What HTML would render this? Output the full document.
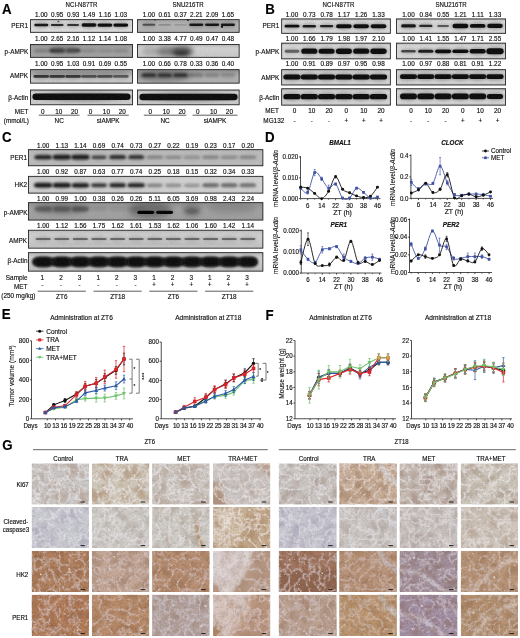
<!DOCTYPE html>
<html><head><meta charset="utf-8"><title>Figure</title>
<style>html,body{margin:0;padding:0;background:#fff;}svg{display:block;}text{font-family:"Liberation Sans",Arial,sans-serif;stroke:#111;stroke-width:0.14px;}</style>
</head><body>
<svg width="520" height="638" viewBox="0 0 520 638" fill="#111">
<defs>
<filter id="b0_5" x="-50%" y="-50%" width="200%" height="200%"><feGaussianBlur stdDeviation="0.5"/></filter>
<filter id="b0_6" x="-50%" y="-50%" width="200%" height="200%"><feGaussianBlur stdDeviation="0.6"/></filter>
<filter id="b0_7" x="-50%" y="-50%" width="200%" height="200%"><feGaussianBlur stdDeviation="0.7"/></filter>
<filter id="b0_8" x="-50%" y="-50%" width="200%" height="200%"><feGaussianBlur stdDeviation="0.8"/></filter>
<filter id="b0_9" x="-50%" y="-50%" width="200%" height="200%"><feGaussianBlur stdDeviation="0.9"/></filter>
<filter id="b1" x="-50%" y="-50%" width="200%" height="200%"><feGaussianBlur stdDeviation="1"/></filter>
<filter id="b1_2" x="-50%" y="-50%" width="200%" height="200%"><feGaussianBlur stdDeviation="1.2"/></filter>
<filter id="b1_3" x="-50%" y="-50%" width="200%" height="200%"><feGaussianBlur stdDeviation="1.3"/></filter>
<filter id="b1_5" x="-50%" y="-50%" width="200%" height="200%"><feGaussianBlur stdDeviation="1.5"/></filter>
<filter id="b1_8" x="-50%" y="-50%" width="200%" height="200%"><feGaussianBlur stdDeviation="1.8"/></filter>
<filter id="b2" x="-50%" y="-50%" width="200%" height="200%"><feGaussianBlur stdDeviation="2"/></filter>
<filter id="b2_5" x="-50%" y="-50%" width="200%" height="200%"><feGaussianBlur stdDeviation="2.5"/></filter>
<filter id="b3" x="-50%" y="-50%" width="200%" height="200%"><feGaussianBlur stdDeviation="3"/></filter>
<filter id="bnoise" x="0" y="0" width="1" height="1" color-interpolation-filters="sRGB"><feTurbulence type="fractalNoise" baseFrequency="0.6 0.9" numOctaves="2" seed="4"/><feColorMatrix type="matrix" values="0 0 0 0 0.5 0 0 0 0 0.5 0 0 0 0 0.5 1.2 0 0 0 -0.45"/></filter>

<clipPath id="c1"><rect x="30" y="19.2" width="103" height="13.6"/></clipPath>
<linearGradient id="gc1" x1="0" y1="0" x2="0" y2="1"><stop offset="0" stop-color="#888" stop-opacity="0.45"/><stop offset="0.25" stop-color="#bbb" stop-opacity="0.0"/><stop offset="0.8" stop-color="#bbb" stop-opacity="0"/><stop offset="1" stop-color="#888" stop-opacity="0.3"/></linearGradient>
<clipPath id="c2"><rect x="30" y="44" width="103" height="13.8"/></clipPath>
<linearGradient id="gc2" x1="0" y1="0" x2="0" y2="1"><stop offset="0" stop-color="#666" stop-opacity="0.45"/><stop offset="0.35" stop-color="#999" stop-opacity="0.1"/><stop offset="1" stop-color="#777" stop-opacity="0.2"/></linearGradient>
<clipPath id="c3"><rect x="30" y="69.2" width="103" height="14.4"/></clipPath>
<linearGradient id="gc3" x1="0" y1="0" x2="0" y2="1"><stop offset="0" stop-color="#666" stop-opacity="0.55"/><stop offset="0.45" stop-color="#888" stop-opacity="0.25"/><stop offset="0.6" stop-color="#bbb" stop-opacity="0.0"/><stop offset="1" stop-color="#999" stop-opacity="0.15"/></linearGradient>
<clipPath id="c4"><rect x="30" y="89.6" width="103" height="15.6"/></clipPath>
<linearGradient id="gc4" x1="0" y1="0" x2="0" y2="1"><stop offset="0" stop-color="#666" stop-opacity="0.35"/><stop offset="0.25" stop-color="#aaa" stop-opacity="0.0"/><stop offset="1" stop-color="#999" stop-opacity="0.25"/></linearGradient>
<clipPath id="c5"><rect x="137" y="19.2" width="102.6" height="13.6"/></clipPath>
<linearGradient id="gc5" x1="0" y1="0" x2="0" y2="1"><stop offset="0" stop-color="#777" stop-opacity="0.45"/><stop offset="0.4" stop-color="#aaa" stop-opacity="0.1"/><stop offset="1" stop-color="#888" stop-opacity="0.25"/></linearGradient>
<clipPath id="c6"><rect x="137" y="44" width="102.6" height="13.8"/></clipPath>
<linearGradient id="gc6" x1="0" y1="0" x2="0" y2="1"><stop offset="0" stop-color="#777" stop-opacity="0.4"/><stop offset="0.3" stop-color="#999" stop-opacity="0.0"/><stop offset="1" stop-color="#888" stop-opacity="0.15"/></linearGradient>
<clipPath id="c7"><rect x="137" y="69.2" width="102.6" height="14.4"/></clipPath>
<linearGradient id="gc7" x1="0" y1="0" x2="0" y2="1"><stop offset="0" stop-color="#444" stop-opacity="0.45"/><stop offset="0.5" stop-color="#888" stop-opacity="0.1"/><stop offset="1" stop-color="#888" stop-opacity="0.2"/></linearGradient>
<clipPath id="c8"><rect x="137" y="89.6" width="102.6" height="15.6"/></clipPath>
<linearGradient id="gc8" x1="0" y1="0" x2="0" y2="1"><stop offset="0" stop-color="#666" stop-opacity="0.35"/><stop offset="0.25" stop-color="#aaa" stop-opacity="0.0"/><stop offset="1" stop-color="#999" stop-opacity="0.25"/></linearGradient>
<clipPath id="c9"><rect x="281.2" y="18.5" width="109.6" height="15.3"/></clipPath>
<linearGradient id="gc9" x1="0" y1="0" x2="0" y2="1"><stop offset="0" stop-color="#666" stop-opacity="0.4"/><stop offset="0.22" stop-color="#aaa" stop-opacity="0.0"/><stop offset="0.8" stop-color="#aaa" stop-opacity="0.0"/><stop offset="1" stop-color="#777" stop-opacity="0.3"/></linearGradient>
<clipPath id="c10"><rect x="281.2" y="42.7" width="109.6" height="16.6"/></clipPath>
<linearGradient id="gc10" x1="0" y1="0" x2="0" y2="1"><stop offset="0" stop-color="#666" stop-opacity="0.4"/><stop offset="0.22" stop-color="#aaa" stop-opacity="0.0"/><stop offset="0.8" stop-color="#aaa" stop-opacity="0.0"/><stop offset="1" stop-color="#777" stop-opacity="0.3"/></linearGradient>
<clipPath id="c11"><rect x="281.2" y="69.2" width="109.6" height="16.2"/></clipPath>
<linearGradient id="gc11" x1="0" y1="0" x2="0" y2="1"><stop offset="0" stop-color="#666" stop-opacity="0.4"/><stop offset="0.22" stop-color="#aaa" stop-opacity="0.0"/><stop offset="0.8" stop-color="#aaa" stop-opacity="0.0"/><stop offset="1" stop-color="#777" stop-opacity="0.3"/></linearGradient>
<clipPath id="c12"><rect x="281.2" y="88.3" width="109.6" height="17.3"/></clipPath>
<linearGradient id="gc12" x1="0" y1="0" x2="0" y2="1"><stop offset="0" stop-color="#666" stop-opacity="0.4"/><stop offset="0.22" stop-color="#aaa" stop-opacity="0.0"/><stop offset="0.8" stop-color="#aaa" stop-opacity="0.0"/><stop offset="1" stop-color="#777" stop-opacity="0.3"/></linearGradient>
<clipPath id="c13"><rect x="396" y="18.5" width="110" height="15.3"/></clipPath>
<linearGradient id="gc13" x1="0" y1="0" x2="0" y2="1"><stop offset="0" stop-color="#666" stop-opacity="0.4"/><stop offset="0.22" stop-color="#aaa" stop-opacity="0.0"/><stop offset="0.8" stop-color="#aaa" stop-opacity="0.0"/><stop offset="1" stop-color="#777" stop-opacity="0.3"/></linearGradient>
<clipPath id="c14"><rect x="396" y="42.7" width="110" height="16.6"/></clipPath>
<linearGradient id="gc14" x1="0" y1="0" x2="0" y2="1"><stop offset="0" stop-color="#666" stop-opacity="0.4"/><stop offset="0.22" stop-color="#aaa" stop-opacity="0.0"/><stop offset="0.8" stop-color="#aaa" stop-opacity="0.0"/><stop offset="1" stop-color="#777" stop-opacity="0.3"/></linearGradient>
<clipPath id="c15"><rect x="396" y="69.2" width="110" height="16.2"/></clipPath>
<linearGradient id="gc15" x1="0" y1="0" x2="0" y2="1"><stop offset="0" stop-color="#666" stop-opacity="0.4"/><stop offset="0.22" stop-color="#aaa" stop-opacity="0.0"/><stop offset="0.8" stop-color="#aaa" stop-opacity="0.0"/><stop offset="1" stop-color="#777" stop-opacity="0.3"/></linearGradient>
<clipPath id="c16"><rect x="396" y="88.3" width="110" height="17.3"/></clipPath>
<linearGradient id="gc16" x1="0" y1="0" x2="0" y2="1"><stop offset="0" stop-color="#666" stop-opacity="0.4"/><stop offset="0.22" stop-color="#aaa" stop-opacity="0.0"/><stop offset="0.8" stop-color="#aaa" stop-opacity="0.0"/><stop offset="1" stop-color="#777" stop-opacity="0.3"/></linearGradient>
<clipPath id="c17"><rect x="28" y="149.2" width="235.3" height="17"/></clipPath>
<linearGradient id="gc17" x1="0" y1="0" x2="0" y2="1"><stop offset="0" stop-color="#888" stop-opacity="0.45"/><stop offset="0.2" stop-color="#bbb" stop-opacity="0.0"/><stop offset="0.8" stop-color="#bbb" stop-opacity="0.0"/><stop offset="1" stop-color="#777" stop-opacity="0.35"/></linearGradient>
<clipPath id="c18"><rect x="28" y="175.9" width="235.3" height="17.7"/></clipPath>
<linearGradient id="gc18" x1="0" y1="0" x2="0" y2="1"><stop offset="0" stop-color="#999" stop-opacity="0.35"/><stop offset="0.2" stop-color="#bbb" stop-opacity="0.0"/><stop offset="0.8" stop-color="#bbb" stop-opacity="0.0"/><stop offset="1" stop-color="#777" stop-opacity="0.35"/></linearGradient>
<clipPath id="c19"><rect x="28" y="202.2" width="235.3" height="18.3"/></clipPath>
<linearGradient id="gc19" x1="0" y1="0" x2="0" y2="1"><stop offset="0" stop-color="#666" stop-opacity="0.35"/><stop offset="0.5" stop-color="#999" stop-opacity="0.1"/><stop offset="1" stop-color="#888" stop-opacity="0.25"/></linearGradient>
<clipPath id="c20"><rect x="28" y="229.8" width="235.3" height="18.8"/></clipPath>
<linearGradient id="gc20" x1="0" y1="0" x2="0" y2="1"><stop offset="0" stop-color="#888" stop-opacity="0.35"/><stop offset="0.3" stop-color="#bbb" stop-opacity="0.0"/><stop offset="1" stop-color="#999" stop-opacity="0.25"/></linearGradient>
<clipPath id="c21"><rect x="28" y="252.2" width="235.3" height="19.4"/></clipPath>
<linearGradient id="gc21" x1="0" y1="0" x2="0" y2="1"><stop offset="0" stop-color="#777" stop-opacity="0.35"/><stop offset="0.3" stop-color="#bbb" stop-opacity="0.0"/><stop offset="1" stop-color="#888" stop-opacity="0.3"/></linearGradient>
<filter id="fp1" x="0" y="0" width="1" height="1" color-interpolation-filters="sRGB"><feTurbulence type="fractalNoise" baseFrequency="0.09" numOctaves="2" seed="10"/><feColorMatrix type="matrix" values="0 0 0 0 0.659 0 0 0 0 0.525 0 0 0 0 0.439 3.00 0 0 0 -1.20"/></filter>
<filter id="fc1" x="0" y="0" width="1" height="1" color-interpolation-filters="sRGB"><feTurbulence type="turbulence" baseFrequency="0.1" numOctaves="3" seed="17"/><feColorMatrix type="matrix" values="0 0 0 0 0.896 0 0 0 0 0.885 0 0 0 0 0.899 0 -4.50 0 0 1.35"/><feGaussianBlur stdDeviation="0.45"/></filter>
<filter id="fl1" x="0" y="0" width="1" height="1" color-interpolation-filters="sRGB"><feTurbulence type="fractalNoise" baseFrequency="0.25" numOctaves="2" seed="19"/><feColorMatrix type="matrix" values="0 0 0 0 0.960 0 0 0 0 0.945 0 0 0 0 0.950 6.00 0 0 0 -4.30"/></filter>
<filter id="fg1" x="0" y="0" width="1" height="1" color-interpolation-filters="sRGB"><feTurbulence type="fractalNoise" baseFrequency="0.45" numOctaves="2" seed="23"/><feColorMatrix type="matrix" values="0 0 0 0 0.576 0 0 0 0 0.565 0 0 0 0 0.559 2.00 0 0 0 -0.95"/></filter>
<clipPath id="ic1"><rect x="31.7" y="463.4" width="57.3" height="41"/></clipPath>
<filter id="fp2" x="0" y="0" width="1" height="1" color-interpolation-filters="sRGB"><feTurbulence type="fractalNoise" baseFrequency="0.09" numOctaves="2" seed="17"/><feColorMatrix type="matrix" values="0 0 0 0 0.635 0 0 0 0 0.478 0 0 0 0 0.353 3.00 0 0 0 -1.20"/></filter>
<filter id="fc2" x="0" y="0" width="1" height="1" color-interpolation-filters="sRGB"><feTurbulence type="turbulence" baseFrequency="0.1" numOctaves="3" seed="24"/><feColorMatrix type="matrix" values="0 0 0 0 0.907 0 0 0 0 0.888 0 0 0 0 0.882 0 -4.50 0 0 1.35"/><feGaussianBlur stdDeviation="0.45"/></filter>
<filter id="fl2" x="0" y="0" width="1" height="1" color-interpolation-filters="sRGB"><feTurbulence type="fractalNoise" baseFrequency="0.25" numOctaves="2" seed="26"/><feColorMatrix type="matrix" values="0 0 0 0 0.960 0 0 0 0 0.945 0 0 0 0 0.950 6.00 0 0 0 -4.30"/></filter>
<filter id="fg2" x="0" y="0" width="1" height="1" color-interpolation-filters="sRGB"><feTurbulence type="fractalNoise" baseFrequency="0.45" numOctaves="2" seed="30"/><feColorMatrix type="matrix" values="0 0 0 0 0.593 0 0 0 0 0.570 0 0 0 0 0.531 2.00 0 0 0 -0.95"/></filter>
<clipPath id="ic2"><rect x="91.9" y="463.4" width="57.3" height="41"/></clipPath>
<filter id="fp3" x="0" y="0" width="1" height="1" color-interpolation-filters="sRGB"><feTurbulence type="fractalNoise" baseFrequency="0.09" numOctaves="2" seed="24"/><feColorMatrix type="matrix" values="0 0 0 0 0.624 0 0 0 0 0.502 0 0 0 0 0.439 3.00 0 0 0 -1.20"/></filter>
<filter id="fc3" x="0" y="0" width="1" height="1" color-interpolation-filters="sRGB"><feTurbulence type="turbulence" baseFrequency="0.1" numOctaves="3" seed="31"/><feColorMatrix type="matrix" values="0 0 0 0 0.900 0 0 0 0 0.885 0 0 0 0 0.892 0 -4.50 0 0 1.35"/><feGaussianBlur stdDeviation="0.45"/></filter>
<filter id="fl3" x="0" y="0" width="1" height="1" color-interpolation-filters="sRGB"><feTurbulence type="fractalNoise" baseFrequency="0.25" numOctaves="2" seed="33"/><feColorMatrix type="matrix" values="0 0 0 0 0.960 0 0 0 0 0.945 0 0 0 0 0.950 6.00 0 0 0 -4.30"/></filter>
<filter id="fg3" x="0" y="0" width="1" height="1" color-interpolation-filters="sRGB"><feTurbulence type="fractalNoise" baseFrequency="0.45" numOctaves="2" seed="37"/><feColorMatrix type="matrix" values="0 0 0 0 0.582 0 0 0 0 0.565 0 0 0 0 0.548 2.00 0 0 0 -0.95"/></filter>
<clipPath id="ic3"><rect x="152.1" y="463.4" width="57.5" height="41"/></clipPath>
<filter id="fp4" x="0" y="0" width="1" height="1" color-interpolation-filters="sRGB"><feTurbulence type="fractalNoise" baseFrequency="0.09" numOctaves="2" seed="31"/><feColorMatrix type="matrix" values="0 0 0 0 0.659 0 0 0 0 0.541 0 0 0 0 0.471 3.00 0 0 0 -1.20"/></filter>
<filter id="fc4" x="0" y="0" width="1" height="1" color-interpolation-filters="sRGB"><feTurbulence type="turbulence" baseFrequency="0.1" numOctaves="3" seed="38"/><feColorMatrix type="matrix" values="0 0 0 0 0.902 0 0 0 0 0.875 0 0 0 0 0.869 0 -4.50 0 0 1.35"/><feGaussianBlur stdDeviation="0.45"/></filter>
<filter id="fl4" x="0" y="0" width="1" height="1" color-interpolation-filters="sRGB"><feTurbulence type="fractalNoise" baseFrequency="0.25" numOctaves="2" seed="40"/><feColorMatrix type="matrix" values="0 0 0 0 0.960 0 0 0 0 0.945 0 0 0 0 0.950 6.00 0 0 0 -4.30"/></filter>
<filter id="fg4" x="0" y="0" width="1" height="1" color-interpolation-filters="sRGB"><feTurbulence type="fractalNoise" baseFrequency="0.45" numOctaves="2" seed="44"/><feColorMatrix type="matrix" values="0 0 0 0 0.584 0 0 0 0 0.548 0 0 0 0 0.511 2.00 0 0 0 -0.95"/></filter>
<clipPath id="ic4"><rect x="213.1" y="463.4" width="57.1" height="41"/></clipPath>
<filter id="fp5" x="0" y="0" width="1" height="1" color-interpolation-filters="sRGB"><feTurbulence type="fractalNoise" baseFrequency="0.09" numOctaves="2" seed="38"/><feColorMatrix type="matrix" values="0 0 0 0 0.604 0 0 0 0 0.502 0 0 0 0 0.471 3.00 0 0 0 -1.20"/></filter>
<filter id="fc5" x="0" y="0" width="1" height="1" color-interpolation-filters="sRGB"><feTurbulence type="turbulence" baseFrequency="0.1" numOctaves="3" seed="45"/><feColorMatrix type="matrix" values="0 0 0 0 0.895 0 0 0 0 0.881 0 0 0 0 0.892 0 -4.50 0 0 1.35"/><feGaussianBlur stdDeviation="0.45"/></filter>
<filter id="fl5" x="0" y="0" width="1" height="1" color-interpolation-filters="sRGB"><feTurbulence type="fractalNoise" baseFrequency="0.25" numOctaves="2" seed="47"/><feColorMatrix type="matrix" values="0 0 0 0 0.960 0 0 0 0 0.945 0 0 0 0 0.950 6.00 0 0 0 -4.30"/></filter>
<filter id="fg5" x="0" y="0" width="1" height="1" color-interpolation-filters="sRGB"><feTurbulence type="fractalNoise" baseFrequency="0.45" numOctaves="2" seed="51"/><feColorMatrix type="matrix" values="0 0 0 0 0.573 0 0 0 0 0.559 0 0 0 0 0.548 2.00 0 0 0 -0.95"/></filter>
<clipPath id="ic5"><rect x="278.8" y="463.4" width="57.9" height="41"/></clipPath>
<filter id="fp6" x="0" y="0" width="1" height="1" color-interpolation-filters="sRGB"><feTurbulence type="fractalNoise" baseFrequency="0.09" numOctaves="2" seed="45"/><feColorMatrix type="matrix" values="0 0 0 0 0.580 0 0 0 0 0.408 0 0 0 0 0.290 3.00 0 0 0 -1.20"/></filter>
<filter id="fc6" x="0" y="0" width="1" height="1" color-interpolation-filters="sRGB"><feTurbulence type="turbulence" baseFrequency="0.1" numOctaves="3" seed="52"/><feColorMatrix type="matrix" values="0 0 0 0 0.895 0 0 0 0 0.847 0 0 0 0 0.827 0 -4.50 0 0 1.35"/><feGaussianBlur stdDeviation="0.45"/></filter>
<filter id="fl6" x="0" y="0" width="1" height="1" color-interpolation-filters="sRGB"><feTurbulence type="fractalNoise" baseFrequency="0.25" numOctaves="2" seed="54"/><feColorMatrix type="matrix" values="0 0 0 0 0.960 0 0 0 0 0.945 0 0 0 0 0.950 6.00 0 0 0 -4.30"/></filter>
<filter id="fg6" x="0" y="0" width="1" height="1" color-interpolation-filters="sRGB"><feTurbulence type="fractalNoise" baseFrequency="0.45" numOctaves="2" seed="58"/><feColorMatrix type="matrix" values="0 0 0 0 0.573 0 0 0 0 0.503 0 0 0 0 0.443 2.00 0 0 0 -0.95"/></filter>
<clipPath id="ic6"><rect x="339.2" y="463.4" width="57.7" height="41"/></clipPath>
<filter id="fp7" x="0" y="0" width="1" height="1" color-interpolation-filters="sRGB"><feTurbulence type="fractalNoise" baseFrequency="0.09" numOctaves="2" seed="52"/><feColorMatrix type="matrix" values="0 0 0 0 0.573 0 0 0 0 0.455 0 0 0 0 0.408 3.00 0 0 0 -1.20"/></filter>
<filter id="fc7" x="0" y="0" width="1" height="1" color-interpolation-filters="sRGB"><feTurbulence type="turbulence" baseFrequency="0.1" numOctaves="3" seed="59"/><feColorMatrix type="matrix" values="0 0 0 0 0.889 0 0 0 0 0.866 0 0 0 0 0.869 0 -4.50 0 0 1.35"/><feGaussianBlur stdDeviation="0.45"/></filter>
<filter id="fl7" x="0" y="0" width="1" height="1" color-interpolation-filters="sRGB"><feTurbulence type="fractalNoise" baseFrequency="0.25" numOctaves="2" seed="61"/><feColorMatrix type="matrix" values="0 0 0 0 0.960 0 0 0 0 0.945 0 0 0 0 0.950 6.00 0 0 0 -4.30"/></filter>
<filter id="fg7" x="0" y="0" width="1" height="1" color-interpolation-filters="sRGB"><feTurbulence type="fractalNoise" baseFrequency="0.45" numOctaves="2" seed="65"/><feColorMatrix type="matrix" values="0 0 0 0 0.565 0 0 0 0 0.534 0 0 0 0 0.511 2.00 0 0 0 -0.95"/></filter>
<clipPath id="ic7"><rect x="399.6" y="463.4" width="57.9" height="41"/></clipPath>
<filter id="fp8" x="0" y="0" width="1" height="1" color-interpolation-filters="sRGB"><feTurbulence type="fractalNoise" baseFrequency="0.09" numOctaves="2" seed="59"/><feColorMatrix type="matrix" values="0 0 0 0 0.604 0 0 0 0 0.502 0 0 0 0 0.439 3.00 0 0 0 -1.20"/></filter>
<filter id="fc8" x="0" y="0" width="1" height="1" color-interpolation-filters="sRGB"><feTurbulence type="turbulence" baseFrequency="0.1" numOctaves="3" seed="66"/><feColorMatrix type="matrix" values="0 0 0 0 0.898 0 0 0 0 0.881 0 0 0 0 0.880 0 -4.50 0 0 1.35"/><feGaussianBlur stdDeviation="0.45"/></filter>
<filter id="fl8" x="0" y="0" width="1" height="1" color-interpolation-filters="sRGB"><feTurbulence type="fractalNoise" baseFrequency="0.25" numOctaves="2" seed="68"/><feColorMatrix type="matrix" values="0 0 0 0 0.960 0 0 0 0 0.945 0 0 0 0 0.950 6.00 0 0 0 -4.30"/></filter>
<filter id="fg8" x="0" y="0" width="1" height="1" color-interpolation-filters="sRGB"><feTurbulence type="fractalNoise" baseFrequency="0.45" numOctaves="2" seed="72"/><feColorMatrix type="matrix" values="0 0 0 0 0.579 0 0 0 0 0.559 0 0 0 0 0.528 2.00 0 0 0 -0.95"/></filter>
<clipPath id="ic8"><rect x="460.8" y="463.4" width="57.2" height="41"/></clipPath>
<filter id="fp9" x="0" y="0" width="1" height="1" color-interpolation-filters="sRGB"><feTurbulence type="fractalNoise" baseFrequency="0.09" numOctaves="2" seed="66"/><feColorMatrix type="matrix" values="0 0 0 0 0.561 0 0 0 0 0.541 0 0 0 0 0.627 3.00 0 0 0 -1.20"/></filter>
<filter id="fc9" x="0" y="0" width="1" height="1" color-interpolation-filters="sRGB"><feTurbulence type="turbulence" baseFrequency="0.1" numOctaves="3" seed="73"/><feColorMatrix type="matrix" values="0 0 0 0 0.895 0 0 0 0 0.890 0 0 0 0 0.921 0 -4.50 0 0 1.35"/><feGaussianBlur stdDeviation="0.45"/></filter>
<filter id="fl9" x="0" y="0" width="1" height="1" color-interpolation-filters="sRGB"><feTurbulence type="fractalNoise" baseFrequency="0.25" numOctaves="2" seed="75"/><feColorMatrix type="matrix" values="0 0 0 0 0.960 0 0 0 0 0.945 0 0 0 0 0.950 6.00 0 0 0 -4.30"/></filter>
<filter id="fg9" x="0" y="0" width="1" height="1" color-interpolation-filters="sRGB"><feTurbulence type="fractalNoise" baseFrequency="0.45" numOctaves="2" seed="79"/><feColorMatrix type="matrix" values="0 0 0 0 0.573 0 0 0 0 0.573 0 0 0 0 0.593 2.00 0 0 0 -0.95"/></filter>
<clipPath id="ic9"><rect x="31.7" y="507" width="57.3" height="41"/></clipPath>
<filter id="fp10" x="0" y="0" width="1" height="1" color-interpolation-filters="sRGB"><feTurbulence type="fractalNoise" baseFrequency="0.09" numOctaves="2" seed="73"/><feColorMatrix type="matrix" values="0 0 0 0 0.604 0 0 0 0 0.541 0 0 0 0 0.502 3.00 0 0 0 -1.20"/></filter>
<filter id="fc10" x="0" y="0" width="1" height="1" color-interpolation-filters="sRGB"><feTurbulence type="turbulence" baseFrequency="0.1" numOctaves="3" seed="80"/><feColorMatrix type="matrix" values="0 0 0 0 0.902 0 0 0 0 0.892 0 0 0 0 0.901 0 -4.50 0 0 1.35"/><feGaussianBlur stdDeviation="0.45"/></filter>
<filter id="fl10" x="0" y="0" width="1" height="1" color-interpolation-filters="sRGB"><feTurbulence type="fractalNoise" baseFrequency="0.25" numOctaves="2" seed="82"/><feColorMatrix type="matrix" values="0 0 0 0 0.960 0 0 0 0 0.945 0 0 0 0 0.950 6.00 0 0 0 -4.30"/></filter>
<filter id="fg10" x="0" y="0" width="1" height="1" color-interpolation-filters="sRGB"><feTurbulence type="fractalNoise" baseFrequency="0.45" numOctaves="2" seed="86"/><feColorMatrix type="matrix" values="0 0 0 0 0.584 0 0 0 0 0.576 0 0 0 0 0.562 2.00 0 0 0 -0.95"/></filter>
<clipPath id="ic10"><rect x="91.9" y="507" width="57.3" height="41"/></clipPath>
<filter id="fp11" x="0" y="0" width="1" height="1" color-interpolation-filters="sRGB"><feTurbulence type="fractalNoise" baseFrequency="0.09" numOctaves="2" seed="80"/><feColorMatrix type="matrix" values="0 0 0 0 0.612 0 0 0 0 0.533 0 0 0 0 0.471 3.00 0 0 0 -1.20"/></filter>
<filter id="fc11" x="0" y="0" width="1" height="1" color-interpolation-filters="sRGB"><feTurbulence type="turbulence" baseFrequency="0.1" numOctaves="3" seed="87"/><feColorMatrix type="matrix" values="0 0 0 0 0.902 0 0 0 0 0.890 0 0 0 0 0.898 0 -4.50 0 0 1.35"/><feGaussianBlur stdDeviation="0.45"/></filter>
<filter id="fl11" x="0" y="0" width="1" height="1" color-interpolation-filters="sRGB"><feTurbulence type="fractalNoise" baseFrequency="0.25" numOctaves="2" seed="89"/><feColorMatrix type="matrix" values="0 0 0 0 0.960 0 0 0 0 0.945 0 0 0 0 0.950 6.00 0 0 0 -4.30"/></filter>
<filter id="fg11" x="0" y="0" width="1" height="1" color-interpolation-filters="sRGB"><feTurbulence type="fractalNoise" baseFrequency="0.45" numOctaves="2" seed="93"/><feColorMatrix type="matrix" values="0 0 0 0 0.584 0 0 0 0 0.573 0 0 0 0 0.556 2.00 0 0 0 -0.95"/></filter>
<clipPath id="ic11"><rect x="152.1" y="507" width="57.5" height="41"/></clipPath>
<filter id="fp12" x="0" y="0" width="1" height="1" color-interpolation-filters="sRGB"><feTurbulence type="fractalNoise" baseFrequency="0.09" numOctaves="2" seed="87"/><feColorMatrix type="matrix" values="0 0 0 0 0.627 0 0 0 0 0.478 0 0 0 0 0.337 3.00 0 0 0 -1.20"/></filter>
<filter id="fc12" x="0" y="0" width="1" height="1" color-interpolation-filters="sRGB"><feTurbulence type="turbulence" baseFrequency="0.1" numOctaves="3" seed="94"/><feColorMatrix type="matrix" values="0 0 0 0 0.910 0 0 0 0 0.871 0 0 0 0 0.848 0 -4.50 0 0 1.35"/><feGaussianBlur stdDeviation="0.45"/></filter>
<filter id="fl12" x="0" y="0" width="1" height="1" color-interpolation-filters="sRGB"><feTurbulence type="fractalNoise" baseFrequency="0.25" numOctaves="2" seed="96"/><feColorMatrix type="matrix" values="0 0 0 0 0.960 0 0 0 0 0.945 0 0 0 0 0.950 6.00 0 0 0 -4.30"/></filter>
<filter id="fg12" x="0" y="0" width="1" height="1" color-interpolation-filters="sRGB"><feTurbulence type="fractalNoise" baseFrequency="0.45" numOctaves="2" seed="100"/><feColorMatrix type="matrix" values="0 0 0 0 0.599 0 0 0 0 0.542 0 0 0 0 0.477 2.00 0 0 0 -0.95"/></filter>
<clipPath id="ic12"><rect x="213.1" y="507" width="57.1" height="41"/></clipPath>
<filter id="fp13" x="0" y="0" width="1" height="1" color-interpolation-filters="sRGB"><feTurbulence type="fractalNoise" baseFrequency="0.09" numOctaves="2" seed="94"/><feColorMatrix type="matrix" values="0 0 0 0 0.541 0 0 0 0 0.518 0 0 0 0 0.627 3.00 0 0 0 -1.20"/></filter>
<filter id="fc13" x="0" y="0" width="1" height="1" color-interpolation-filters="sRGB"><feTurbulence type="turbulence" baseFrequency="0.1" numOctaves="3" seed="101"/><feColorMatrix type="matrix" values="0 0 0 0 0.889 0 0 0 0 0.881 0 0 0 0 0.915 0 -4.50 0 0 1.35"/><feGaussianBlur stdDeviation="0.45"/></filter>
<filter id="fl13" x="0" y="0" width="1" height="1" color-interpolation-filters="sRGB"><feTurbulence type="fractalNoise" baseFrequency="0.25" numOctaves="2" seed="103"/><feColorMatrix type="matrix" values="0 0 0 0 0.960 0 0 0 0 0.945 0 0 0 0 0.950 6.00 0 0 0 -4.30"/></filter>
<filter id="fg13" x="0" y="0" width="1" height="1" color-interpolation-filters="sRGB"><feTurbulence type="fractalNoise" baseFrequency="0.45" numOctaves="2" seed="107"/><feColorMatrix type="matrix" values="0 0 0 0 0.565 0 0 0 0 0.559 0 0 0 0 0.584 2.00 0 0 0 -0.95"/></filter>
<clipPath id="ic13"><rect x="278.8" y="507" width="57.9" height="41"/></clipPath>
<filter id="fp14" x="0" y="0" width="1" height="1" color-interpolation-filters="sRGB"><feTurbulence type="fractalNoise" baseFrequency="0.09" numOctaves="2" seed="101"/><feColorMatrix type="matrix" values="0 0 0 0 0.580 0 0 0 0 0.502 0 0 0 0 0.471 3.00 0 0 0 -1.20"/></filter>
<filter id="fc14" x="0" y="0" width="1" height="1" color-interpolation-filters="sRGB"><feTurbulence type="turbulence" baseFrequency="0.1" numOctaves="3" seed="108"/><feColorMatrix type="matrix" values="0 0 0 0 0.898 0 0 0 0 0.885 0 0 0 0 0.898 0 -4.50 0 0 1.35"/><feGaussianBlur stdDeviation="0.45"/></filter>
<filter id="fl14" x="0" y="0" width="1" height="1" color-interpolation-filters="sRGB"><feTurbulence type="fractalNoise" baseFrequency="0.25" numOctaves="2" seed="110"/><feColorMatrix type="matrix" values="0 0 0 0 0.960 0 0 0 0 0.945 0 0 0 0 0.950 6.00 0 0 0 -4.30"/></filter>
<filter id="fg14" x="0" y="0" width="1" height="1" color-interpolation-filters="sRGB"><feTurbulence type="fractalNoise" baseFrequency="0.45" numOctaves="2" seed="114"/><feColorMatrix type="matrix" values="0 0 0 0 0.579 0 0 0 0 0.565 0 0 0 0 0.556 2.00 0 0 0 -0.95"/></filter>
<clipPath id="ic14"><rect x="339.2" y="507" width="57.7" height="41"/></clipPath>
<filter id="fp15" x="0" y="0" width="1" height="1" color-interpolation-filters="sRGB"><feTurbulence type="fractalNoise" baseFrequency="0.09" numOctaves="2" seed="108"/><feColorMatrix type="matrix" values="0 0 0 0 0.580 0 0 0 0 0.502 0 0 0 0 0.471 3.00 0 0 0 -1.20"/></filter>
<filter id="fc15" x="0" y="0" width="1" height="1" color-interpolation-filters="sRGB"><feTurbulence type="turbulence" baseFrequency="0.1" numOctaves="3" seed="115"/><feColorMatrix type="matrix" values="0 0 0 0 0.895 0 0 0 0 0.878 0 0 0 0 0.891 0 -4.50 0 0 1.35"/><feGaussianBlur stdDeviation="0.45"/></filter>
<filter id="fl15" x="0" y="0" width="1" height="1" color-interpolation-filters="sRGB"><feTurbulence type="fractalNoise" baseFrequency="0.25" numOctaves="2" seed="117"/><feColorMatrix type="matrix" values="0 0 0 0 0.960 0 0 0 0 0.945 0 0 0 0 0.950 6.00 0 0 0 -4.30"/></filter>
<filter id="fg15" x="0" y="0" width="1" height="1" color-interpolation-filters="sRGB"><feTurbulence type="fractalNoise" baseFrequency="0.45" numOctaves="2" seed="121"/><feColorMatrix type="matrix" values="0 0 0 0 0.573 0 0 0 0 0.553 0 0 0 0 0.545 2.00 0 0 0 -0.95"/></filter>
<clipPath id="ic15"><rect x="399.6" y="507" width="57.9" height="41"/></clipPath>
<filter id="fp16" x="0" y="0" width="1" height="1" color-interpolation-filters="sRGB"><feTurbulence type="fractalNoise" baseFrequency="0.09" numOctaves="2" seed="115"/><feColorMatrix type="matrix" values="0 0 0 0 0.604 0 0 0 0 0.486 0 0 0 0 0.400 3.00 0 0 0 -1.20"/></filter>
<filter id="fc16" x="0" y="0" width="1" height="1" color-interpolation-filters="sRGB"><feTurbulence type="turbulence" baseFrequency="0.1" numOctaves="3" seed="122"/><feColorMatrix type="matrix" values="0 0 0 0 0.905 0 0 0 0 0.885 0 0 0 0 0.887 0 -4.50 0 0 1.35"/><feGaussianBlur stdDeviation="0.45"/></filter>
<filter id="fl16" x="0" y="0" width="1" height="1" color-interpolation-filters="sRGB"><feTurbulence type="fractalNoise" baseFrequency="0.25" numOctaves="2" seed="124"/><feColorMatrix type="matrix" values="0 0 0 0 0.960 0 0 0 0 0.945 0 0 0 0 0.950 6.00 0 0 0 -4.30"/></filter>
<filter id="fg16" x="0" y="0" width="1" height="1" color-interpolation-filters="sRGB"><feTurbulence type="fractalNoise" baseFrequency="0.45" numOctaves="2" seed="128"/><feColorMatrix type="matrix" values="0 0 0 0 0.590 0 0 0 0 0.565 0 0 0 0 0.539 2.00 0 0 0 -0.95"/></filter>
<clipPath id="ic16"><rect x="460.8" y="507" width="57.2" height="41"/></clipPath>
<filter id="fp17" x="0" y="0" width="1" height="1" color-interpolation-filters="sRGB"><feTurbulence type="fractalNoise" baseFrequency="0.09" numOctaves="2" seed="122"/><feColorMatrix type="matrix" values="0 0 0 0 0.572 0 0 0 0 0.395 0 0 0 0 0.267 3.00 0 0 0 -1.20"/></filter>
<filter id="fc17" x="0" y="0" width="1" height="1" color-interpolation-filters="sRGB"><feTurbulence type="turbulence" baseFrequency="0.1" numOctaves="3" seed="129"/><feColorMatrix type="matrix" values="0 0 0 0 0.800 0 0 0 0 0.711 0 0 0 0 0.685 0 -4.50 0 0 1.35"/><feGaussianBlur stdDeviation="0.45"/></filter>
<filter id="fl17" x="0" y="0" width="1" height="1" color-interpolation-filters="sRGB"><feTurbulence type="fractalNoise" baseFrequency="0.25" numOctaves="2" seed="131"/><feColorMatrix type="matrix" values="0 0 0 0 0.960 0 0 0 0 0.945 0 0 0 0 0.950 6.00 0 0 0 -4.30"/></filter>
<filter id="fg17" x="0" y="0" width="1" height="1" color-interpolation-filters="sRGB"><feTurbulence type="fractalNoise" baseFrequency="0.45" numOctaves="2" seed="135"/><feColorMatrix type="matrix" values="0 0 0 0 0.500 0 0 0 0 0.364 0 0 0 0 0.268 2.00 0 0 0 -0.95"/></filter>
<clipPath id="ic17"><rect x="31.7" y="550.9" width="57.3" height="41.1"/></clipPath>
<filter id="fp18" x="0" y="0" width="1" height="1" color-interpolation-filters="sRGB"><feTurbulence type="fractalNoise" baseFrequency="0.09" numOctaves="2" seed="129"/><feColorMatrix type="matrix" values="0 0 0 0 0.602 0 0 0 0 0.454 0 0 0 0 0.355 3.00 0 0 0 -1.20"/></filter>
<filter id="fc18" x="0" y="0" width="1" height="1" color-interpolation-filters="sRGB"><feTurbulence type="turbulence" baseFrequency="0.1" numOctaves="3" seed="136"/><feColorMatrix type="matrix" values="0 0 0 0 0.830 0 0 0 0 0.770 0 0 0 0 0.773 0 -4.50 0 0 1.35"/><feGaussianBlur stdDeviation="0.45"/></filter>
<filter id="fl18" x="0" y="0" width="1" height="1" color-interpolation-filters="sRGB"><feTurbulence type="fractalNoise" baseFrequency="0.25" numOctaves="2" seed="138"/><feColorMatrix type="matrix" values="0 0 0 0 0.960 0 0 0 0 0.945 0 0 0 0 0.950 6.00 0 0 0 -4.30"/></filter>
<filter id="fg18" x="0" y="0" width="1" height="1" color-interpolation-filters="sRGB"><feTurbulence type="fractalNoise" baseFrequency="0.45" numOctaves="2" seed="142"/><feColorMatrix type="matrix" values="0 0 0 0 0.553 0 0 0 0 0.472 0 0 0 0 0.426 2.00 0 0 0 -0.95"/></filter>
<clipPath id="ic18"><rect x="91.9" y="550.9" width="57.3" height="41.1"/></clipPath>
<filter id="fp19" x="0" y="0" width="1" height="1" color-interpolation-filters="sRGB"><feTurbulence type="fractalNoise" baseFrequency="0.09" numOctaves="2" seed="136"/><feColorMatrix type="matrix" values="0 0 0 0 0.584 0 0 0 0 0.418 0 0 0 0 0.300 3.00 0 0 0 -1.20"/></filter>
<filter id="fc19" x="0" y="0" width="1" height="1" color-interpolation-filters="sRGB"><feTurbulence type="turbulence" baseFrequency="0.1" numOctaves="3" seed="143"/><feColorMatrix type="matrix" values="0 0 0 0 0.813 0 0 0 0 0.734 0 0 0 0 0.718 0 -4.50 0 0 1.35"/><feGaussianBlur stdDeviation="0.45"/></filter>
<filter id="fl19" x="0" y="0" width="1" height="1" color-interpolation-filters="sRGB"><feTurbulence type="fractalNoise" baseFrequency="0.25" numOctaves="2" seed="145"/><feColorMatrix type="matrix" values="0 0 0 0 0.960 0 0 0 0 0.945 0 0 0 0 0.950 6.00 0 0 0 -4.30"/></filter>
<filter id="fg19" x="0" y="0" width="1" height="1" color-interpolation-filters="sRGB"><feTurbulence type="fractalNoise" baseFrequency="0.45" numOctaves="2" seed="149"/><feColorMatrix type="matrix" values="0 0 0 0 0.522 0 0 0 0 0.407 0 0 0 0 0.328 2.00 0 0 0 -0.95"/></filter>
<clipPath id="ic19"><rect x="152.1" y="550.9" width="57.5" height="41.1"/></clipPath>
<filter id="fp20" x="0" y="0" width="1" height="1" color-interpolation-filters="sRGB"><feTurbulence type="fractalNoise" baseFrequency="0.09" numOctaves="2" seed="143"/><feColorMatrix type="matrix" values="0 0 0 0 0.635 0 0 0 0 0.512 0 0 0 0 0.427 3.00 0 0 0 -1.20"/></filter>
<filter id="fc20" x="0" y="0" width="1" height="1" color-interpolation-filters="sRGB"><feTurbulence type="turbulence" baseFrequency="0.1" numOctaves="3" seed="150"/><feColorMatrix type="matrix" values="0 0 0 0 0.863 0 0 0 0 0.828 0 0 0 0 0.845 0 -4.50 0 0 1.35"/><feGaussianBlur stdDeviation="0.45"/></filter>
<filter id="fl20" x="0" y="0" width="1" height="1" color-interpolation-filters="sRGB"><feTurbulence type="fractalNoise" baseFrequency="0.25" numOctaves="2" seed="152"/><feColorMatrix type="matrix" values="0 0 0 0 0.960 0 0 0 0 0.945 0 0 0 0 0.950 6.00 0 0 0 -4.30"/></filter>
<filter id="fg20" x="0" y="0" width="1" height="1" color-interpolation-filters="sRGB"><feTurbulence type="fractalNoise" baseFrequency="0.45" numOctaves="2" seed="156"/><feColorMatrix type="matrix" values="0 0 0 0 0.613 0 0 0 0 0.576 0 0 0 0 0.556 2.00 0 0 0 -0.95"/></filter>
<clipPath id="ic20"><rect x="213.1" y="550.9" width="57.1" height="41.1"/></clipPath>
<filter id="fp21" x="0" y="0" width="1" height="1" color-interpolation-filters="sRGB"><feTurbulence type="fractalNoise" baseFrequency="0.09" numOctaves="2" seed="150"/><feColorMatrix type="matrix" values="0 0 0 0 0.553 0 0 0 0 0.384 0 0 0 0 0.276 3.00 0 0 0 -1.20"/></filter>
<filter id="fc21" x="0" y="0" width="1" height="1" color-interpolation-filters="sRGB"><feTurbulence type="turbulence" baseFrequency="0.1" numOctaves="3" seed="157"/><feColorMatrix type="matrix" values="0 0 0 0 0.781 0 0 0 0 0.700 0 0 0 0 0.695 0 -4.50 0 0 1.35"/><feGaussianBlur stdDeviation="0.45"/></filter>
<filter id="fl21" x="0" y="0" width="1" height="1" color-interpolation-filters="sRGB"><feTurbulence type="fractalNoise" baseFrequency="0.25" numOctaves="2" seed="159"/><feColorMatrix type="matrix" values="0 0 0 0 0.960 0 0 0 0 0.945 0 0 0 0 0.950 6.00 0 0 0 -4.30"/></filter>
<filter id="fg21" x="0" y="0" width="1" height="1" color-interpolation-filters="sRGB"><feTurbulence type="fractalNoise" baseFrequency="0.45" numOctaves="2" seed="163"/><feColorMatrix type="matrix" values="0 0 0 0 0.466 0 0 0 0 0.344 0 0 0 0 0.285 2.00 0 0 0 -0.95"/></filter>
<clipPath id="ic21"><rect x="278.8" y="550.9" width="57.9" height="41.1"/></clipPath>
<filter id="fp22" x="0" y="0" width="1" height="1" color-interpolation-filters="sRGB"><feTurbulence type="fractalNoise" baseFrequency="0.09" numOctaves="2" seed="157"/><feColorMatrix type="matrix" values="0 0 0 0 0.586 0 0 0 0 0.426 0 0 0 0 0.311 3.00 0 0 0 -1.20"/></filter>
<filter id="fc22" x="0" y="0" width="1" height="1" color-interpolation-filters="sRGB"><feTurbulence type="turbulence" baseFrequency="0.1" numOctaves="3" seed="164"/><feColorMatrix type="matrix" values="0 0 0 0 0.814 0 0 0 0 0.742 0 0 0 0 0.729 0 -4.50 0 0 1.35"/><feGaussianBlur stdDeviation="0.45"/></filter>
<filter id="fl22" x="0" y="0" width="1" height="1" color-interpolation-filters="sRGB"><feTurbulence type="fractalNoise" baseFrequency="0.25" numOctaves="2" seed="166"/><feColorMatrix type="matrix" values="0 0 0 0 0.960 0 0 0 0 0.945 0 0 0 0 0.950 6.00 0 0 0 -4.30"/></filter>
<filter id="fg22" x="0" y="0" width="1" height="1" color-interpolation-filters="sRGB"><feTurbulence type="fractalNoise" baseFrequency="0.45" numOctaves="2" seed="170"/><feColorMatrix type="matrix" values="0 0 0 0 0.525 0 0 0 0 0.421 0 0 0 0 0.347 2.00 0 0 0 -0.95"/></filter>
<clipPath id="ic22"><rect x="339.2" y="550.9" width="57.7" height="41.1"/></clipPath>
<filter id="fp23" x="0" y="0" width="1" height="1" color-interpolation-filters="sRGB"><feTurbulence type="fractalNoise" baseFrequency="0.09" numOctaves="2" seed="164"/><feColorMatrix type="matrix" values="0 0 0 0 0.550 0 0 0 0 0.418 0 0 0 0 0.359 3.00 0 0 0 -1.20"/></filter>
<filter id="fc23" x="0" y="0" width="1" height="1" color-interpolation-filters="sRGB"><feTurbulence type="turbulence" baseFrequency="0.1" numOctaves="3" seed="171"/><feColorMatrix type="matrix" values="0 0 0 0 0.778 0 0 0 0 0.734 0 0 0 0 0.778 0 -4.50 0 0 1.35"/><feGaussianBlur stdDeviation="0.45"/></filter>
<filter id="fl23" x="0" y="0" width="1" height="1" color-interpolation-filters="sRGB"><feTurbulence type="fractalNoise" baseFrequency="0.25" numOctaves="2" seed="173"/><feColorMatrix type="matrix" values="0 0 0 0 0.960 0 0 0 0 0.945 0 0 0 0 0.950 6.00 0 0 0 -4.30"/></filter>
<filter id="fg23" x="0" y="0" width="1" height="1" color-interpolation-filters="sRGB"><feTurbulence type="fractalNoise" baseFrequency="0.45" numOctaves="2" seed="177"/><feColorMatrix type="matrix" values="0 0 0 0 0.460 0 0 0 0 0.407 0 0 0 0 0.435 2.00 0 0 0 -0.95"/></filter>
<clipPath id="ic23"><rect x="399.6" y="550.9" width="57.9" height="41.1"/></clipPath>
<filter id="fp24" x="0" y="0" width="1" height="1" color-interpolation-filters="sRGB"><feTurbulence type="fractalNoise" baseFrequency="0.09" numOctaves="2" seed="171"/><feColorMatrix type="matrix" values="0 0 0 0 0.586 0 0 0 0 0.429 0 0 0 0 0.311 3.00 0 0 0 -1.20"/></filter>
<filter id="fc24" x="0" y="0" width="1" height="1" color-interpolation-filters="sRGB"><feTurbulence type="turbulence" baseFrequency="0.1" numOctaves="3" seed="178"/><feColorMatrix type="matrix" values="0 0 0 0 0.814 0 0 0 0 0.745 0 0 0 0 0.729 0 -4.50 0 0 1.35"/><feGaussianBlur stdDeviation="0.45"/></filter>
<filter id="fl24" x="0" y="0" width="1" height="1" color-interpolation-filters="sRGB"><feTurbulence type="fractalNoise" baseFrequency="0.25" numOctaves="2" seed="180"/><feColorMatrix type="matrix" values="0 0 0 0 0.960 0 0 0 0 0.945 0 0 0 0 0.950 6.00 0 0 0 -4.30"/></filter>
<filter id="fg24" x="0" y="0" width="1" height="1" color-interpolation-filters="sRGB"><feTurbulence type="fractalNoise" baseFrequency="0.45" numOctaves="2" seed="184"/><feColorMatrix type="matrix" values="0 0 0 0 0.525 0 0 0 0 0.426 0 0 0 0 0.347 2.00 0 0 0 -0.95"/></filter>
<clipPath id="ic24"><rect x="460.8" y="550.9" width="57.2" height="41.1"/></clipPath>
<filter id="fp25" x="0" y="0" width="1" height="1" color-interpolation-filters="sRGB"><feTurbulence type="fractalNoise" baseFrequency="0.09" numOctaves="2" seed="178"/><feColorMatrix type="matrix" values="0 0 0 0 0.575 0 0 0 0 0.390 0 0 0 0 0.262 3.00 0 0 0 -1.20"/></filter>
<filter id="fc25" x="0" y="0" width="1" height="1" color-interpolation-filters="sRGB"><feTurbulence type="turbulence" baseFrequency="0.1" numOctaves="3" seed="185"/><feColorMatrix type="matrix" values="0 0 0 0 0.803 0 0 0 0 0.706 0 0 0 0 0.681 0 -4.50 0 0 1.35"/><feGaussianBlur stdDeviation="0.45"/></filter>
<filter id="fl25" x="0" y="0" width="1" height="1" color-interpolation-filters="sRGB"><feTurbulence type="fractalNoise" baseFrequency="0.25" numOctaves="2" seed="187"/><feColorMatrix type="matrix" values="0 0 0 0 0.960 0 0 0 0 0.945 0 0 0 0 0.950 6.00 0 0 0 -4.30"/></filter>
<filter id="fg25" x="0" y="0" width="1" height="1" color-interpolation-filters="sRGB"><feTurbulence type="fractalNoise" baseFrequency="0.45" numOctaves="2" seed="191"/><feColorMatrix type="matrix" values="0 0 0 0 0.505 0 0 0 0 0.356 0 0 0 0 0.260 2.00 0 0 0 -0.95"/></filter>
<clipPath id="ic25"><rect x="31.7" y="594.8" width="57.3" height="41.2"/></clipPath>
<filter id="fp26" x="0" y="0" width="1" height="1" color-interpolation-filters="sRGB"><feTurbulence type="fractalNoise" baseFrequency="0.09" numOctaves="2" seed="185"/><feColorMatrix type="matrix" values="0 0 0 0 0.586 0 0 0 0 0.415 0 0 0 0 0.290 3.00 0 0 0 -1.20"/></filter>
<filter id="fc26" x="0" y="0" width="1" height="1" color-interpolation-filters="sRGB"><feTurbulence type="turbulence" baseFrequency="0.1" numOctaves="3" seed="192"/><feColorMatrix type="matrix" values="0 0 0 0 0.814 0 0 0 0 0.731 0 0 0 0 0.709 0 -4.50 0 0 1.35"/><feGaussianBlur stdDeviation="0.45"/></filter>
<filter id="fl26" x="0" y="0" width="1" height="1" color-interpolation-filters="sRGB"><feTurbulence type="fractalNoise" baseFrequency="0.25" numOctaves="2" seed="194"/><feColorMatrix type="matrix" values="0 0 0 0 0.960 0 0 0 0 0.945 0 0 0 0 0.950 6.00 0 0 0 -4.30"/></filter>
<filter id="fg26" x="0" y="0" width="1" height="1" color-interpolation-filters="sRGB"><feTurbulence type="fractalNoise" baseFrequency="0.45" numOctaves="2" seed="198"/><feColorMatrix type="matrix" values="0 0 0 0 0.525 0 0 0 0 0.401 0 0 0 0 0.311 2.00 0 0 0 -0.95"/></filter>
<clipPath id="ic26"><rect x="91.9" y="594.8" width="57.3" height="41.2"/></clipPath>
<filter id="fp27" x="0" y="0" width="1" height="1" color-interpolation-filters="sRGB"><feTurbulence type="fractalNoise" baseFrequency="0.09" numOctaves="2" seed="192"/><feColorMatrix type="matrix" values="0 0 0 0 0.581 0 0 0 0 0.453 0 0 0 0 0.373 3.00 0 0 0 -1.20"/></filter>
<filter id="fc27" x="0" y="0" width="1" height="1" color-interpolation-filters="sRGB"><feTurbulence type="turbulence" baseFrequency="0.1" numOctaves="3" seed="199"/><feColorMatrix type="matrix" values="0 0 0 0 0.809 0 0 0 0 0.769 0 0 0 0 0.792 0 -4.50 0 0 1.35"/><feGaussianBlur stdDeviation="0.45"/></filter>
<filter id="fl27" x="0" y="0" width="1" height="1" color-interpolation-filters="sRGB"><feTurbulence type="fractalNoise" baseFrequency="0.25" numOctaves="2" seed="201"/><feColorMatrix type="matrix" values="0 0 0 0 0.960 0 0 0 0 0.945 0 0 0 0 0.950 6.00 0 0 0 -4.30"/></filter>
<filter id="fg27" x="0" y="0" width="1" height="1" color-interpolation-filters="sRGB"><feTurbulence type="fractalNoise" baseFrequency="0.45" numOctaves="2" seed="205"/><feColorMatrix type="matrix" values="0 0 0 0 0.517 0 0 0 0 0.469 0 0 0 0 0.460 2.00 0 0 0 -0.95"/></filter>
<clipPath id="ic27"><rect x="152.1" y="594.8" width="57.5" height="41.2"/></clipPath>
<filter id="fp28" x="0" y="0" width="1" height="1" color-interpolation-filters="sRGB"><feTurbulence type="fractalNoise" baseFrequency="0.09" numOctaves="2" seed="199"/><feColorMatrix type="matrix" values="0 0 0 0 0.624 0 0 0 0 0.482 0 0 0 0 0.386 3.00 0 0 0 -1.20"/></filter>
<filter id="fc28" x="0" y="0" width="1" height="1" color-interpolation-filters="sRGB"><feTurbulence type="turbulence" baseFrequency="0.1" numOctaves="3" seed="206"/><feColorMatrix type="matrix" values="0 0 0 0 0.852 0 0 0 0 0.798 0 0 0 0 0.805 0 -4.50 0 0 1.35"/><feGaussianBlur stdDeviation="0.45"/></filter>
<filter id="fl28" x="0" y="0" width="1" height="1" color-interpolation-filters="sRGB"><feTurbulence type="fractalNoise" baseFrequency="0.25" numOctaves="2" seed="208"/><feColorMatrix type="matrix" values="0 0 0 0 0.960 0 0 0 0 0.945 0 0 0 0 0.950 6.00 0 0 0 -4.30"/></filter>
<filter id="fg28" x="0" y="0" width="1" height="1" color-interpolation-filters="sRGB"><feTurbulence type="fractalNoise" baseFrequency="0.45" numOctaves="2" seed="212"/><feColorMatrix type="matrix" values="0 0 0 0 0.593 0 0 0 0 0.522 0 0 0 0 0.483 2.00 0 0 0 -0.95"/></filter>
<clipPath id="ic28"><rect x="213.1" y="594.8" width="57.1" height="41.2"/></clipPath>
<filter id="fp29" x="0" y="0" width="1" height="1" color-interpolation-filters="sRGB"><feTurbulence type="fractalNoise" baseFrequency="0.09" numOctaves="2" seed="206"/><feColorMatrix type="matrix" values="0 0 0 0 0.592 0 0 0 0 0.449 0 0 0 0 0.351 3.00 0 0 0 -1.20"/></filter>
<filter id="fc29" x="0" y="0" width="1" height="1" color-interpolation-filters="sRGB"><feTurbulence type="turbulence" baseFrequency="0.1" numOctaves="3" seed="213"/><feColorMatrix type="matrix" values="0 0 0 0 0.820 0 0 0 0 0.765 0 0 0 0 0.770 0 -4.50 0 0 1.35"/><feGaussianBlur stdDeviation="0.45"/></filter>
<filter id="fl29" x="0" y="0" width="1" height="1" color-interpolation-filters="sRGB"><feTurbulence type="fractalNoise" baseFrequency="0.25" numOctaves="2" seed="215"/><feColorMatrix type="matrix" values="0 0 0 0 0.960 0 0 0 0 0.945 0 0 0 0 0.950 6.00 0 0 0 -4.30"/></filter>
<filter id="fg29" x="0" y="0" width="1" height="1" color-interpolation-filters="sRGB"><feTurbulence type="fractalNoise" baseFrequency="0.45" numOctaves="2" seed="219"/><feColorMatrix type="matrix" values="0 0 0 0 0.536 0 0 0 0 0.463 0 0 0 0 0.421 2.00 0 0 0 -0.95"/></filter>
<clipPath id="ic29"><rect x="278.8" y="594.8" width="57.9" height="41.2"/></clipPath>
<filter id="fp30" x="0" y="0" width="1" height="1" color-interpolation-filters="sRGB"><feTurbulence type="fractalNoise" baseFrequency="0.09" numOctaves="2" seed="213"/><feColorMatrix type="matrix" values="0 0 0 0 0.591 0 0 0 0 0.429 0 0 0 0 0.296 3.00 0 0 0 -1.20"/></filter>
<filter id="fc30" x="0" y="0" width="1" height="1" color-interpolation-filters="sRGB"><feTurbulence type="turbulence" baseFrequency="0.1" numOctaves="3" seed="220"/><feColorMatrix type="matrix" values="0 0 0 0 0.819 0 0 0 0 0.745 0 0 0 0 0.715 0 -4.50 0 0 1.35"/><feGaussianBlur stdDeviation="0.45"/></filter>
<filter id="fl30" x="0" y="0" width="1" height="1" color-interpolation-filters="sRGB"><feTurbulence type="fractalNoise" baseFrequency="0.25" numOctaves="2" seed="222"/><feColorMatrix type="matrix" values="0 0 0 0 0.960 0 0 0 0 0.945 0 0 0 0 0.950 6.00 0 0 0 -4.30"/></filter>
<filter id="fg30" x="0" y="0" width="1" height="1" color-interpolation-filters="sRGB"><feTurbulence type="fractalNoise" baseFrequency="0.45" numOctaves="2" seed="226"/><feColorMatrix type="matrix" values="0 0 0 0 0.534 0 0 0 0 0.426 0 0 0 0 0.322 2.00 0 0 0 -0.95"/></filter>
<clipPath id="ic30"><rect x="339.2" y="594.8" width="57.7" height="41.2"/></clipPath>
<filter id="fp31" x="0" y="0" width="1" height="1" color-interpolation-filters="sRGB"><feTurbulence type="fractalNoise" baseFrequency="0.09" numOctaves="2" seed="220"/><feColorMatrix type="matrix" values="0 0 0 0 0.551 0 0 0 0 0.418 0 0 0 0 0.373 3.00 0 0 0 -1.20"/></filter>
<filter id="fc31" x="0" y="0" width="1" height="1" color-interpolation-filters="sRGB"><feTurbulence type="turbulence" baseFrequency="0.1" numOctaves="3" seed="227"/><feColorMatrix type="matrix" values="0 0 0 0 0.780 0 0 0 0 0.734 0 0 0 0 0.792 0 -4.50 0 0 1.35"/><feGaussianBlur stdDeviation="0.45"/></filter>
<filter id="fl31" x="0" y="0" width="1" height="1" color-interpolation-filters="sRGB"><feTurbulence type="fractalNoise" baseFrequency="0.25" numOctaves="2" seed="229"/><feColorMatrix type="matrix" values="0 0 0 0 0.960 0 0 0 0 0.945 0 0 0 0 0.950 6.00 0 0 0 -4.30"/></filter>
<filter id="fg31" x="0" y="0" width="1" height="1" color-interpolation-filters="sRGB"><feTurbulence type="fractalNoise" baseFrequency="0.45" numOctaves="2" seed="233"/><feColorMatrix type="matrix" values="0 0 0 0 0.463 0 0 0 0 0.407 0 0 0 0 0.460 2.00 0 0 0 -0.95"/></filter>
<clipPath id="ic31"><rect x="399.6" y="594.8" width="57.9" height="41.2"/></clipPath>
<filter id="fp32" x="0" y="0" width="1" height="1" color-interpolation-filters="sRGB"><feTurbulence type="fractalNoise" baseFrequency="0.09" numOctaves="2" seed="227"/><feColorMatrix type="matrix" values="0 0 0 0 0.580 0 0 0 0 0.423 0 0 0 0 0.300 3.00 0 0 0 -1.20"/></filter>
<filter id="fc32" x="0" y="0" width="1" height="1" color-interpolation-filters="sRGB"><feTurbulence type="turbulence" baseFrequency="0.1" numOctaves="3" seed="234"/><feColorMatrix type="matrix" values="0 0 0 0 0.808 0 0 0 0 0.739 0 0 0 0 0.718 0 -4.50 0 0 1.35"/><feGaussianBlur stdDeviation="0.45"/></filter>
<filter id="fl32" x="0" y="0" width="1" height="1" color-interpolation-filters="sRGB"><feTurbulence type="fractalNoise" baseFrequency="0.25" numOctaves="2" seed="236"/><feColorMatrix type="matrix" values="0 0 0 0 0.960 0 0 0 0 0.945 0 0 0 0 0.950 6.00 0 0 0 -4.30"/></filter>
<filter id="fg32" x="0" y="0" width="1" height="1" color-interpolation-filters="sRGB"><feTurbulence type="fractalNoise" baseFrequency="0.45" numOctaves="2" seed="240"/><feColorMatrix type="matrix" values="0 0 0 0 0.514 0 0 0 0 0.415 0 0 0 0 0.328 2.00 0 0 0 -0.95"/></filter>
<clipPath id="ic32"><rect x="460.8" y="594.8" width="57.2" height="41.2"/></clipPath>
</defs>
<rect width="520" height="638" fill="#fff"/>
<text transform="translate(2,13.5) scale(1,1.1)" font-size="13.3" font-weight="bold" fill="#000">A</text>
<text transform="translate(81.5,7.4) scale(1,1.1)" font-size="6.1" text-anchor="middle">NCI-N87TR</text>
<text transform="translate(188,7.4) scale(1,1.1)" font-size="6.1" text-anchor="middle">SNU216TR</text>
<text transform="translate(41.3,16.8) scale(1,1.1)" font-size="6.4" text-anchor="middle">1.00</text>
<text transform="translate(57.2,16.8) scale(1,1.1)" font-size="6.4" text-anchor="middle">0.95</text>
<text transform="translate(73.1,16.8) scale(1,1.1)" font-size="6.4" text-anchor="middle">0.93</text>
<text transform="translate(89,16.8) scale(1,1.1)" font-size="6.4" text-anchor="middle">1.49</text>
<text transform="translate(104.9,16.8) scale(1,1.1)" font-size="6.4" text-anchor="middle">1.16</text>
<text transform="translate(120.8,16.8) scale(1,1.1)" font-size="6.4" text-anchor="middle">1.03</text>
<text transform="translate(148.9,16.8) scale(1,1.1)" font-size="6.4" text-anchor="middle">1.00</text>
<text transform="translate(164.7,16.8) scale(1,1.1)" font-size="6.4" text-anchor="middle">0.61</text>
<text transform="translate(180.5,16.8) scale(1,1.1)" font-size="6.4" text-anchor="middle">0.37</text>
<text transform="translate(196.3,16.8) scale(1,1.1)" font-size="6.4" text-anchor="middle">2.21</text>
<text transform="translate(212.1,16.8) scale(1,1.1)" font-size="6.4" text-anchor="middle">2.09</text>
<text transform="translate(227.9,16.8) scale(1,1.1)" font-size="6.4" text-anchor="middle">1.65</text>
<text transform="translate(41.3,41) scale(1,1.1)" font-size="6.4" text-anchor="middle">1.00</text>
<text transform="translate(57.2,41) scale(1,1.1)" font-size="6.4" text-anchor="middle">2.65</text>
<text transform="translate(73.1,41) scale(1,1.1)" font-size="6.4" text-anchor="middle">2.16</text>
<text transform="translate(89,41) scale(1,1.1)" font-size="6.4" text-anchor="middle">1.12</text>
<text transform="translate(104.9,41) scale(1,1.1)" font-size="6.4" text-anchor="middle">1.14</text>
<text transform="translate(120.8,41) scale(1,1.1)" font-size="6.4" text-anchor="middle">1.08</text>
<text transform="translate(148.9,41) scale(1,1.1)" font-size="6.4" text-anchor="middle">1.00</text>
<text transform="translate(164.7,41) scale(1,1.1)" font-size="6.4" text-anchor="middle">3.38</text>
<text transform="translate(180.5,41) scale(1,1.1)" font-size="6.4" text-anchor="middle">4.77</text>
<text transform="translate(196.3,41) scale(1,1.1)" font-size="6.4" text-anchor="middle">0.49</text>
<text transform="translate(212.1,41) scale(1,1.1)" font-size="6.4" text-anchor="middle">0.47</text>
<text transform="translate(227.9,41) scale(1,1.1)" font-size="6.4" text-anchor="middle">0.48</text>
<text transform="translate(41.3,66) scale(1,1.1)" font-size="6.4" text-anchor="middle">1.00</text>
<text transform="translate(57.2,66) scale(1,1.1)" font-size="6.4" text-anchor="middle">0.95</text>
<text transform="translate(73.1,66) scale(1,1.1)" font-size="6.4" text-anchor="middle">1.03</text>
<text transform="translate(89,66) scale(1,1.1)" font-size="6.4" text-anchor="middle">0.91</text>
<text transform="translate(104.9,66) scale(1,1.1)" font-size="6.4" text-anchor="middle">0.69</text>
<text transform="translate(120.8,66) scale(1,1.1)" font-size="6.4" text-anchor="middle">0.55</text>
<text transform="translate(148.9,66) scale(1,1.1)" font-size="6.4" text-anchor="middle">1.00</text>
<text transform="translate(164.7,66) scale(1,1.1)" font-size="6.4" text-anchor="middle">0.66</text>
<text transform="translate(180.5,66) scale(1,1.1)" font-size="6.4" text-anchor="middle">0.78</text>
<text transform="translate(196.3,66) scale(1,1.1)" font-size="6.4" text-anchor="middle">0.33</text>
<text transform="translate(212.1,66) scale(1,1.1)" font-size="6.4" text-anchor="middle">0.36</text>
<text transform="translate(227.9,66) scale(1,1.1)" font-size="6.4" text-anchor="middle">0.40</text>
<text transform="translate(28,27.6) scale(1,1.1)" font-size="6.4" text-anchor="end">PER1</text>
<text transform="translate(28.3,53.8) scale(1,1.1)" font-size="6.4" text-anchor="end">p-AMPK</text>
<text transform="translate(28,78.2) scale(1,1.1)" font-size="6.4" text-anchor="end">AMPK</text>
<text transform="translate(28.3,99.7) scale(1,1.1)" font-size="6.4" text-anchor="end">β-Actin</text>
<g clip-path="url(#c1)">
<rect x="30" y="19.2" width="103" height="13.6" fill="#dedede"/>
<rect x="30" y="19.2" width="103" height="13.6" fill="url(#gc1)"/>
<ellipse cx="41.3" cy="25" rx="8.5" ry="3.3" fill="#444" fill-opacity="0.33" filter="url(#b1_5)"/>
<rect x="34.3" y="23.7" width="14" height="2.6" rx="1.3" fill="#111" fill-opacity="0.95" filter="url(#b0_6)"/>
<ellipse cx="57.2" cy="25" rx="7.8" ry="2.98" fill="#444" fill-opacity="0.3" filter="url(#b1_5)"/>
<rect x="50.9" y="24.02" width="12.6" height="1.95" rx="0.98" fill="#111" fill-opacity="0.85" filter="url(#b0_6)"/>
<ellipse cx="73.1" cy="25" rx="7.45" ry="2.98" fill="#444" fill-opacity="0.28" filter="url(#b1_5)"/>
<rect x="67.15" y="24.02" width="11.9" height="1.95" rx="0.98" fill="#111" fill-opacity="0.8" filter="url(#b0_6)"/>
<ellipse cx="89" cy="25" rx="8.85" ry="3.75" fill="#444" fill-opacity="0.35" filter="url(#b1_5)"/>
<rect x="81.65" y="23.25" width="14.7" height="3.51" rx="1.76" fill="#111" fill-opacity="1" filter="url(#b0_6)"/>
<ellipse cx="104.9" cy="25" rx="8.85" ry="3.62" fill="#444" fill-opacity="0.35" filter="url(#b1_5)"/>
<rect x="97.55" y="23.38" width="14.7" height="3.25" rx="1.62" fill="#111" fill-opacity="1" filter="url(#b0_6)"/>
<ellipse cx="120.8" cy="25" rx="8.85" ry="3.62" fill="#444" fill-opacity="0.35" filter="url(#b1_5)"/>
<rect x="113.45" y="23.38" width="14.7" height="3.25" rx="1.62" fill="#111" fill-opacity="1" filter="url(#b0_6)"/>
<ellipse cx="58.5" cy="21.5" rx="1" ry="0.75" fill="#222" fill-opacity="0.8" filter="url(#b0_6)"/>
<rect x="30" y="19.2" width="103" height="13.6" filter="url(#bnoise)" opacity="0.18"/>
</g>
<rect x="30.45" y="19.65" width="102.1" height="12.7" fill="none" stroke="#2a2a2a" stroke-width="0.9"/>
<g clip-path="url(#c2)">
<rect x="30" y="44" width="103" height="13.8" fill="#aaaaaa"/>
<rect x="30" y="44" width="103" height="13.8" fill="url(#gc2)"/>
<ellipse cx="41.3" cy="50.6" rx="8.75" ry="3.6" fill="#444" fill-opacity="0.09" filter="url(#b1_5)"/>
<rect x="34.05" y="49" width="14.5" height="3.2" rx="1.6" fill="#222" fill-opacity="0.25" filter="url(#b1)"/>
<ellipse cx="57.2" cy="50.6" rx="9.11" ry="3.92" fill="#444" fill-opacity="0.3" filter="url(#b1_5)"/>
<rect x="49.59" y="48.68" width="15.23" height="3.84" rx="1.92" fill="#222" fill-opacity="0.85" filter="url(#b1)"/>
<ellipse cx="73.1" cy="50.6" rx="8.75" ry="3.76" fill="#444" fill-opacity="0.26" filter="url(#b1_5)"/>
<rect x="65.85" y="48.84" width="14.5" height="3.52" rx="1.76" fill="#222" fill-opacity="0.75" filter="url(#b1)"/>
<ellipse cx="89" cy="50.6" rx="8.75" ry="3.6" fill="#444" fill-opacity="0.07" filter="url(#b1_5)"/>
<rect x="81.75" y="49" width="14.5" height="3.2" rx="1.6" fill="#222" fill-opacity="0.2" filter="url(#b1)"/>
<ellipse cx="104.9" cy="50.6" rx="8.75" ry="3.6" fill="#444" fill-opacity="0.06" filter="url(#b1_5)"/>
<rect x="97.65" y="49" width="14.5" height="3.2" rx="1.6" fill="#222" fill-opacity="0.18" filter="url(#b1)"/>
<ellipse cx="120.8" cy="50.6" rx="8.75" ry="3.6" fill="#444" fill-opacity="0.07" filter="url(#b1_5)"/>
<rect x="113.55" y="49" width="14.5" height="3.2" rx="1.6" fill="#222" fill-opacity="0.2" filter="url(#b1)"/>
<ellipse cx="64" cy="50" rx="13" ry="4" fill="#555" fill-opacity="0.35" filter="url(#b2)"/>
<rect x="30" y="44" width="103" height="13.8" filter="url(#bnoise)" opacity="0.18"/>
</g>
<rect x="30.45" y="44.45" width="102.1" height="12.9" fill="none" stroke="#2a2a2a" stroke-width="0.9"/>
<g clip-path="url(#c3)">
<rect x="30" y="69.2" width="103" height="14.4" fill="#cdcdcd"/>
<rect x="30" y="69.2" width="103" height="14.4" fill="url(#gc3)"/>
<ellipse cx="41.3" cy="76.4" rx="9.25" ry="3.4" fill="#444" fill-opacity="0.3" filter="url(#b1_5)"/>
<rect x="33.55" y="75" width="15.5" height="2.8" rx="1.4" fill="#222" fill-opacity="0.85" filter="url(#b0_7)"/>
<ellipse cx="57.2" cy="76.4" rx="9.25" ry="3.4" fill="#444" fill-opacity="0.3" filter="url(#b1_5)"/>
<rect x="49.45" y="75" width="15.5" height="2.8" rx="1.4" fill="#222" fill-opacity="0.85" filter="url(#b0_7)"/>
<ellipse cx="73.1" cy="76.4" rx="9.25" ry="3.4" fill="#444" fill-opacity="0.3" filter="url(#b1_5)"/>
<rect x="65.35" y="75" width="15.5" height="2.8" rx="1.4" fill="#222" fill-opacity="0.85" filter="url(#b0_7)"/>
<ellipse cx="89" cy="76.4" rx="9.25" ry="3.4" fill="#444" fill-opacity="0.24" filter="url(#b1_5)"/>
<rect x="81.25" y="75" width="15.5" height="2.8" rx="1.4" fill="#222" fill-opacity="0.7" filter="url(#b0_7)"/>
<ellipse cx="104.9" cy="76.4" rx="9.25" ry="3.4" fill="#444" fill-opacity="0.24" filter="url(#b1_5)"/>
<rect x="97.15" y="75" width="15.5" height="2.8" rx="1.4" fill="#222" fill-opacity="0.7" filter="url(#b0_7)"/>
<ellipse cx="120.8" cy="76.4" rx="9.25" ry="3.4" fill="#444" fill-opacity="0.21" filter="url(#b1_5)"/>
<rect x="113.05" y="75" width="15.5" height="2.8" rx="1.4" fill="#222" fill-opacity="0.6" filter="url(#b0_7)"/>
<ellipse cx="81" cy="72.5" rx="50" ry="2" fill="#777" fill-opacity="0.45" filter="url(#b1)"/>
<rect x="30" y="69.2" width="103" height="14.4" filter="url(#bnoise)" opacity="0.18"/>
</g>
<rect x="30.45" y="69.65" width="102.1" height="13.5" fill="none" stroke="#2a2a2a" stroke-width="0.9"/>
<g clip-path="url(#c4)">
<rect x="30" y="89.6" width="103" height="15.6" fill="#d8d8d8"/>
<rect x="30" y="89.6" width="103" height="15.6" fill="url(#gc4)"/>
<ellipse cx="81.5" cy="96.8" rx="51" ry="5" fill="#444" fill-opacity="0.4" filter="url(#b1_5)"/>
<rect x="32.5" y="93.6" width="98" height="6.4" rx="3.2" fill="#080808" fill-opacity="1" filter="url(#b0_7)"/>
<rect x="30" y="89.6" width="103" height="15.6" filter="url(#bnoise)" opacity="0.18"/>
</g>
<rect x="30.45" y="90.05" width="102.1" height="14.7" fill="none" stroke="#2a2a2a" stroke-width="0.9"/>
<g clip-path="url(#c5)">
<rect x="137" y="19.2" width="102.6" height="13.6" fill="#bababa"/>
<rect x="137" y="19.2" width="102.6" height="13.6" fill="url(#gc5)"/>
<ellipse cx="148.9" cy="24.8" rx="7.8" ry="2.96" fill="#444" fill-opacity="0.21" filter="url(#b1_5)"/>
<rect x="142.6" y="23.84" width="12.6" height="1.92" rx="0.96" fill="#111" fill-opacity="0.6" filter="url(#b0_6)"/>
<ellipse cx="164.7" cy="24.8" rx="7.8" ry="2.84" fill="#444" fill-opacity="0.07" filter="url(#b1_5)"/>
<rect x="158.4" y="23.96" width="12.6" height="1.68" rx="0.84" fill="#111" fill-opacity="0.2" filter="url(#b0_6)"/>
<ellipse cx="180.5" cy="24.8" rx="7.8" ry="2.84" fill="#444" fill-opacity="0.05" filter="url(#b1_5)"/>
<rect x="174.2" y="23.96" width="12.6" height="1.68" rx="0.84" fill="#111" fill-opacity="0.15" filter="url(#b0_6)"/>
<ellipse cx="196.3" cy="24.8" rx="8.5" ry="3.32" fill="#444" fill-opacity="0.33" filter="url(#b1_5)"/>
<rect x="189.3" y="23.48" width="14" height="2.64" rx="1.32" fill="#111" fill-opacity="0.95" filter="url(#b0_6)"/>
<ellipse cx="212.1" cy="24.8" rx="8.5" ry="3.26" fill="#444" fill-opacity="0.33" filter="url(#b1_5)"/>
<rect x="205.1" y="23.54" width="14" height="2.52" rx="1.26" fill="#111" fill-opacity="0.95" filter="url(#b0_6)"/>
<ellipse cx="227.9" cy="24.8" rx="8.5" ry="3.26" fill="#444" fill-opacity="0.33" filter="url(#b1_5)"/>
<rect x="220.9" y="23.54" width="14" height="2.52" rx="1.26" fill="#111" fill-opacity="0.95" filter="url(#b0_6)"/>
<ellipse cx="155" cy="19.8" rx="0.8" ry="0.8" fill="#000" fill-opacity="1" filter="url(#b0_5)"/>
<ellipse cx="188" cy="19.8" rx="1.1" ry="1.1" fill="#000" fill-opacity="1" filter="url(#b0_5)"/>
<ellipse cx="222" cy="26.8" rx="1.1" ry="1.1" fill="#000" fill-opacity="1" filter="url(#b0_5)"/>
<rect x="137" y="19.2" width="102.6" height="13.6" filter="url(#bnoise)" opacity="0.18"/>
</g>
<rect x="137.45" y="19.65" width="101.7" height="12.7" fill="none" stroke="#2a2a2a" stroke-width="0.9"/>
<g clip-path="url(#c6)">
<rect x="137" y="44" width="102.6" height="13.8" fill="#d2d2d2"/>
<rect x="137" y="44" width="102.6" height="13.8" fill="url(#gc6)"/>
<ellipse cx="150" cy="51" rx="8" ry="4.5" fill="#777" fill-opacity="0.4" filter="url(#b2)"/>
<ellipse cx="166" cy="51.5" rx="10" ry="5" fill="#444" fill-opacity="0.6" filter="url(#b2_5)"/>
<ellipse cx="182" cy="51.5" rx="11" ry="5.5" fill="#333" fill-opacity="0.8" filter="url(#b2_5)"/>
<ellipse cx="181" cy="53" rx="7" ry="2.5" fill="#222" fill-opacity="0.6" filter="url(#b1_5)"/>
<rect x="137" y="44" width="102.6" height="13.8" filter="url(#bnoise)" opacity="0.18"/>
</g>
<rect x="137.45" y="44.45" width="101.7" height="12.9" fill="none" stroke="#2a2a2a" stroke-width="0.9"/>
<g clip-path="url(#c7)">
<rect x="137" y="69.2" width="102.6" height="14.4" fill="#b8b8b8"/>
<rect x="137" y="69.2" width="102.6" height="14.4" fill="url(#gc7)"/>
<ellipse cx="164" cy="75.5" rx="28" ry="6" fill="#555" fill-opacity="0.55" filter="url(#b2_5)"/>
<ellipse cx="148.9" cy="75.3" rx="8.5" ry="3.5" fill="#444" fill-opacity="0.3" filter="url(#b1_5)"/>
<rect x="141.9" y="73.8" width="14" height="3" rx="1.5" fill="#1a1a1a" fill-opacity="0.85" filter="url(#b0_9)"/>
<ellipse cx="164.7" cy="75.3" rx="8.5" ry="3.5" fill="#444" fill-opacity="0.28" filter="url(#b1_5)"/>
<rect x="157.7" y="73.8" width="14" height="3" rx="1.5" fill="#1a1a1a" fill-opacity="0.8" filter="url(#b0_9)"/>
<ellipse cx="180.5" cy="75.3" rx="8.5" ry="3.5" fill="#444" fill-opacity="0.3" filter="url(#b1_5)"/>
<rect x="173.5" y="73.8" width="14" height="3" rx="1.5" fill="#1a1a1a" fill-opacity="0.85" filter="url(#b0_9)"/>
<ellipse cx="196.3" cy="75.3" rx="8.5" ry="3.5" fill="#444" fill-opacity="0.12" filter="url(#b1_5)"/>
<rect x="189.3" y="73.8" width="14" height="3" rx="1.5" fill="#1a1a1a" fill-opacity="0.35" filter="url(#b0_9)"/>
<ellipse cx="212.1" cy="75.3" rx="8.5" ry="3.5" fill="#444" fill-opacity="0.1" filter="url(#b1_5)"/>
<rect x="205.1" y="73.8" width="14" height="3" rx="1.5" fill="#1a1a1a" fill-opacity="0.3" filter="url(#b0_9)"/>
<ellipse cx="227.9" cy="75.3" rx="8.5" ry="3.5" fill="#444" fill-opacity="0.09" filter="url(#b1_5)"/>
<rect x="220.9" y="73.8" width="14" height="3" rx="1.5" fill="#1a1a1a" fill-opacity="0.25" filter="url(#b0_9)"/>
<rect x="137" y="69.2" width="102.6" height="14.4" filter="url(#bnoise)" opacity="0.18"/>
</g>
<rect x="137.45" y="69.65" width="101.7" height="13.5" fill="none" stroke="#2a2a2a" stroke-width="0.9"/>
<g clip-path="url(#c8)">
<rect x="137" y="89.6" width="102.6" height="15.6" fill="#d6d6d6"/>
<rect x="137" y="89.6" width="102.6" height="15.6" fill="url(#gc8)"/>
<ellipse cx="188.5" cy="97" rx="51" ry="5" fill="#444" fill-opacity="0.4" filter="url(#b1_5)"/>
<rect x="139.5" y="93.8" width="98" height="6.4" rx="3.2" fill="#080808" fill-opacity="1" filter="url(#b0_7)"/>
<rect x="137" y="89.6" width="102.6" height="15.6" filter="url(#bnoise)" opacity="0.18"/>
</g>
<rect x="137.45" y="90.05" width="101.7" height="14.7" fill="none" stroke="#2a2a2a" stroke-width="0.9"/>
<text transform="translate(28.3,113.8) scale(1,1.1)" font-size="6.4" text-anchor="end">MET</text>
<text transform="translate(29,123) scale(1,1.1)" font-size="6.4" text-anchor="end">(mmol/L)</text>
<text transform="translate(42.8,113.8) scale(1,1.1)" font-size="6.4" text-anchor="middle">0</text>
<text transform="translate(58.7,113.8) scale(1,1.1)" font-size="6.4" text-anchor="middle">10</text>
<text transform="translate(74.6,113.8) scale(1,1.1)" font-size="6.4" text-anchor="middle">20</text>
<text transform="translate(90.5,113.8) scale(1,1.1)" font-size="6.4" text-anchor="middle">0</text>
<text transform="translate(106.4,113.8) scale(1,1.1)" font-size="6.4" text-anchor="middle">10</text>
<text transform="translate(122.3,113.8) scale(1,1.1)" font-size="6.4" text-anchor="middle">20</text>
<text transform="translate(150.4,113.8) scale(1,1.1)" font-size="6.4" text-anchor="middle">0</text>
<text transform="translate(166.2,113.8) scale(1,1.1)" font-size="6.4" text-anchor="middle">10</text>
<text transform="translate(182,113.8) scale(1,1.1)" font-size="6.4" text-anchor="middle">20</text>
<text transform="translate(197.8,113.8) scale(1,1.1)" font-size="6.4" text-anchor="middle">0</text>
<text transform="translate(213.6,113.8) scale(1,1.1)" font-size="6.4" text-anchor="middle">10</text>
<text transform="translate(229.4,113.8) scale(1,1.1)" font-size="6.4" text-anchor="middle">20</text>
<line x1="38.8" y1="115.2" x2="79.5" y2="115.2" stroke="#333" stroke-width="0.8"/>
<text transform="translate(59.15,123.3) scale(1,1.1)" font-size="6.4" text-anchor="middle">NC</text>
<line x1="87.5" y1="115.2" x2="128.8" y2="115.2" stroke="#333" stroke-width="0.8"/>
<text transform="translate(108.15,123.3) scale(1,1.1)" font-size="6.4" text-anchor="middle">siAMPK</text>
<line x1="143.8" y1="115.2" x2="186.3" y2="115.2" stroke="#333" stroke-width="0.8"/>
<text transform="translate(165.05,123.3) scale(1,1.1)" font-size="6.4" text-anchor="middle">NC</text>
<line x1="192.5" y1="115.2" x2="237.5" y2="115.2" stroke="#333" stroke-width="0.8"/>
<text transform="translate(215,123.3) scale(1,1.1)" font-size="6.4" text-anchor="middle">siAMPK</text>
<text transform="translate(265.3,13.5) scale(1,1.1)" font-size="13.3" font-weight="bold" fill="#000">B</text>
<text transform="translate(338.5,7.4) scale(1,1.1)" font-size="6.1" text-anchor="middle">NCI-N87TR</text>
<text transform="translate(451,7.4) scale(1,1.1)" font-size="6.1" text-anchor="middle">SNU216TR</text>
<text transform="translate(292,16.8) scale(1,1.1)" font-size="6.4" text-anchor="middle">1.00</text>
<text transform="translate(309.3,16.8) scale(1,1.1)" font-size="6.4" text-anchor="middle">0.73</text>
<text transform="translate(326.6,16.8) scale(1,1.1)" font-size="6.4" text-anchor="middle">0.78</text>
<text transform="translate(343.9,16.8) scale(1,1.1)" font-size="6.4" text-anchor="middle">1.17</text>
<text transform="translate(361.2,16.8) scale(1,1.1)" font-size="6.4" text-anchor="middle">1.26</text>
<text transform="translate(378.5,16.8) scale(1,1.1)" font-size="6.4" text-anchor="middle">1.33</text>
<text transform="translate(408.5,16.8) scale(1,1.1)" font-size="6.4" text-anchor="middle">1.00</text>
<text transform="translate(425.8,16.8) scale(1,1.1)" font-size="6.4" text-anchor="middle">0.84</text>
<text transform="translate(443.1,16.8) scale(1,1.1)" font-size="6.4" text-anchor="middle">0.55</text>
<text transform="translate(460.4,16.8) scale(1,1.1)" font-size="6.4" text-anchor="middle">1.21</text>
<text transform="translate(477.7,16.8) scale(1,1.1)" font-size="6.4" text-anchor="middle">1.11</text>
<text transform="translate(495,16.8) scale(1,1.1)" font-size="6.4" text-anchor="middle">1.33</text>
<text transform="translate(292,41) scale(1,1.1)" font-size="6.4" text-anchor="middle">1.00</text>
<text transform="translate(309.3,41) scale(1,1.1)" font-size="6.4" text-anchor="middle">1.66</text>
<text transform="translate(326.6,41) scale(1,1.1)" font-size="6.4" text-anchor="middle">1.79</text>
<text transform="translate(343.9,41) scale(1,1.1)" font-size="6.4" text-anchor="middle">1.98</text>
<text transform="translate(361.2,41) scale(1,1.1)" font-size="6.4" text-anchor="middle">1.97</text>
<text transform="translate(378.5,41) scale(1,1.1)" font-size="6.4" text-anchor="middle">2.10</text>
<text transform="translate(408.5,41) scale(1,1.1)" font-size="6.4" text-anchor="middle">1.00</text>
<text transform="translate(425.8,41) scale(1,1.1)" font-size="6.4" text-anchor="middle">1.41</text>
<text transform="translate(443.1,41) scale(1,1.1)" font-size="6.4" text-anchor="middle">1.55</text>
<text transform="translate(460.4,41) scale(1,1.1)" font-size="6.4" text-anchor="middle">1.47</text>
<text transform="translate(477.7,41) scale(1,1.1)" font-size="6.4" text-anchor="middle">1.71</text>
<text transform="translate(495,41) scale(1,1.1)" font-size="6.4" text-anchor="middle">2.55</text>
<text transform="translate(292,66) scale(1,1.1)" font-size="6.4" text-anchor="middle">1.00</text>
<text transform="translate(309.3,66) scale(1,1.1)" font-size="6.4" text-anchor="middle">0.91</text>
<text transform="translate(326.6,66) scale(1,1.1)" font-size="6.4" text-anchor="middle">0.89</text>
<text transform="translate(343.9,66) scale(1,1.1)" font-size="6.4" text-anchor="middle">0.97</text>
<text transform="translate(361.2,66) scale(1,1.1)" font-size="6.4" text-anchor="middle">0.95</text>
<text transform="translate(378.5,66) scale(1,1.1)" font-size="6.4" text-anchor="middle">0.98</text>
<text transform="translate(408.5,66) scale(1,1.1)" font-size="6.4" text-anchor="middle">1.00</text>
<text transform="translate(425.8,66) scale(1,1.1)" font-size="6.4" text-anchor="middle">0.97</text>
<text transform="translate(443.1,66) scale(1,1.1)" font-size="6.4" text-anchor="middle">0.88</text>
<text transform="translate(460.4,66) scale(1,1.1)" font-size="6.4" text-anchor="middle">0.81</text>
<text transform="translate(477.7,66) scale(1,1.1)" font-size="6.4" text-anchor="middle">0.91</text>
<text transform="translate(495,66) scale(1,1.1)" font-size="6.4" text-anchor="middle">1.22</text>
<text transform="translate(279.3,28.4) scale(1,1.1)" font-size="6.4" text-anchor="end">PER1</text>
<text transform="translate(279.3,53.6) scale(1,1.1)" font-size="6.4" text-anchor="end">p-AMPK</text>
<text transform="translate(279.3,79.5) scale(1,1.1)" font-size="6.4" text-anchor="end">AMPK</text>
<text transform="translate(279.3,99.7) scale(1,1.1)" font-size="6.4" text-anchor="end">β-Actin</text>
<g clip-path="url(#c9)">
<rect x="281.2" y="18.5" width="109.6" height="15.3" fill="#dcdcdc"/>
<rect x="281.2" y="18.5" width="109.6" height="15.3" fill="url(#gc9)"/>
<ellipse cx="292" cy="26.2" rx="8.86" ry="3.4" fill="#444" fill-opacity="0.35" filter="url(#b1_5)"/>
<rect x="284.64" y="24.8" width="14.72" height="2.8" rx="1.4" fill="#111" fill-opacity="1" filter="url(#b0_6)"/>
<ellipse cx="309.3" cy="26.2" rx="8.09" ry="3.19" fill="#444" fill-opacity="0.33" filter="url(#b1_5)"/>
<rect x="302.71" y="25.01" width="13.17" height="2.38" rx="1.19" fill="#111" fill-opacity="0.95" filter="url(#b0_6)"/>
<ellipse cx="326.6" cy="26.2" rx="8.09" ry="3.12" fill="#444" fill-opacity="0.32" filter="url(#b1_5)"/>
<rect x="320.01" y="25.08" width="13.17" height="2.24" rx="1.12" fill="#111" fill-opacity="0.9" filter="url(#b0_6)"/>
<ellipse cx="343.9" cy="26.2" rx="9.25" ry="3.96" fill="#444" fill-opacity="0.35" filter="url(#b1_5)"/>
<rect x="336.15" y="24.24" width="15.5" height="3.92" rx="1.96" fill="#111" fill-opacity="1" filter="url(#b0_6)"/>
<ellipse cx="361.2" cy="26.2" rx="9.25" ry="4.03" fill="#444" fill-opacity="0.35" filter="url(#b1_5)"/>
<rect x="353.45" y="24.17" width="15.5" height="4.06" rx="2.03" fill="#111" fill-opacity="1" filter="url(#b0_6)"/>
<ellipse cx="378.5" cy="26.2" rx="9.25" ry="3.96" fill="#444" fill-opacity="0.35" filter="url(#b1_5)"/>
<rect x="370.75" y="24.24" width="15.5" height="3.92" rx="1.96" fill="#111" fill-opacity="1" filter="url(#b0_6)"/>
<rect x="281.2" y="18.5" width="109.6" height="15.3" filter="url(#bnoise)" opacity="0.18"/>
</g>
<rect x="281.65" y="18.95" width="108.7" height="14.4" fill="none" stroke="#2a2a2a" stroke-width="0.9"/>
<g clip-path="url(#c10)">
<rect x="281.2" y="42.7" width="109.6" height="16.6" fill="#dadada"/>
<rect x="281.2" y="42.7" width="109.6" height="16.6" fill="url(#gc10)"/>
<ellipse cx="292" cy="51.2" rx="8.7" ry="3.44" fill="#444" fill-opacity="0.19" filter="url(#b1_5)"/>
<rect x="284.8" y="49.76" width="14.4" height="2.88" rx="1.44" fill="#111" fill-opacity="0.55" filter="url(#b0_6)"/>
<ellipse cx="309.3" cy="51.2" rx="9.5" ry="4.61" fill="#444" fill-opacity="0.35" filter="url(#b1_5)"/>
<rect x="301.3" y="48.59" width="16" height="5.22" rx="2.61" fill="#111" fill-opacity="1" filter="url(#b0_6)"/>
<ellipse cx="326.6" cy="51.2" rx="9.5" ry="4.52" fill="#444" fill-opacity="0.35" filter="url(#b1_5)"/>
<rect x="318.6" y="48.68" width="16" height="5.04" rx="2.52" fill="#111" fill-opacity="1" filter="url(#b0_6)"/>
<ellipse cx="343.9" cy="51.2" rx="9.5" ry="4.7" fill="#444" fill-opacity="0.35" filter="url(#b1_5)"/>
<rect x="335.9" y="48.5" width="16" height="5.4" rx="2.7" fill="#111" fill-opacity="1" filter="url(#b0_6)"/>
<ellipse cx="361.2" cy="51.2" rx="9.5" ry="4.61" fill="#444" fill-opacity="0.35" filter="url(#b1_5)"/>
<rect x="353.2" y="48.59" width="16" height="5.22" rx="2.61" fill="#111" fill-opacity="1" filter="url(#b0_6)"/>
<ellipse cx="378.5" cy="51.2" rx="9.66" ry="4.79" fill="#444" fill-opacity="0.35" filter="url(#b1_5)"/>
<rect x="370.34" y="48.41" width="16.32" height="5.58" rx="2.79" fill="#111" fill-opacity="1" filter="url(#b0_6)"/>
<rect x="281.2" y="42.7" width="109.6" height="16.6" filter="url(#bnoise)" opacity="0.18"/>
</g>
<rect x="281.65" y="43.15" width="108.7" height="15.7" fill="none" stroke="#2a2a2a" stroke-width="0.9"/>
<g clip-path="url(#c11)">
<rect x="281.2" y="69.2" width="109.6" height="16.2" fill="#d6d6d6"/>
<rect x="281.2" y="69.2" width="109.6" height="16.2" fill="url(#gc11)"/>
<ellipse cx="292" cy="77" rx="10.1" ry="4.5" fill="#444" fill-opacity="0.35" filter="url(#b1_5)"/>
<rect x="283.4" y="74.5" width="17.2" height="5" rx="2.5" fill="#0a0a0a" fill-opacity="1" filter="url(#b0_6)"/>
<ellipse cx="309.3" cy="77" rx="10.1" ry="4.5" fill="#444" fill-opacity="0.35" filter="url(#b1_5)"/>
<rect x="300.7" y="74.5" width="17.2" height="5" rx="2.5" fill="#0a0a0a" fill-opacity="1" filter="url(#b0_6)"/>
<ellipse cx="326.6" cy="77" rx="10.1" ry="4.5" fill="#444" fill-opacity="0.35" filter="url(#b1_5)"/>
<rect x="318" y="74.5" width="17.2" height="5" rx="2.5" fill="#0a0a0a" fill-opacity="1" filter="url(#b0_6)"/>
<ellipse cx="343.9" cy="77" rx="10.1" ry="4.5" fill="#444" fill-opacity="0.35" filter="url(#b1_5)"/>
<rect x="335.3" y="74.5" width="17.2" height="5" rx="2.5" fill="#0a0a0a" fill-opacity="1" filter="url(#b0_6)"/>
<ellipse cx="361.2" cy="77" rx="10.1" ry="4.5" fill="#444" fill-opacity="0.35" filter="url(#b1_5)"/>
<rect x="352.6" y="74.5" width="17.2" height="5" rx="2.5" fill="#0a0a0a" fill-opacity="1" filter="url(#b0_6)"/>
<ellipse cx="378.5" cy="77" rx="10.1" ry="4.5" fill="#444" fill-opacity="0.35" filter="url(#b1_5)"/>
<rect x="369.9" y="74.5" width="17.2" height="5" rx="2.5" fill="#0a0a0a" fill-opacity="1" filter="url(#b0_6)"/>
<rect x="281.2" y="69.2" width="109.6" height="16.2" filter="url(#bnoise)" opacity="0.18"/>
</g>
<rect x="281.65" y="69.65" width="108.7" height="15.3" fill="none" stroke="#2a2a2a" stroke-width="0.9"/>
<g clip-path="url(#c12)">
<rect x="281.2" y="88.3" width="109.6" height="17.3" fill="#d8d8d8"/>
<rect x="281.2" y="88.3" width="109.6" height="17.3" fill="url(#gc12)"/>
<ellipse cx="292" cy="96.7" rx="10.1" ry="4.6" fill="#444" fill-opacity="0.35" filter="url(#b1_5)"/>
<rect x="283.4" y="94.1" width="17.2" height="5.2" rx="2.6" fill="#0a0a0a" fill-opacity="1" filter="url(#b0_6)"/>
<ellipse cx="309.3" cy="96.7" rx="10.1" ry="4.6" fill="#444" fill-opacity="0.35" filter="url(#b1_5)"/>
<rect x="300.7" y="94.1" width="17.2" height="5.2" rx="2.6" fill="#0a0a0a" fill-opacity="1" filter="url(#b0_6)"/>
<ellipse cx="326.6" cy="96.7" rx="10.1" ry="4.6" fill="#444" fill-opacity="0.35" filter="url(#b1_5)"/>
<rect x="318" y="94.1" width="17.2" height="5.2" rx="2.6" fill="#0a0a0a" fill-opacity="1" filter="url(#b0_6)"/>
<ellipse cx="343.9" cy="96.7" rx="10.1" ry="4.6" fill="#444" fill-opacity="0.35" filter="url(#b1_5)"/>
<rect x="335.3" y="94.1" width="17.2" height="5.2" rx="2.6" fill="#0a0a0a" fill-opacity="1" filter="url(#b0_6)"/>
<ellipse cx="361.2" cy="96.7" rx="10.1" ry="4.6" fill="#444" fill-opacity="0.35" filter="url(#b1_5)"/>
<rect x="352.6" y="94.1" width="17.2" height="5.2" rx="2.6" fill="#0a0a0a" fill-opacity="1" filter="url(#b0_6)"/>
<ellipse cx="378.5" cy="96.7" rx="10.1" ry="4.6" fill="#444" fill-opacity="0.35" filter="url(#b1_5)"/>
<rect x="369.9" y="94.1" width="17.2" height="5.2" rx="2.6" fill="#0a0a0a" fill-opacity="1" filter="url(#b0_6)"/>
<rect x="281.2" y="88.3" width="109.6" height="17.3" filter="url(#bnoise)" opacity="0.18"/>
</g>
<rect x="281.65" y="88.75" width="108.7" height="16.4" fill="none" stroke="#2a2a2a" stroke-width="0.9"/>
<g clip-path="url(#c13)">
<rect x="396" y="18.5" width="110" height="15.3" fill="#dcdcdc"/>
<rect x="396" y="18.5" width="110" height="15.3" fill="url(#gc13)"/>
<ellipse cx="408.5" cy="25.9" rx="8.86" ry="3.54" fill="#444" fill-opacity="0.33" filter="url(#b1_5)"/>
<rect x="401.14" y="24.36" width="14.72" height="3.08" rx="1.54" fill="#111" fill-opacity="0.95" filter="url(#b0_6)"/>
<ellipse cx="425.8" cy="25.9" rx="8.09" ry="3.19" fill="#444" fill-opacity="0.3" filter="url(#b1_5)"/>
<rect x="419.21" y="24.71" width="13.17" height="2.38" rx="1.19" fill="#111" fill-opacity="0.85" filter="url(#b0_6)"/>
<ellipse cx="443.1" cy="25.9" rx="7.31" ry="2.98" fill="#444" fill-opacity="0.21" filter="url(#b1_5)"/>
<rect x="437.29" y="24.92" width="11.62" height="1.96" rx="0.98" fill="#111" fill-opacity="0.6" filter="url(#b0_6)"/>
<ellipse cx="460.4" cy="25.9" rx="9.41" ry="4.24" fill="#444" fill-opacity="0.35" filter="url(#b1_5)"/>
<rect x="452.5" y="23.66" width="15.81" height="4.48" rx="2.24" fill="#111" fill-opacity="1" filter="url(#b0_6)"/>
<ellipse cx="477.7" cy="25.9" rx="9.25" ry="3.96" fill="#444" fill-opacity="0.35" filter="url(#b1_5)"/>
<rect x="469.95" y="23.94" width="15.5" height="3.92" rx="1.96" fill="#111" fill-opacity="1" filter="url(#b0_6)"/>
<ellipse cx="495" cy="25.9" rx="9.25" ry="4.1" fill="#444" fill-opacity="0.35" filter="url(#b1_5)"/>
<rect x="487.25" y="23.8" width="15.5" height="4.2" rx="2.1" fill="#111" fill-opacity="1" filter="url(#b0_6)"/>
<rect x="396" y="18.5" width="110" height="15.3" filter="url(#bnoise)" opacity="0.18"/>
</g>
<rect x="396.45" y="18.95" width="109.1" height="14.4" fill="none" stroke="#2a2a2a" stroke-width="0.9"/>
<g clip-path="url(#c14)">
<rect x="396" y="42.7" width="110" height="16.6" fill="#dadada"/>
<rect x="396" y="42.7" width="110" height="16.6" fill="url(#gc14)"/>
<ellipse cx="408.5" cy="51.3" rx="8.7" ry="3.2" fill="#444" fill-opacity="0.24" filter="url(#b1_5)"/>
<rect x="401.3" y="50.1" width="14.4" height="2.4" rx="1.2" fill="#111" fill-opacity="0.7" filter="url(#b0_6)"/>
<ellipse cx="425.8" cy="51.3" rx="9.1" ry="3.52" fill="#444" fill-opacity="0.32" filter="url(#b1_5)"/>
<rect x="418.2" y="49.78" width="15.2" height="3.04" rx="1.52" fill="#111" fill-opacity="0.9" filter="url(#b0_6)"/>
<ellipse cx="443.1" cy="51.3" rx="9.5" ry="3.84" fill="#444" fill-opacity="0.35" filter="url(#b1_5)"/>
<rect x="435.1" y="49.46" width="16" height="3.68" rx="1.84" fill="#111" fill-opacity="1" filter="url(#b0_6)"/>
<ellipse cx="460.4" cy="51.3" rx="9.5" ry="3.76" fill="#444" fill-opacity="0.35" filter="url(#b1_5)"/>
<rect x="452.4" y="49.54" width="16" height="3.52" rx="1.76" fill="#111" fill-opacity="1" filter="url(#b0_6)"/>
<ellipse cx="477.7" cy="51.3" rx="9.5" ry="4.24" fill="#444" fill-opacity="0.35" filter="url(#b1_5)"/>
<rect x="469.7" y="49.06" width="16" height="4.48" rx="2.24" fill="#111" fill-opacity="1" filter="url(#b0_6)"/>
<ellipse cx="495" cy="51.3" rx="10.14" ry="5.04" fill="#444" fill-opacity="0.35" filter="url(#b1_5)"/>
<rect x="486.36" y="48.26" width="17.28" height="6.08" rx="3.04" fill="#111" fill-opacity="1" filter="url(#b0_6)"/>
<rect x="396" y="42.7" width="110" height="16.6" filter="url(#bnoise)" opacity="0.18"/>
</g>
<rect x="396.45" y="43.15" width="109.1" height="15.7" fill="none" stroke="#2a2a2a" stroke-width="0.9"/>
<g clip-path="url(#c15)">
<rect x="396" y="69.2" width="110" height="16.2" fill="#d6d6d6"/>
<rect x="396" y="69.2" width="110" height="16.2" fill="url(#gc15)"/>
<ellipse cx="408.5" cy="76.7" rx="10.1" ry="4.4" fill="#444" fill-opacity="0.35" filter="url(#b1_5)"/>
<rect x="399.9" y="74.3" width="17.2" height="4.8" rx="2.4" fill="#0a0a0a" fill-opacity="1" filter="url(#b0_6)"/>
<ellipse cx="425.8" cy="76.7" rx="10.1" ry="4.4" fill="#444" fill-opacity="0.35" filter="url(#b1_5)"/>
<rect x="417.2" y="74.3" width="17.2" height="4.8" rx="2.4" fill="#0a0a0a" fill-opacity="1" filter="url(#b0_6)"/>
<ellipse cx="443.1" cy="76.7" rx="10.1" ry="4.4" fill="#444" fill-opacity="0.35" filter="url(#b1_5)"/>
<rect x="434.5" y="74.3" width="17.2" height="4.8" rx="2.4" fill="#0a0a0a" fill-opacity="1" filter="url(#b0_6)"/>
<ellipse cx="460.4" cy="76.7" rx="10.1" ry="4.4" fill="#444" fill-opacity="0.35" filter="url(#b1_5)"/>
<rect x="451.8" y="74.3" width="17.2" height="4.8" rx="2.4" fill="#0a0a0a" fill-opacity="1" filter="url(#b0_6)"/>
<ellipse cx="477.7" cy="76.7" rx="10.1" ry="4.4" fill="#444" fill-opacity="0.35" filter="url(#b1_5)"/>
<rect x="469.1" y="74.3" width="17.2" height="4.8" rx="2.4" fill="#0a0a0a" fill-opacity="1" filter="url(#b0_6)"/>
<ellipse cx="495" cy="76.7" rx="10.1" ry="4.4" fill="#444" fill-opacity="0.35" filter="url(#b1_5)"/>
<rect x="486.4" y="74.3" width="17.2" height="4.8" rx="2.4" fill="#0a0a0a" fill-opacity="1" filter="url(#b0_6)"/>
<rect x="396" y="69.2" width="110" height="16.2" filter="url(#bnoise)" opacity="0.18"/>
</g>
<rect x="396.45" y="69.65" width="109.1" height="15.3" fill="none" stroke="#2a2a2a" stroke-width="0.9"/>
<g clip-path="url(#c16)">
<rect x="396" y="88.3" width="110" height="17.3" fill="#d8d8d8"/>
<rect x="396" y="88.3" width="110" height="17.3" fill="url(#gc16)"/>
<ellipse cx="408.5" cy="96.4" rx="10" ry="4.8" fill="#444" fill-opacity="0.35" filter="url(#b1_5)"/>
<rect x="400" y="93.6" width="17" height="5.6" rx="2.8" fill="#0a0a0a" fill-opacity="1" filter="url(#b0_6)"/>
<ellipse cx="425.8" cy="96.4" rx="10" ry="4.8" fill="#444" fill-opacity="0.35" filter="url(#b1_5)"/>
<rect x="417.3" y="93.6" width="17" height="5.6" rx="2.8" fill="#0a0a0a" fill-opacity="1" filter="url(#b0_6)"/>
<ellipse cx="443.1" cy="96.4" rx="10" ry="4.8" fill="#444" fill-opacity="0.35" filter="url(#b1_5)"/>
<rect x="434.6" y="93.6" width="17" height="5.6" rx="2.8" fill="#0a0a0a" fill-opacity="1" filter="url(#b0_6)"/>
<ellipse cx="460.4" cy="96.4" rx="10" ry="4.8" fill="#444" fill-opacity="0.35" filter="url(#b1_5)"/>
<rect x="451.9" y="93.6" width="17" height="5.6" rx="2.8" fill="#0a0a0a" fill-opacity="1" filter="url(#b0_6)"/>
<ellipse cx="477.7" cy="96.4" rx="10" ry="4.8" fill="#444" fill-opacity="0.35" filter="url(#b1_5)"/>
<rect x="469.2" y="93.6" width="17" height="5.6" rx="2.8" fill="#0a0a0a" fill-opacity="1" filter="url(#b0_6)"/>
<ellipse cx="495" cy="96.4" rx="9.57" ry="4.52" fill="#444" fill-opacity="0.35" filter="url(#b1_5)"/>
<rect x="486.93" y="93.88" width="16.15" height="5.04" rx="2.52" fill="#0a0a0a" fill-opacity="1" filter="url(#b0_6)"/>
<rect x="396" y="88.3" width="110" height="17.3" filter="url(#bnoise)" opacity="0.18"/>
</g>
<rect x="396.45" y="88.75" width="109.1" height="16.4" fill="none" stroke="#2a2a2a" stroke-width="0.9"/>
<text transform="translate(278.8,113.3) scale(1,1.1)" font-size="6.4" text-anchor="end">MET</text>
<text transform="translate(284.3,123) scale(1,1.1)" font-size="6.4" text-anchor="end">MG132</text>
<text transform="translate(294.5,113.3) scale(1,1.1)" font-size="6.4" text-anchor="middle">0</text>
<text transform="translate(294.5,122.5) scale(1,1.1)" font-size="6.2" text-anchor="middle">-</text>
<text transform="translate(311.8,113.3) scale(1,1.1)" font-size="6.4" text-anchor="middle">10</text>
<text transform="translate(311.8,122.5) scale(1,1.1)" font-size="6.2" text-anchor="middle">-</text>
<text transform="translate(329.1,113.3) scale(1,1.1)" font-size="6.4" text-anchor="middle">20</text>
<text transform="translate(329.1,122.5) scale(1,1.1)" font-size="6.2" text-anchor="middle">-</text>
<text transform="translate(346.4,113.3) scale(1,1.1)" font-size="6.4" text-anchor="middle">0</text>
<text transform="translate(346.4,122.5) scale(1,1.1)" font-size="6.2" text-anchor="middle">+</text>
<text transform="translate(363.7,113.3) scale(1,1.1)" font-size="6.4" text-anchor="middle">10</text>
<text transform="translate(363.7,122.5) scale(1,1.1)" font-size="6.2" text-anchor="middle">+</text>
<text transform="translate(381,113.3) scale(1,1.1)" font-size="6.4" text-anchor="middle">20</text>
<text transform="translate(381,122.5) scale(1,1.1)" font-size="6.2" text-anchor="middle">+</text>
<text transform="translate(411,113.3) scale(1,1.1)" font-size="6.4" text-anchor="middle">0</text>
<text transform="translate(411,122.5) scale(1,1.1)" font-size="6.2" text-anchor="middle">-</text>
<text transform="translate(428.3,113.3) scale(1,1.1)" font-size="6.4" text-anchor="middle">10</text>
<text transform="translate(428.3,122.5) scale(1,1.1)" font-size="6.2" text-anchor="middle">-</text>
<text transform="translate(445.6,113.3) scale(1,1.1)" font-size="6.4" text-anchor="middle">20</text>
<text transform="translate(445.6,122.5) scale(1,1.1)" font-size="6.2" text-anchor="middle">-</text>
<text transform="translate(462.9,113.3) scale(1,1.1)" font-size="6.4" text-anchor="middle">0</text>
<text transform="translate(462.9,122.5) scale(1,1.1)" font-size="6.2" text-anchor="middle">+</text>
<text transform="translate(480.2,113.3) scale(1,1.1)" font-size="6.4" text-anchor="middle">10</text>
<text transform="translate(480.2,122.5) scale(1,1.1)" font-size="6.2" text-anchor="middle">+</text>
<text transform="translate(497.5,113.3) scale(1,1.1)" font-size="6.4" text-anchor="middle">20</text>
<text transform="translate(497.5,122.5) scale(1,1.1)" font-size="6.2" text-anchor="middle">+</text>
<text transform="translate(2,142.3) scale(1,1.1)" font-size="13.3" font-weight="bold" fill="#000">C</text>
<text transform="translate(43.2,147.8) scale(1,1.1)" font-size="6.4" text-anchor="middle">1.00</text>
<text transform="translate(61.8,147.8) scale(1,1.1)" font-size="6.4" text-anchor="middle">1.13</text>
<text transform="translate(80.4,147.8) scale(1,1.1)" font-size="6.4" text-anchor="middle">1.14</text>
<text transform="translate(99,147.8) scale(1,1.1)" font-size="6.4" text-anchor="middle">0.69</text>
<text transform="translate(117.6,147.8) scale(1,1.1)" font-size="6.4" text-anchor="middle">0.74</text>
<text transform="translate(136.2,147.8) scale(1,1.1)" font-size="6.4" text-anchor="middle">0.73</text>
<text transform="translate(154.8,147.8) scale(1,1.1)" font-size="6.4" text-anchor="middle">0.27</text>
<text transform="translate(173.4,147.8) scale(1,1.1)" font-size="6.4" text-anchor="middle">0.22</text>
<text transform="translate(192,147.8) scale(1,1.1)" font-size="6.4" text-anchor="middle">0.19</text>
<text transform="translate(210.6,147.8) scale(1,1.1)" font-size="6.4" text-anchor="middle">0.23</text>
<text transform="translate(229.2,147.8) scale(1,1.1)" font-size="6.4" text-anchor="middle">0.17</text>
<text transform="translate(247.8,147.8) scale(1,1.1)" font-size="6.4" text-anchor="middle">0.20</text>
<text transform="translate(43.2,174.2) scale(1,1.1)" font-size="6.4" text-anchor="middle">1.00</text>
<text transform="translate(61.8,174.2) scale(1,1.1)" font-size="6.4" text-anchor="middle">0.92</text>
<text transform="translate(80.4,174.2) scale(1,1.1)" font-size="6.4" text-anchor="middle">0.87</text>
<text transform="translate(99,174.2) scale(1,1.1)" font-size="6.4" text-anchor="middle">0.63</text>
<text transform="translate(117.6,174.2) scale(1,1.1)" font-size="6.4" text-anchor="middle">0.77</text>
<text transform="translate(136.2,174.2) scale(1,1.1)" font-size="6.4" text-anchor="middle">0.74</text>
<text transform="translate(154.8,174.2) scale(1,1.1)" font-size="6.4" text-anchor="middle">0.25</text>
<text transform="translate(173.4,174.2) scale(1,1.1)" font-size="6.4" text-anchor="middle">0.18</text>
<text transform="translate(192,174.2) scale(1,1.1)" font-size="6.4" text-anchor="middle">0.15</text>
<text transform="translate(210.6,174.2) scale(1,1.1)" font-size="6.4" text-anchor="middle">0.32</text>
<text transform="translate(229.2,174.2) scale(1,1.1)" font-size="6.4" text-anchor="middle">0.34</text>
<text transform="translate(247.8,174.2) scale(1,1.1)" font-size="6.4" text-anchor="middle">0.33</text>
<text transform="translate(43.2,201) scale(1,1.1)" font-size="6.4" text-anchor="middle">1.00</text>
<text transform="translate(61.8,201) scale(1,1.1)" font-size="6.4" text-anchor="middle">0.99</text>
<text transform="translate(80.4,201) scale(1,1.1)" font-size="6.4" text-anchor="middle">1.00</text>
<text transform="translate(99,201) scale(1,1.1)" font-size="6.4" text-anchor="middle">0.38</text>
<text transform="translate(117.6,201) scale(1,1.1)" font-size="6.4" text-anchor="middle">0.26</text>
<text transform="translate(136.2,201) scale(1,1.1)" font-size="6.4" text-anchor="middle">0.26</text>
<text transform="translate(154.8,201) scale(1,1.1)" font-size="6.4" text-anchor="middle">5.11</text>
<text transform="translate(173.4,201) scale(1,1.1)" font-size="6.4" text-anchor="middle">6.05</text>
<text transform="translate(192,201) scale(1,1.1)" font-size="6.4" text-anchor="middle">3.69</text>
<text transform="translate(210.6,201) scale(1,1.1)" font-size="6.4" text-anchor="middle">0.98</text>
<text transform="translate(229.2,201) scale(1,1.1)" font-size="6.4" text-anchor="middle">2.43</text>
<text transform="translate(247.8,201) scale(1,1.1)" font-size="6.4" text-anchor="middle">2.24</text>
<text transform="translate(43.2,228.3) scale(1,1.1)" font-size="6.4" text-anchor="middle">1.00</text>
<text transform="translate(61.8,228.3) scale(1,1.1)" font-size="6.4" text-anchor="middle">1.12</text>
<text transform="translate(80.4,228.3) scale(1,1.1)" font-size="6.4" text-anchor="middle">1.56</text>
<text transform="translate(99,228.3) scale(1,1.1)" font-size="6.4" text-anchor="middle">1.75</text>
<text transform="translate(117.6,228.3) scale(1,1.1)" font-size="6.4" text-anchor="middle">1.62</text>
<text transform="translate(136.2,228.3) scale(1,1.1)" font-size="6.4" text-anchor="middle">1.61</text>
<text transform="translate(154.8,228.3) scale(1,1.1)" font-size="6.4" text-anchor="middle">1.53</text>
<text transform="translate(173.4,228.3) scale(1,1.1)" font-size="6.4" text-anchor="middle">1.62</text>
<text transform="translate(192,228.3) scale(1,1.1)" font-size="6.4" text-anchor="middle">1.06</text>
<text transform="translate(210.6,228.3) scale(1,1.1)" font-size="6.4" text-anchor="middle">1.60</text>
<text transform="translate(229.2,228.3) scale(1,1.1)" font-size="6.4" text-anchor="middle">1.42</text>
<text transform="translate(247.8,228.3) scale(1,1.1)" font-size="6.4" text-anchor="middle">1.14</text>
<text transform="translate(27,160.3) scale(1,1.1)" font-size="6.4" text-anchor="end">PER1</text>
<text transform="translate(27,187.3) scale(1,1.1)" font-size="6.4" text-anchor="end">HK2</text>
<text transform="translate(27.5,214.5) scale(1,1.1)" font-size="6.4" text-anchor="end">p-AMPK</text>
<text transform="translate(27,242.8) scale(1,1.1)" font-size="6.4" text-anchor="end">AMPK</text>
<text transform="translate(27.5,263.3) scale(1,1.1)" font-size="6.4" text-anchor="end">β-Actin</text>
<g clip-path="url(#c17)">
<rect x="28" y="149.2" width="235.3" height="17" fill="#bcbcbc"/>
<rect x="28" y="149.2" width="235.3" height="17" fill="url(#gc17)"/>
<ellipse cx="43.2" cy="157.2" rx="9.81" ry="3.76" fill="#444" fill-opacity="0.35" filter="url(#b1_5)"/>
<rect x="34.89" y="155.44" width="16.62" height="3.52" rx="1.76" fill="#1c1c1c" fill-opacity="1" filter="url(#b0_8)"/>
<ellipse cx="61.8" cy="157.2" rx="10.25" ry="4.08" fill="#444" fill-opacity="0.35" filter="url(#b1_5)"/>
<rect x="53.05" y="155.12" width="17.5" height="4.16" rx="2.08" fill="#1c1c1c" fill-opacity="1" filter="url(#b0_8)"/>
<ellipse cx="80.4" cy="157.2" rx="10.25" ry="4.08" fill="#444" fill-opacity="0.35" filter="url(#b1_5)"/>
<rect x="71.65" y="155.12" width="17.5" height="4.16" rx="2.08" fill="#1c1c1c" fill-opacity="1" filter="url(#b0_8)"/>
<ellipse cx="99" cy="157.2" rx="8.5" ry="3.28" fill="#444" fill-opacity="0.3" filter="url(#b1_5)"/>
<rect x="92" y="155.92" width="14" height="2.56" rx="1.28" fill="#1c1c1c" fill-opacity="0.85" filter="url(#b0_8)"/>
<ellipse cx="117.6" cy="157.2" rx="9.38" ry="3.6" fill="#444" fill-opacity="0.33" filter="url(#b1_5)"/>
<rect x="109.73" y="155.6" width="15.75" height="3.2" rx="1.6" fill="#1c1c1c" fill-opacity="0.95" filter="url(#b0_8)"/>
<ellipse cx="136.2" cy="157.2" rx="8.94" ry="3.6" fill="#444" fill-opacity="0.32" filter="url(#b1_5)"/>
<rect x="128.76" y="155.6" width="14.88" height="3.2" rx="1.6" fill="#1c1c1c" fill-opacity="0.9" filter="url(#b0_8)"/>
<ellipse cx="154.8" cy="157.2" rx="9.38" ry="3.28" fill="#444" fill-opacity="0.12" filter="url(#b1_5)"/>
<rect x="146.93" y="155.92" width="15.75" height="2.56" rx="1.28" fill="#1c1c1c" fill-opacity="0.35" filter="url(#b0_8)"/>
<ellipse cx="173.4" cy="157.2" rx="9.38" ry="3.28" fill="#444" fill-opacity="0.1" filter="url(#b1_5)"/>
<rect x="165.53" y="155.92" width="15.75" height="2.56" rx="1.28" fill="#1c1c1c" fill-opacity="0.3" filter="url(#b0_8)"/>
<ellipse cx="192" cy="157.2" rx="9.38" ry="3.28" fill="#444" fill-opacity="0.09" filter="url(#b1_5)"/>
<rect x="184.12" y="155.92" width="15.75" height="2.56" rx="1.28" fill="#1c1c1c" fill-opacity="0.25" filter="url(#b0_8)"/>
<ellipse cx="210.6" cy="157.2" rx="9.38" ry="3.28" fill="#444" fill-opacity="0.12" filter="url(#b1_5)"/>
<rect x="202.73" y="155.92" width="15.75" height="2.56" rx="1.28" fill="#1c1c1c" fill-opacity="0.35" filter="url(#b0_8)"/>
<ellipse cx="229.2" cy="157.2" rx="9.38" ry="3.28" fill="#444" fill-opacity="0.1" filter="url(#b1_5)"/>
<rect x="221.32" y="155.92" width="15.75" height="2.56" rx="1.28" fill="#1c1c1c" fill-opacity="0.3" filter="url(#b0_8)"/>
<ellipse cx="247.8" cy="157.2" rx="9.38" ry="3.28" fill="#444" fill-opacity="0.12" filter="url(#b1_5)"/>
<rect x="239.93" y="155.92" width="15.75" height="2.56" rx="1.28" fill="#1c1c1c" fill-opacity="0.35" filter="url(#b0_8)"/>
<rect x="28" y="149.2" width="235.3" height="17" filter="url(#bnoise)" opacity="0.18"/>
</g>
<rect x="28.45" y="149.65" width="234.4" height="16.1" fill="none" stroke="#2a2a2a" stroke-width="0.9"/>
<g clip-path="url(#c18)">
<rect x="28" y="175.9" width="235.3" height="17.7" fill="#d2d2d2"/>
<rect x="28" y="175.9" width="235.3" height="17.7" fill="url(#gc18)"/>
<ellipse cx="43.2" cy="185.3" rx="10.25" ry="3.96" fill="#444" fill-opacity="0.35" filter="url(#b1_5)"/>
<rect x="34.45" y="183.34" width="17.5" height="3.91" rx="1.95" fill="#161616" fill-opacity="1" filter="url(#b0_8)"/>
<ellipse cx="61.8" cy="185.3" rx="10.25" ry="3.96" fill="#444" fill-opacity="0.35" filter="url(#b1_5)"/>
<rect x="53.05" y="183.34" width="17.5" height="3.91" rx="1.95" fill="#161616" fill-opacity="1" filter="url(#b0_8)"/>
<ellipse cx="80.4" cy="185.3" rx="9.81" ry="3.87" fill="#444" fill-opacity="0.35" filter="url(#b1_5)"/>
<rect x="72.09" y="183.43" width="16.62" height="3.74" rx="1.87" fill="#161616" fill-opacity="1" filter="url(#b0_8)"/>
<ellipse cx="99" cy="185.3" rx="8.94" ry="3.44" fill="#444" fill-opacity="0.3" filter="url(#b1_5)"/>
<rect x="91.56" y="183.86" width="14.88" height="2.89" rx="1.44" fill="#161616" fill-opacity="0.85" filter="url(#b0_8)"/>
<ellipse cx="117.6" cy="185.3" rx="9.38" ry="3.7" fill="#444" fill-opacity="0.33" filter="url(#b1_5)"/>
<rect x="109.73" y="183.6" width="15.75" height="3.4" rx="1.7" fill="#161616" fill-opacity="0.95" filter="url(#b0_8)"/>
<ellipse cx="136.2" cy="185.3" rx="9.81" ry="3.7" fill="#444" fill-opacity="0.33" filter="url(#b1_5)"/>
<rect x="127.89" y="183.6" width="16.62" height="3.4" rx="1.7" fill="#161616" fill-opacity="0.95" filter="url(#b0_8)"/>
<ellipse cx="154.8" cy="185.3" rx="8.94" ry="3.36" fill="#444" fill-opacity="0.14" filter="url(#b1_5)"/>
<rect x="147.36" y="183.94" width="14.88" height="2.72" rx="1.36" fill="#161616" fill-opacity="0.4" filter="url(#b0_8)"/>
<ellipse cx="173.4" cy="185.3" rx="8.94" ry="3.36" fill="#444" fill-opacity="0.12" filter="url(#b1_5)"/>
<rect x="165.96" y="183.94" width="14.88" height="2.72" rx="1.36" fill="#161616" fill-opacity="0.35" filter="url(#b0_8)"/>
<ellipse cx="192" cy="185.3" rx="8.94" ry="3.36" fill="#444" fill-opacity="0.1" filter="url(#b1_5)"/>
<rect x="184.56" y="183.94" width="14.88" height="2.72" rx="1.36" fill="#161616" fill-opacity="0.3" filter="url(#b0_8)"/>
<ellipse cx="210.6" cy="185.3" rx="9.38" ry="3.53" fill="#444" fill-opacity="0.19" filter="url(#b1_5)"/>
<rect x="202.73" y="183.77" width="15.75" height="3.06" rx="1.53" fill="#161616" fill-opacity="0.55" filter="url(#b0_8)"/>
<ellipse cx="229.2" cy="185.3" rx="9.38" ry="3.53" fill="#444" fill-opacity="0.19" filter="url(#b1_5)"/>
<rect x="221.32" y="183.77" width="15.75" height="3.06" rx="1.53" fill="#161616" fill-opacity="0.55" filter="url(#b0_8)"/>
<ellipse cx="247.8" cy="185.3" rx="9.38" ry="3.53" fill="#444" fill-opacity="0.17" filter="url(#b1_5)"/>
<rect x="239.93" y="183.77" width="15.75" height="3.06" rx="1.53" fill="#161616" fill-opacity="0.5" filter="url(#b0_8)"/>
<rect x="28" y="175.9" width="235.3" height="17.7" filter="url(#bnoise)" opacity="0.18"/>
</g>
<rect x="28.45" y="176.35" width="234.4" height="16.8" fill="none" stroke="#2a2a2a" stroke-width="0.9"/>
<g clip-path="url(#c19)">
<rect x="28" y="202.2" width="235.3" height="18.3" fill="#a4a4a4"/>
<rect x="28" y="202.2" width="235.3" height="18.3" fill="url(#gc19)"/>
<ellipse cx="62" cy="209" rx="25" ry="5" fill="#555" fill-opacity="0.45" filter="url(#b2_5)"/>
<ellipse cx="43.2" cy="209" rx="9.9" ry="4.45" fill="#444" fill-opacity="0.16" filter="url(#b1_5)"/>
<rect x="34.8" y="206.55" width="16.8" height="4.9" rx="2.45" fill="#333" fill-opacity="0.45" filter="url(#b1_2)"/>
<ellipse cx="61.8" cy="209" rx="9.9" ry="4.45" fill="#444" fill-opacity="0.16" filter="url(#b1_5)"/>
<rect x="53.4" y="206.55" width="16.8" height="4.9" rx="2.45" fill="#333" fill-opacity="0.45" filter="url(#b1_2)"/>
<ellipse cx="80.4" cy="209" rx="9.9" ry="4.45" fill="#444" fill-opacity="0.17" filter="url(#b1_5)"/>
<rect x="72" y="206.55" width="16.8" height="4.9" rx="2.45" fill="#333" fill-opacity="0.5" filter="url(#b1_2)"/>
<ellipse cx="99" cy="209" rx="9.5" ry="3.75" fill="#444" fill-opacity="0.03" filter="url(#b1_5)"/>
<rect x="91" y="207.25" width="16" height="3.5" rx="1.75" fill="#333" fill-opacity="0.1" filter="url(#b1_2)"/>
<ellipse cx="117.6" cy="209" rx="9.5" ry="3.75" fill="#444" fill-opacity="0.03" filter="url(#b1_5)"/>
<rect x="109.6" y="207.25" width="16" height="3.5" rx="1.75" fill="#333" fill-opacity="0.08" filter="url(#b1_2)"/>
<ellipse cx="136.2" cy="209" rx="9.5" ry="3.75" fill="#444" fill-opacity="0.03" filter="url(#b1_5)"/>
<rect x="128.2" y="207.25" width="16" height="3.5" rx="1.75" fill="#333" fill-opacity="0.08" filter="url(#b1_2)"/>
<ellipse cx="150" cy="210" rx="22" ry="8" fill="#3a3a3a" fill-opacity="0.5" filter="url(#b3)"/>
<ellipse cx="192" cy="210" rx="10" ry="7" fill="#555" fill-opacity="0.4" filter="url(#b2_5)"/>
<ellipse cx="232" cy="208" rx="25" ry="6" fill="#666" fill-opacity="0.35" filter="url(#b2_5)"/>
<rect x="137.3" y="210.7" width="17" height="3.2" rx="1.6" fill="#050505" fill-opacity="1" filter="url(#b0_6)"/>
<rect x="156.1" y="210.7" width="17" height="3.2" rx="1.6" fill="#050505" fill-opacity="0.95" filter="url(#b0_6)"/>
<ellipse cx="192" cy="211" rx="7" ry="3" fill="#333" fill-opacity="0.45" filter="url(#b1_5)"/>
<rect x="28" y="202.2" width="235.3" height="18.3" filter="url(#bnoise)" opacity="0.18"/>
</g>
<rect x="28.45" y="202.65" width="234.4" height="17.4" fill="none" stroke="#2a2a2a" stroke-width="0.9"/>
<g clip-path="url(#c20)">
<rect x="28" y="229.8" width="235.3" height="18.8" fill="#d0d0d0"/>
<rect x="28" y="229.8" width="235.3" height="18.8" fill="url(#gc20)"/>
<ellipse cx="43.2" cy="239" rx="9" ry="3" fill="#444" fill-opacity="0.21" filter="url(#b1_5)"/>
<rect x="35.7" y="238" width="15" height="2" rx="1" fill="#333" fill-opacity="0.6" filter="url(#b0_6)"/>
<ellipse cx="61.8" cy="239" rx="9" ry="3" fill="#444" fill-opacity="0.21" filter="url(#b1_5)"/>
<rect x="54.3" y="238" width="15" height="2" rx="1" fill="#333" fill-opacity="0.6" filter="url(#b0_6)"/>
<ellipse cx="80.4" cy="239" rx="9" ry="3" fill="#444" fill-opacity="0.21" filter="url(#b1_5)"/>
<rect x="72.9" y="238" width="15" height="2" rx="1" fill="#333" fill-opacity="0.6" filter="url(#b0_6)"/>
<ellipse cx="99" cy="239" rx="9" ry="3" fill="#444" fill-opacity="0.21" filter="url(#b1_5)"/>
<rect x="91.5" y="238" width="15" height="2" rx="1" fill="#333" fill-opacity="0.6" filter="url(#b0_6)"/>
<ellipse cx="117.6" cy="239" rx="9" ry="3" fill="#444" fill-opacity="0.21" filter="url(#b1_5)"/>
<rect x="110.1" y="238" width="15" height="2" rx="1" fill="#333" fill-opacity="0.6" filter="url(#b0_6)"/>
<ellipse cx="136.2" cy="239" rx="9" ry="3" fill="#444" fill-opacity="0.21" filter="url(#b1_5)"/>
<rect x="128.7" y="238" width="15" height="2" rx="1" fill="#333" fill-opacity="0.6" filter="url(#b0_6)"/>
<ellipse cx="154.8" cy="239" rx="9" ry="3" fill="#444" fill-opacity="0.21" filter="url(#b1_5)"/>
<rect x="147.3" y="238" width="15" height="2" rx="1" fill="#333" fill-opacity="0.6" filter="url(#b0_6)"/>
<ellipse cx="173.4" cy="239" rx="9" ry="3" fill="#444" fill-opacity="0.21" filter="url(#b1_5)"/>
<rect x="165.9" y="238" width="15" height="2" rx="1" fill="#333" fill-opacity="0.6" filter="url(#b0_6)"/>
<ellipse cx="192" cy="239" rx="9" ry="3" fill="#444" fill-opacity="0.21" filter="url(#b1_5)"/>
<rect x="184.5" y="238" width="15" height="2" rx="1" fill="#333" fill-opacity="0.6" filter="url(#b0_6)"/>
<ellipse cx="210.6" cy="239" rx="9" ry="3" fill="#444" fill-opacity="0.21" filter="url(#b1_5)"/>
<rect x="203.1" y="238" width="15" height="2" rx="1" fill="#333" fill-opacity="0.6" filter="url(#b0_6)"/>
<ellipse cx="229.2" cy="239" rx="9" ry="3" fill="#444" fill-opacity="0.21" filter="url(#b1_5)"/>
<rect x="221.7" y="238" width="15" height="2" rx="1" fill="#333" fill-opacity="0.6" filter="url(#b0_6)"/>
<ellipse cx="247.8" cy="239" rx="9" ry="3" fill="#444" fill-opacity="0.21" filter="url(#b1_5)"/>
<rect x="240.3" y="238" width="15" height="2" rx="1" fill="#333" fill-opacity="0.6" filter="url(#b0_6)"/>
<ellipse cx="145" cy="244" rx="117.5" ry="1" fill="#888" fill-opacity="0.25" filter="url(#b1)"/>
<rect x="28" y="229.8" width="235.3" height="18.8" filter="url(#bnoise)" opacity="0.18"/>
</g>
<rect x="28.45" y="230.25" width="234.4" height="17.9" fill="none" stroke="#2a2a2a" stroke-width="0.9"/>
<g clip-path="url(#c21)">
<rect x="28" y="252.2" width="235.3" height="19.4" fill="#cfcfcf"/>
<rect x="28" y="252.2" width="235.3" height="19.4" fill="url(#gc21)"/>
<rect x="32" y="257.5" width="226" height="8.6" rx="4.3" fill="#0a0a0a" fill-opacity="1" filter="url(#b0_8)"/>
<ellipse cx="43.2" cy="262" rx="10" ry="6.75" fill="#444" fill-opacity="0.35" filter="url(#b1_5)"/>
<rect x="34.7" y="257.25" width="17" height="9.5" rx="4.75" fill="#111" fill-opacity="1" filter="url(#b1_2)"/>
<ellipse cx="61.8" cy="262" rx="10" ry="6.75" fill="#444" fill-opacity="0.35" filter="url(#b1_5)"/>
<rect x="53.3" y="257.25" width="17" height="9.5" rx="4.75" fill="#111" fill-opacity="1" filter="url(#b1_2)"/>
<ellipse cx="80.4" cy="262" rx="10" ry="6.75" fill="#444" fill-opacity="0.35" filter="url(#b1_5)"/>
<rect x="71.9" y="257.25" width="17" height="9.5" rx="4.75" fill="#111" fill-opacity="1" filter="url(#b1_2)"/>
<ellipse cx="99" cy="262" rx="10" ry="6.75" fill="#444" fill-opacity="0.35" filter="url(#b1_5)"/>
<rect x="90.5" y="257.25" width="17" height="9.5" rx="4.75" fill="#111" fill-opacity="1" filter="url(#b1_2)"/>
<ellipse cx="117.6" cy="262" rx="10" ry="6.75" fill="#444" fill-opacity="0.35" filter="url(#b1_5)"/>
<rect x="109.1" y="257.25" width="17" height="9.5" rx="4.75" fill="#111" fill-opacity="1" filter="url(#b1_2)"/>
<ellipse cx="136.2" cy="262" rx="10" ry="6.75" fill="#444" fill-opacity="0.35" filter="url(#b1_5)"/>
<rect x="127.7" y="257.25" width="17" height="9.5" rx="4.75" fill="#111" fill-opacity="1" filter="url(#b1_2)"/>
<ellipse cx="154.8" cy="262" rx="10" ry="6.75" fill="#444" fill-opacity="0.35" filter="url(#b1_5)"/>
<rect x="146.3" y="257.25" width="17" height="9.5" rx="4.75" fill="#111" fill-opacity="1" filter="url(#b1_2)"/>
<ellipse cx="173.4" cy="262" rx="10" ry="6.75" fill="#444" fill-opacity="0.35" filter="url(#b1_5)"/>
<rect x="164.9" y="257.25" width="17" height="9.5" rx="4.75" fill="#111" fill-opacity="1" filter="url(#b1_2)"/>
<ellipse cx="192" cy="262" rx="10" ry="6.75" fill="#444" fill-opacity="0.35" filter="url(#b1_5)"/>
<rect x="183.5" y="257.25" width="17" height="9.5" rx="4.75" fill="#111" fill-opacity="1" filter="url(#b1_2)"/>
<ellipse cx="210.6" cy="262" rx="10" ry="6.75" fill="#444" fill-opacity="0.35" filter="url(#b1_5)"/>
<rect x="202.1" y="257.25" width="17" height="9.5" rx="4.75" fill="#111" fill-opacity="1" filter="url(#b1_2)"/>
<ellipse cx="229.2" cy="262" rx="10" ry="6.75" fill="#444" fill-opacity="0.35" filter="url(#b1_5)"/>
<rect x="220.7" y="257.25" width="17" height="9.5" rx="4.75" fill="#111" fill-opacity="1" filter="url(#b1_2)"/>
<ellipse cx="247.8" cy="262" rx="10" ry="6.75" fill="#444" fill-opacity="0.35" filter="url(#b1_5)"/>
<rect x="239.3" y="257.25" width="17" height="9.5" rx="4.75" fill="#111" fill-opacity="1" filter="url(#b1_2)"/>
<rect x="28" y="252.2" width="235.3" height="19.4" filter="url(#bnoise)" opacity="0.18"/>
</g>
<rect x="28.45" y="252.65" width="234.4" height="18.5" fill="none" stroke="#2a2a2a" stroke-width="0.9"/>
<text transform="translate(27.5,280) scale(1,1.1)" font-size="6.4" text-anchor="end">Sample</text>
<text transform="translate(27.5,289) scale(1,1.1)" font-size="6.4" text-anchor="end">MET</text>
<text transform="translate(1.3,297.6) scale(1,1.1)" font-size="6.4">(250 mg/kg)</text>
<text transform="translate(42.4,280) scale(1,1.1)" font-size="6.4" text-anchor="middle">1</text>
<text transform="translate(42.4,287.3) scale(1,1.1)" font-size="6" text-anchor="middle">-</text>
<text transform="translate(61,280) scale(1,1.1)" font-size="6.4" text-anchor="middle">2</text>
<text transform="translate(61,287.3) scale(1,1.1)" font-size="6" text-anchor="middle">-</text>
<text transform="translate(79.6,280) scale(1,1.1)" font-size="6.4" text-anchor="middle">3</text>
<text transform="translate(79.6,287.3) scale(1,1.1)" font-size="6" text-anchor="middle">-</text>
<text transform="translate(98.2,280) scale(1,1.1)" font-size="6.4" text-anchor="middle">1</text>
<text transform="translate(98.2,287.3) scale(1,1.1)" font-size="6" text-anchor="middle">-</text>
<text transform="translate(116.8,280) scale(1,1.1)" font-size="6.4" text-anchor="middle">2</text>
<text transform="translate(116.8,287.3) scale(1,1.1)" font-size="6" text-anchor="middle">-</text>
<text transform="translate(135.4,280) scale(1,1.1)" font-size="6.4" text-anchor="middle">3</text>
<text transform="translate(135.4,287.3) scale(1,1.1)" font-size="6" text-anchor="middle">-</text>
<text transform="translate(154,280) scale(1,1.1)" font-size="6.4" text-anchor="middle">1</text>
<text transform="translate(154,287.3) scale(1,1.1)" font-size="6" text-anchor="middle">+</text>
<text transform="translate(172.6,280) scale(1,1.1)" font-size="6.4" text-anchor="middle">2</text>
<text transform="translate(172.6,287.3) scale(1,1.1)" font-size="6" text-anchor="middle">+</text>
<text transform="translate(191.2,280) scale(1,1.1)" font-size="6.4" text-anchor="middle">3</text>
<text transform="translate(191.2,287.3) scale(1,1.1)" font-size="6" text-anchor="middle">+</text>
<text transform="translate(209.8,280) scale(1,1.1)" font-size="6.4" text-anchor="middle">1</text>
<text transform="translate(209.8,287.3) scale(1,1.1)" font-size="6" text-anchor="middle">+</text>
<text transform="translate(228.4,280) scale(1,1.1)" font-size="6.4" text-anchor="middle">2</text>
<text transform="translate(228.4,287.3) scale(1,1.1)" font-size="6" text-anchor="middle">+</text>
<text transform="translate(247,280) scale(1,1.1)" font-size="6.4" text-anchor="middle">3</text>
<text transform="translate(247,287.3) scale(1,1.1)" font-size="6" text-anchor="middle">+</text>
<line x1="37.7" y1="291.2" x2="85.9" y2="291.2" stroke="#333" stroke-width="0.8"/>
<text transform="translate(61.8,299.4) scale(1,1.1)" font-size="6.4" text-anchor="middle">ZT6</text>
<line x1="93.5" y1="291.2" x2="141.7" y2="291.2" stroke="#333" stroke-width="0.8"/>
<text transform="translate(117.6,299.4) scale(1,1.1)" font-size="6.4" text-anchor="middle">ZT18</text>
<line x1="149.3" y1="291.2" x2="197.5" y2="291.2" stroke="#333" stroke-width="0.8"/>
<text transform="translate(173.4,299.4) scale(1,1.1)" font-size="6.4" text-anchor="middle">ZT6</text>
<line x1="205.1" y1="291.2" x2="253.3" y2="291.2" stroke="#333" stroke-width="0.8"/>
<text transform="translate(229.2,299.4) scale(1,1.1)" font-size="6.4" text-anchor="middle">ZT18</text>
<text transform="translate(265,142.2) scale(1,1.1)" font-size="13.3" font-weight="bold" fill="#000">D</text>
<line x1="300.5" y1="156" x2="300.5" y2="198.6" stroke="#222" stroke-width="0.8"/>
<line x1="298.9" y1="198.6" x2="300.5" y2="198.6" stroke="#222" stroke-width="0.8"/>
<text transform="translate(298.1,200.83) scale(1,1.1)" font-size="6.2" text-anchor="end">0.000</text>
<line x1="298.9" y1="177.8" x2="300.5" y2="177.8" stroke="#222" stroke-width="0.8"/>
<text transform="translate(298.1,180.03) scale(1,1.1)" font-size="6.2" text-anchor="end">0.010</text>
<line x1="298.9" y1="157" x2="300.5" y2="157" stroke="#222" stroke-width="0.8"/>
<text transform="translate(298.1,159.23) scale(1,1.1)" font-size="6.2" text-anchor="end">0.020</text>
<line x1="300.5" y1="198.6" x2="380.5" y2="198.6" stroke="#222" stroke-width="0.8"/>
<line x1="307.68" y1="198.6" x2="307.68" y2="200.2" stroke="#222" stroke-width="0.8"/>
<text transform="translate(307.68,207.6) scale(1,1.1)" font-size="6.2" text-anchor="middle">6</text>
<line x1="321.64" y1="198.6" x2="321.64" y2="200.2" stroke="#222" stroke-width="0.8"/>
<text transform="translate(321.64,207.6) scale(1,1.1)" font-size="6.2" text-anchor="middle">14</text>
<line x1="335.6" y1="198.6" x2="335.6" y2="200.2" stroke="#222" stroke-width="0.8"/>
<text transform="translate(335.6,207.6) scale(1,1.1)" font-size="6.2" text-anchor="middle">22</text>
<line x1="349.56" y1="198.6" x2="349.56" y2="200.2" stroke="#222" stroke-width="0.8"/>
<text transform="translate(349.56,207.6) scale(1,1.1)" font-size="6.2" text-anchor="middle">30</text>
<line x1="363.52" y1="198.6" x2="363.52" y2="200.2" stroke="#222" stroke-width="0.8"/>
<text transform="translate(363.52,207.6) scale(1,1.1)" font-size="6.2" text-anchor="middle">38</text>
<line x1="377.48" y1="198.6" x2="377.48" y2="200.2" stroke="#222" stroke-width="0.8"/>
<text transform="translate(377.48,207.6) scale(1,1.1)" font-size="6.2" text-anchor="middle">46</text>
<line x1="300.7" y1="198.6" x2="300.7" y2="199.8" stroke="#222" stroke-width="0.6"/>
<line x1="314.66" y1="198.6" x2="314.66" y2="199.8" stroke="#222" stroke-width="0.6"/>
<line x1="328.62" y1="198.6" x2="328.62" y2="199.8" stroke="#222" stroke-width="0.6"/>
<line x1="342.58" y1="198.6" x2="342.58" y2="199.8" stroke="#222" stroke-width="0.6"/>
<line x1="356.54" y1="198.6" x2="356.54" y2="199.8" stroke="#222" stroke-width="0.6"/>
<line x1="370.5" y1="198.6" x2="370.5" y2="199.8" stroke="#222" stroke-width="0.6"/>
<text transform="translate(342.5,214.6) scale(1,1.1)" font-size="6.9" text-anchor="middle">ZT (h)</text>
<text transform="translate(340,145) scale(1,1.1)" font-size="6.3" text-anchor="middle" font-weight="bold" font-style="italic">BMAL1</text>
<text transform="translate(277.7,178.5) rotate(-90)" font-size="6.6" text-anchor="middle" fill="#222">mRNA level/<tspan font-style="italic">β-Actin</tspan></text>
<path d="M300.7,188.2 C301.86,188.89 305.35,194.96 307.68,192.36 C310.01,189.76 312.33,174.85 314.66,172.6 C316.99,170.35 319.31,176.24 321.64,178.84 C323.97,181.44 326.29,187.33 328.62,188.2 C330.95,189.07 333.27,182.41 335.6,184.04 C337.93,185.67 340.25,195.65 342.58,197.98 C344.91,200.3 347.23,199.61 349.56,197.98 C351.89,196.35 354.21,189.14 356.54,188.2 C358.87,187.26 361.19,190.73 363.52,192.36 C365.85,193.99 368.17,197.21 370.5,197.98 C372.83,198.74 376.32,197.11 377.48,196.94" fill="none" stroke="#3f51a3" stroke-width="0.9"/>
<path d="M300.7,187.16 C301.86,187.33 305.35,187.16 307.68,188.2 C310.01,189.24 312.33,191.67 314.66,193.4 C316.99,195.13 319.31,198.95 321.64,198.6 C323.97,198.25 326.29,194.96 328.62,191.32 C330.95,187.68 333.27,177.11 335.6,176.76 C337.93,176.41 340.25,186.57 342.58,189.24 C344.91,191.91 347.23,191.67 349.56,192.78 C351.89,193.89 354.21,195.1 356.54,195.9 C358.87,196.69 361.19,197.53 363.52,197.56 C365.85,197.59 368.17,197.84 370.5,196.1 C372.83,194.37 376.32,188.65 377.48,187.16" fill="none" stroke="#111" stroke-width="0.9"/>
<line x1="300.7" y1="187.16" x2="300.7" y2="189.24" stroke="#3f51a3" stroke-width="0.6"/>
<line x1="299.7" y1="187.16" x2="301.7" y2="187.16" stroke="#3f51a3" stroke-width="0.6"/>
<line x1="299.7" y1="189.24" x2="301.7" y2="189.24" stroke="#3f51a3" stroke-width="0.6"/>
<line x1="307.68" y1="190.7" x2="307.68" y2="194.02" stroke="#3f51a3" stroke-width="0.6"/>
<line x1="306.68" y1="190.7" x2="308.68" y2="190.7" stroke="#3f51a3" stroke-width="0.6"/>
<line x1="306.68" y1="194.02" x2="308.68" y2="194.02" stroke="#3f51a3" stroke-width="0.6"/>
<line x1="314.66" y1="169.48" x2="314.66" y2="175.72" stroke="#3f51a3" stroke-width="0.6"/>
<line x1="313.66" y1="169.48" x2="315.66" y2="169.48" stroke="#3f51a3" stroke-width="0.6"/>
<line x1="313.66" y1="175.72" x2="315.66" y2="175.72" stroke="#3f51a3" stroke-width="0.6"/>
<line x1="321.64" y1="177.18" x2="321.64" y2="180.5" stroke="#3f51a3" stroke-width="0.6"/>
<line x1="320.64" y1="177.18" x2="322.64" y2="177.18" stroke="#3f51a3" stroke-width="0.6"/>
<line x1="320.64" y1="180.5" x2="322.64" y2="180.5" stroke="#3f51a3" stroke-width="0.6"/>
<line x1="328.62" y1="185.08" x2="328.62" y2="191.32" stroke="#3f51a3" stroke-width="0.6"/>
<line x1="327.62" y1="185.08" x2="329.62" y2="185.08" stroke="#3f51a3" stroke-width="0.6"/>
<line x1="327.62" y1="191.32" x2="329.62" y2="191.32" stroke="#3f51a3" stroke-width="0.6"/>
<line x1="335.6" y1="183" x2="335.6" y2="185.08" stroke="#3f51a3" stroke-width="0.6"/>
<line x1="334.6" y1="183" x2="336.6" y2="183" stroke="#3f51a3" stroke-width="0.6"/>
<line x1="334.6" y1="185.08" x2="336.6" y2="185.08" stroke="#3f51a3" stroke-width="0.6"/>
<line x1="342.58" y1="197.56" x2="342.58" y2="198.39" stroke="#3f51a3" stroke-width="0.6"/>
<line x1="341.58" y1="197.56" x2="343.58" y2="197.56" stroke="#3f51a3" stroke-width="0.6"/>
<line x1="341.58" y1="198.39" x2="343.58" y2="198.39" stroke="#3f51a3" stroke-width="0.6"/>
<line x1="349.56" y1="197.56" x2="349.56" y2="198.39" stroke="#3f51a3" stroke-width="0.6"/>
<line x1="348.56" y1="197.56" x2="350.56" y2="197.56" stroke="#3f51a3" stroke-width="0.6"/>
<line x1="348.56" y1="198.39" x2="350.56" y2="198.39" stroke="#3f51a3" stroke-width="0.6"/>
<line x1="356.54" y1="187.37" x2="356.54" y2="189.03" stroke="#3f51a3" stroke-width="0.6"/>
<line x1="355.54" y1="187.37" x2="357.54" y2="187.37" stroke="#3f51a3" stroke-width="0.6"/>
<line x1="355.54" y1="189.03" x2="357.54" y2="189.03" stroke="#3f51a3" stroke-width="0.6"/>
<line x1="363.52" y1="191.53" x2="363.52" y2="193.19" stroke="#3f51a3" stroke-width="0.6"/>
<line x1="362.52" y1="191.53" x2="364.52" y2="191.53" stroke="#3f51a3" stroke-width="0.6"/>
<line x1="362.52" y1="193.19" x2="364.52" y2="193.19" stroke="#3f51a3" stroke-width="0.6"/>
<line x1="370.5" y1="197.56" x2="370.5" y2="198.39" stroke="#3f51a3" stroke-width="0.6"/>
<line x1="369.5" y1="197.56" x2="371.5" y2="197.56" stroke="#3f51a3" stroke-width="0.6"/>
<line x1="369.5" y1="198.39" x2="371.5" y2="198.39" stroke="#3f51a3" stroke-width="0.6"/>
<line x1="377.48" y1="196.52" x2="377.48" y2="197.35" stroke="#3f51a3" stroke-width="0.6"/>
<line x1="376.48" y1="196.52" x2="378.48" y2="196.52" stroke="#3f51a3" stroke-width="0.6"/>
<line x1="376.48" y1="197.35" x2="378.48" y2="197.35" stroke="#3f51a3" stroke-width="0.6"/>
<line x1="300.7" y1="186.12" x2="300.7" y2="188.2" stroke="#111" stroke-width="0.6"/>
<line x1="299.7" y1="186.12" x2="301.7" y2="186.12" stroke="#111" stroke-width="0.6"/>
<line x1="299.7" y1="188.2" x2="301.7" y2="188.2" stroke="#111" stroke-width="0.6"/>
<line x1="307.68" y1="187.58" x2="307.68" y2="188.82" stroke="#111" stroke-width="0.6"/>
<line x1="306.68" y1="187.58" x2="308.68" y2="187.58" stroke="#111" stroke-width="0.6"/>
<line x1="306.68" y1="188.82" x2="308.68" y2="188.82" stroke="#111" stroke-width="0.6"/>
<line x1="314.66" y1="192.98" x2="314.66" y2="193.82" stroke="#111" stroke-width="0.6"/>
<line x1="313.66" y1="192.98" x2="315.66" y2="192.98" stroke="#111" stroke-width="0.6"/>
<line x1="313.66" y1="193.82" x2="315.66" y2="193.82" stroke="#111" stroke-width="0.6"/>
<line x1="321.64" y1="198.39" x2="321.64" y2="198.81" stroke="#111" stroke-width="0.6"/>
<line x1="320.64" y1="198.39" x2="322.64" y2="198.39" stroke="#111" stroke-width="0.6"/>
<line x1="320.64" y1="198.81" x2="322.64" y2="198.81" stroke="#111" stroke-width="0.6"/>
<line x1="328.62" y1="190.7" x2="328.62" y2="191.94" stroke="#111" stroke-width="0.6"/>
<line x1="327.62" y1="190.7" x2="329.62" y2="190.7" stroke="#111" stroke-width="0.6"/>
<line x1="327.62" y1="191.94" x2="329.62" y2="191.94" stroke="#111" stroke-width="0.6"/>
<line x1="335.6" y1="175.51" x2="335.6" y2="178.01" stroke="#111" stroke-width="0.6"/>
<line x1="334.6" y1="175.51" x2="336.6" y2="175.51" stroke="#111" stroke-width="0.6"/>
<line x1="334.6" y1="178.01" x2="336.6" y2="178.01" stroke="#111" stroke-width="0.6"/>
<line x1="342.58" y1="188.82" x2="342.58" y2="189.66" stroke="#111" stroke-width="0.6"/>
<line x1="341.58" y1="188.82" x2="343.58" y2="188.82" stroke="#111" stroke-width="0.6"/>
<line x1="341.58" y1="189.66" x2="343.58" y2="189.66" stroke="#111" stroke-width="0.6"/>
<line x1="349.56" y1="192.36" x2="349.56" y2="193.19" stroke="#111" stroke-width="0.6"/>
<line x1="348.56" y1="192.36" x2="350.56" y2="192.36" stroke="#111" stroke-width="0.6"/>
<line x1="348.56" y1="193.19" x2="350.56" y2="193.19" stroke="#111" stroke-width="0.6"/>
<line x1="356.54" y1="195.48" x2="356.54" y2="196.31" stroke="#111" stroke-width="0.6"/>
<line x1="355.54" y1="195.48" x2="357.54" y2="195.48" stroke="#111" stroke-width="0.6"/>
<line x1="355.54" y1="196.31" x2="357.54" y2="196.31" stroke="#111" stroke-width="0.6"/>
<line x1="363.52" y1="197.35" x2="363.52" y2="197.77" stroke="#111" stroke-width="0.6"/>
<line x1="362.52" y1="197.35" x2="364.52" y2="197.35" stroke="#111" stroke-width="0.6"/>
<line x1="362.52" y1="197.77" x2="364.52" y2="197.77" stroke="#111" stroke-width="0.6"/>
<line x1="370.5" y1="195.69" x2="370.5" y2="196.52" stroke="#111" stroke-width="0.6"/>
<line x1="369.5" y1="195.69" x2="371.5" y2="195.69" stroke="#111" stroke-width="0.6"/>
<line x1="369.5" y1="196.52" x2="371.5" y2="196.52" stroke="#111" stroke-width="0.6"/>
<line x1="377.48" y1="186.74" x2="377.48" y2="187.58" stroke="#111" stroke-width="0.6"/>
<line x1="376.48" y1="186.74" x2="378.48" y2="186.74" stroke="#111" stroke-width="0.6"/>
<line x1="376.48" y1="187.58" x2="378.48" y2="187.58" stroke="#111" stroke-width="0.6"/>
<rect x="299.35" y="186.85" width="2.7" height="2.7" fill="#3f51a3"/>
<rect x="306.33" y="191.01" width="2.7" height="2.7" fill="#3f51a3"/>
<rect x="313.31" y="171.25" width="2.7" height="2.7" fill="#3f51a3"/>
<rect x="320.29" y="177.49" width="2.7" height="2.7" fill="#3f51a3"/>
<rect x="327.27" y="186.85" width="2.7" height="2.7" fill="#3f51a3"/>
<rect x="334.25" y="182.69" width="2.7" height="2.7" fill="#3f51a3"/>
<rect x="341.23" y="196.63" width="2.7" height="2.7" fill="#3f51a3"/>
<rect x="348.21" y="196.63" width="2.7" height="2.7" fill="#3f51a3"/>
<rect x="355.19" y="186.85" width="2.7" height="2.7" fill="#3f51a3"/>
<rect x="362.17" y="191.01" width="2.7" height="2.7" fill="#3f51a3"/>
<rect x="369.15" y="196.63" width="2.7" height="2.7" fill="#3f51a3"/>
<rect x="376.13" y="195.59" width="2.7" height="2.7" fill="#3f51a3"/>
<circle cx="300.7" cy="187.16" r="1.45" fill="#111"/>
<circle cx="307.68" cy="188.2" r="1.45" fill="#111"/>
<circle cx="314.66" cy="193.4" r="1.45" fill="#111"/>
<circle cx="321.64" cy="198.6" r="1.45" fill="#111"/>
<circle cx="328.62" cy="191.32" r="1.45" fill="#111"/>
<circle cx="335.6" cy="176.76" r="1.45" fill="#111"/>
<circle cx="342.58" cy="189.24" r="1.45" fill="#111"/>
<circle cx="349.56" cy="192.78" r="1.45" fill="#111"/>
<circle cx="356.54" cy="195.9" r="1.45" fill="#111"/>
<circle cx="363.52" cy="197.56" r="1.45" fill="#111"/>
<circle cx="370.5" cy="196.1" r="1.45" fill="#111"/>
<circle cx="377.48" cy="187.16" r="1.45" fill="#111"/>
<line x1="410.9" y1="154.5" x2="410.9" y2="198.4" stroke="#222" stroke-width="0.8"/>
<line x1="409.3" y1="198.4" x2="410.9" y2="198.4" stroke="#222" stroke-width="0.8"/>
<text transform="translate(408.5,200.63) scale(1,1.1)" font-size="6.2" text-anchor="end">0.0</text>
<line x1="409.3" y1="176.9" x2="410.9" y2="176.9" stroke="#222" stroke-width="0.8"/>
<text transform="translate(408.5,179.13) scale(1,1.1)" font-size="6.2" text-anchor="end">0.2</text>
<line x1="409.3" y1="155.4" x2="410.9" y2="155.4" stroke="#222" stroke-width="0.8"/>
<text transform="translate(408.5,157.63) scale(1,1.1)" font-size="6.2" text-anchor="end">0.4</text>
<line x1="410.9" y1="198.4" x2="493" y2="198.4" stroke="#222" stroke-width="0.8"/>
<line x1="418.5" y1="198.4" x2="418.5" y2="200" stroke="#222" stroke-width="0.8"/>
<text transform="translate(418.5,207.4) scale(1,1.1)" font-size="6.2" text-anchor="middle">6</text>
<line x1="432.9" y1="198.4" x2="432.9" y2="200" stroke="#222" stroke-width="0.8"/>
<text transform="translate(432.9,207.4) scale(1,1.1)" font-size="6.2" text-anchor="middle">14</text>
<line x1="447.3" y1="198.4" x2="447.3" y2="200" stroke="#222" stroke-width="0.8"/>
<text transform="translate(447.3,207.4) scale(1,1.1)" font-size="6.2" text-anchor="middle">22</text>
<line x1="461.7" y1="198.4" x2="461.7" y2="200" stroke="#222" stroke-width="0.8"/>
<text transform="translate(461.7,207.4) scale(1,1.1)" font-size="6.2" text-anchor="middle">30</text>
<line x1="476.1" y1="198.4" x2="476.1" y2="200" stroke="#222" stroke-width="0.8"/>
<text transform="translate(476.1,207.4) scale(1,1.1)" font-size="6.2" text-anchor="middle">38</text>
<line x1="490.5" y1="198.4" x2="490.5" y2="200" stroke="#222" stroke-width="0.8"/>
<text transform="translate(490.5,207.4) scale(1,1.1)" font-size="6.2" text-anchor="middle">46</text>
<line x1="411.3" y1="198.4" x2="411.3" y2="199.6" stroke="#222" stroke-width="0.6"/>
<line x1="425.7" y1="198.4" x2="425.7" y2="199.6" stroke="#222" stroke-width="0.6"/>
<line x1="440.1" y1="198.4" x2="440.1" y2="199.6" stroke="#222" stroke-width="0.6"/>
<line x1="454.5" y1="198.4" x2="454.5" y2="199.6" stroke="#222" stroke-width="0.6"/>
<line x1="468.9" y1="198.4" x2="468.9" y2="199.6" stroke="#222" stroke-width="0.6"/>
<line x1="483.3" y1="198.4" x2="483.3" y2="199.6" stroke="#222" stroke-width="0.6"/>
<text transform="translate(453.95,214.4) scale(1,1.1)" font-size="6.9" text-anchor="middle">ZT (h)</text>
<text transform="translate(452.4,145) scale(1,1.1)" font-size="6.3" text-anchor="middle" font-weight="bold" font-style="italic">CLOCK</text>
<text transform="translate(394.5,177.5) rotate(-90)" font-size="6.6" text-anchor="middle" fill="#222">mRNA level/<tspan font-style="italic">β-Actin</tspan></text>
<path d="M411.3,182.28 C412.5,183.35 416.1,188.46 418.5,188.72 C420.9,188.99 423.3,184.78 425.7,183.89 C428.1,182.99 430.5,186.31 432.9,183.35 C435.3,180.39 437.7,166.24 440.1,166.15 C442.5,166.06 444.9,178.06 447.3,182.81 C449.7,187.56 452.1,192.58 454.5,194.64 C456.9,196.7 459.3,195.26 461.7,195.18 C464.1,195.09 466.5,194.28 468.9,194.1 C471.3,193.92 473.7,194.01 476.1,194.1 C478.5,194.19 480.9,194.28 483.3,194.64 C485.7,195 489.3,195.98 490.5,196.25" fill="none" stroke="#3f51a3" stroke-width="0.9"/>
<path d="M411.3,193.03 C412.5,192.49 416.1,191.41 418.5,189.8 C420.9,188.19 423.3,182.9 425.7,183.35 C428.1,183.8 430.5,191.5 432.9,192.49 C435.3,193.47 437.7,192.22 440.1,189.26 C442.5,186.31 444.9,173.32 447.3,174.75 C449.7,176.18 452.1,194.37 454.5,197.86 C456.9,201.36 459.3,196.34 461.7,195.71 C464.1,195.09 466.5,193.92 468.9,194.1 C471.3,194.28 473.7,196.61 476.1,196.79 C478.5,196.97 480.9,195.98 483.3,195.18 C485.7,194.37 489.3,192.49 490.5,191.95" fill="none" stroke="#111" stroke-width="0.9"/>
<line x1="411.3" y1="179.05" x2="411.3" y2="185.5" stroke="#3f51a3" stroke-width="0.6"/>
<line x1="410.3" y1="179.05" x2="412.3" y2="179.05" stroke="#3f51a3" stroke-width="0.6"/>
<line x1="410.3" y1="185.5" x2="412.3" y2="185.5" stroke="#3f51a3" stroke-width="0.6"/>
<line x1="418.5" y1="187.65" x2="418.5" y2="189.8" stroke="#3f51a3" stroke-width="0.6"/>
<line x1="417.5" y1="187.65" x2="419.5" y2="187.65" stroke="#3f51a3" stroke-width="0.6"/>
<line x1="417.5" y1="189.8" x2="419.5" y2="189.8" stroke="#3f51a3" stroke-width="0.6"/>
<line x1="425.7" y1="182.81" x2="425.7" y2="184.96" stroke="#3f51a3" stroke-width="0.6"/>
<line x1="424.7" y1="182.81" x2="426.7" y2="182.81" stroke="#3f51a3" stroke-width="0.6"/>
<line x1="424.7" y1="184.96" x2="426.7" y2="184.96" stroke="#3f51a3" stroke-width="0.6"/>
<line x1="432.9" y1="182.28" x2="432.9" y2="184.42" stroke="#3f51a3" stroke-width="0.6"/>
<line x1="431.9" y1="182.28" x2="433.9" y2="182.28" stroke="#3f51a3" stroke-width="0.6"/>
<line x1="431.9" y1="184.42" x2="433.9" y2="184.42" stroke="#3f51a3" stroke-width="0.6"/>
<line x1="440.1" y1="157.55" x2="440.1" y2="174.75" stroke="#3f51a3" stroke-width="0.6"/>
<line x1="439.1" y1="157.55" x2="441.1" y2="157.55" stroke="#3f51a3" stroke-width="0.6"/>
<line x1="439.1" y1="174.75" x2="441.1" y2="174.75" stroke="#3f51a3" stroke-width="0.6"/>
<line x1="447.3" y1="180.66" x2="447.3" y2="184.96" stroke="#3f51a3" stroke-width="0.6"/>
<line x1="446.3" y1="180.66" x2="448.3" y2="180.66" stroke="#3f51a3" stroke-width="0.6"/>
<line x1="446.3" y1="184.96" x2="448.3" y2="184.96" stroke="#3f51a3" stroke-width="0.6"/>
<line x1="454.5" y1="193.56" x2="454.5" y2="195.71" stroke="#3f51a3" stroke-width="0.6"/>
<line x1="453.5" y1="193.56" x2="455.5" y2="193.56" stroke="#3f51a3" stroke-width="0.6"/>
<line x1="453.5" y1="195.71" x2="455.5" y2="195.71" stroke="#3f51a3" stroke-width="0.6"/>
<line x1="461.7" y1="194.64" x2="461.7" y2="195.71" stroke="#3f51a3" stroke-width="0.6"/>
<line x1="460.7" y1="194.64" x2="462.7" y2="194.64" stroke="#3f51a3" stroke-width="0.6"/>
<line x1="460.7" y1="195.71" x2="462.7" y2="195.71" stroke="#3f51a3" stroke-width="0.6"/>
<line x1="468.9" y1="193.03" x2="468.9" y2="195.17" stroke="#3f51a3" stroke-width="0.6"/>
<line x1="467.9" y1="193.03" x2="469.9" y2="193.03" stroke="#3f51a3" stroke-width="0.6"/>
<line x1="467.9" y1="195.17" x2="469.9" y2="195.17" stroke="#3f51a3" stroke-width="0.6"/>
<line x1="476.1" y1="193.03" x2="476.1" y2="195.17" stroke="#3f51a3" stroke-width="0.6"/>
<line x1="475.1" y1="193.03" x2="477.1" y2="193.03" stroke="#3f51a3" stroke-width="0.6"/>
<line x1="475.1" y1="195.17" x2="477.1" y2="195.17" stroke="#3f51a3" stroke-width="0.6"/>
<line x1="483.3" y1="193.56" x2="483.3" y2="195.71" stroke="#3f51a3" stroke-width="0.6"/>
<line x1="482.3" y1="193.56" x2="484.3" y2="193.56" stroke="#3f51a3" stroke-width="0.6"/>
<line x1="482.3" y1="195.71" x2="484.3" y2="195.71" stroke="#3f51a3" stroke-width="0.6"/>
<line x1="490.5" y1="195.71" x2="490.5" y2="196.79" stroke="#3f51a3" stroke-width="0.6"/>
<line x1="489.5" y1="195.71" x2="491.5" y2="195.71" stroke="#3f51a3" stroke-width="0.6"/>
<line x1="489.5" y1="196.79" x2="491.5" y2="196.79" stroke="#3f51a3" stroke-width="0.6"/>
<line x1="411.3" y1="192.49" x2="411.3" y2="193.56" stroke="#111" stroke-width="0.6"/>
<line x1="410.3" y1="192.49" x2="412.3" y2="192.49" stroke="#111" stroke-width="0.6"/>
<line x1="410.3" y1="193.56" x2="412.3" y2="193.56" stroke="#111" stroke-width="0.6"/>
<line x1="418.5" y1="188.73" x2="418.5" y2="190.88" stroke="#111" stroke-width="0.6"/>
<line x1="417.5" y1="188.73" x2="419.5" y2="188.73" stroke="#111" stroke-width="0.6"/>
<line x1="417.5" y1="190.88" x2="419.5" y2="190.88" stroke="#111" stroke-width="0.6"/>
<line x1="425.7" y1="182.28" x2="425.7" y2="184.42" stroke="#111" stroke-width="0.6"/>
<line x1="424.7" y1="182.28" x2="426.7" y2="182.28" stroke="#111" stroke-width="0.6"/>
<line x1="424.7" y1="184.42" x2="426.7" y2="184.42" stroke="#111" stroke-width="0.6"/>
<line x1="432.9" y1="191.95" x2="432.9" y2="193.03" stroke="#111" stroke-width="0.6"/>
<line x1="431.9" y1="191.95" x2="433.9" y2="191.95" stroke="#111" stroke-width="0.6"/>
<line x1="431.9" y1="193.03" x2="433.9" y2="193.03" stroke="#111" stroke-width="0.6"/>
<line x1="440.1" y1="188.19" x2="440.1" y2="190.34" stroke="#111" stroke-width="0.6"/>
<line x1="439.1" y1="188.19" x2="441.1" y2="188.19" stroke="#111" stroke-width="0.6"/>
<line x1="439.1" y1="190.34" x2="441.1" y2="190.34" stroke="#111" stroke-width="0.6"/>
<line x1="447.3" y1="172.6" x2="447.3" y2="176.9" stroke="#111" stroke-width="0.6"/>
<line x1="446.3" y1="172.6" x2="448.3" y2="172.6" stroke="#111" stroke-width="0.6"/>
<line x1="446.3" y1="176.9" x2="448.3" y2="176.9" stroke="#111" stroke-width="0.6"/>
<line x1="454.5" y1="197.33" x2="454.5" y2="198.4" stroke="#111" stroke-width="0.6"/>
<line x1="453.5" y1="197.33" x2="455.5" y2="197.33" stroke="#111" stroke-width="0.6"/>
<line x1="453.5" y1="198.4" x2="455.5" y2="198.4" stroke="#111" stroke-width="0.6"/>
<line x1="461.7" y1="195.18" x2="461.7" y2="196.25" stroke="#111" stroke-width="0.6"/>
<line x1="460.7" y1="195.18" x2="462.7" y2="195.18" stroke="#111" stroke-width="0.6"/>
<line x1="460.7" y1="196.25" x2="462.7" y2="196.25" stroke="#111" stroke-width="0.6"/>
<line x1="468.9" y1="193.03" x2="468.9" y2="195.17" stroke="#111" stroke-width="0.6"/>
<line x1="467.9" y1="193.03" x2="469.9" y2="193.03" stroke="#111" stroke-width="0.6"/>
<line x1="467.9" y1="195.17" x2="469.9" y2="195.17" stroke="#111" stroke-width="0.6"/>
<line x1="476.1" y1="196.25" x2="476.1" y2="197.32" stroke="#111" stroke-width="0.6"/>
<line x1="475.1" y1="196.25" x2="477.1" y2="196.25" stroke="#111" stroke-width="0.6"/>
<line x1="475.1" y1="197.32" x2="477.1" y2="197.32" stroke="#111" stroke-width="0.6"/>
<line x1="483.3" y1="194.64" x2="483.3" y2="195.71" stroke="#111" stroke-width="0.6"/>
<line x1="482.3" y1="194.64" x2="484.3" y2="194.64" stroke="#111" stroke-width="0.6"/>
<line x1="482.3" y1="195.71" x2="484.3" y2="195.71" stroke="#111" stroke-width="0.6"/>
<line x1="490.5" y1="191.41" x2="490.5" y2="192.49" stroke="#111" stroke-width="0.6"/>
<line x1="489.5" y1="191.41" x2="491.5" y2="191.41" stroke="#111" stroke-width="0.6"/>
<line x1="489.5" y1="192.49" x2="491.5" y2="192.49" stroke="#111" stroke-width="0.6"/>
<rect x="409.95" y="180.93" width="2.7" height="2.7" fill="#3f51a3"/>
<rect x="417.15" y="187.38" width="2.7" height="2.7" fill="#3f51a3"/>
<rect x="424.35" y="182.54" width="2.7" height="2.7" fill="#3f51a3"/>
<rect x="431.55" y="182" width="2.7" height="2.7" fill="#3f51a3"/>
<rect x="438.75" y="164.8" width="2.7" height="2.7" fill="#3f51a3"/>
<rect x="445.95" y="181.46" width="2.7" height="2.7" fill="#3f51a3"/>
<rect x="453.15" y="193.29" width="2.7" height="2.7" fill="#3f51a3"/>
<rect x="460.35" y="193.83" width="2.7" height="2.7" fill="#3f51a3"/>
<rect x="467.55" y="192.75" width="2.7" height="2.7" fill="#3f51a3"/>
<rect x="474.75" y="192.75" width="2.7" height="2.7" fill="#3f51a3"/>
<rect x="481.95" y="193.29" width="2.7" height="2.7" fill="#3f51a3"/>
<rect x="489.15" y="194.9" width="2.7" height="2.7" fill="#3f51a3"/>
<circle cx="411.3" cy="193.03" r="1.45" fill="#111"/>
<circle cx="418.5" cy="189.8" r="1.45" fill="#111"/>
<circle cx="425.7" cy="183.35" r="1.45" fill="#111"/>
<circle cx="432.9" cy="192.49" r="1.45" fill="#111"/>
<circle cx="440.1" cy="189.26" r="1.45" fill="#111"/>
<circle cx="447.3" cy="174.75" r="1.45" fill="#111"/>
<circle cx="454.5" cy="197.86" r="1.45" fill="#111"/>
<circle cx="461.7" cy="195.71" r="1.45" fill="#111"/>
<circle cx="468.9" cy="194.1" r="1.45" fill="#111"/>
<circle cx="476.1" cy="196.79" r="1.45" fill="#111"/>
<circle cx="483.3" cy="195.18" r="1.45" fill="#111"/>
<circle cx="490.5" cy="191.95" r="1.45" fill="#111"/>
<line x1="482" y1="151" x2="489" y2="151" stroke="#111" stroke-width="0.8"/>
<circle cx="485.5" cy="151" r="1.45" fill="#111"/>
<text transform="translate(491,153.3) scale(1,1.1)" font-size="6.3">Control</text>
<line x1="482" y1="157.8" x2="489" y2="157.8" stroke="#3f51a3" stroke-width="0.8"/>
<rect x="484.15" y="156.45" width="2.7" height="2.7" fill="#3f51a3"/>
<text transform="translate(491,160.1) scale(1,1.1)" font-size="6.3">MET</text>
<line x1="301.25" y1="229.5" x2="301.25" y2="273" stroke="#222" stroke-width="0.8"/>
<line x1="299.65" y1="273" x2="301.25" y2="273" stroke="#222" stroke-width="0.8"/>
<text transform="translate(298.85,275.23) scale(1,1.1)" font-size="6.2" text-anchor="end">0.000</text>
<line x1="299.65" y1="251.9" x2="301.25" y2="251.9" stroke="#222" stroke-width="0.8"/>
<text transform="translate(298.85,254.13) scale(1,1.1)" font-size="6.2" text-anchor="end">0.010</text>
<line x1="299.65" y1="230.8" x2="301.25" y2="230.8" stroke="#222" stroke-width="0.8"/>
<text transform="translate(298.85,233.03) scale(1,1.1)" font-size="6.2" text-anchor="end">0.020</text>
<line x1="301.25" y1="273" x2="381.5" y2="273" stroke="#222" stroke-width="0.8"/>
<line x1="308" y1="273" x2="308" y2="274.6" stroke="#222" stroke-width="0.8"/>
<text transform="translate(308,282) scale(1,1.1)" font-size="6.2" text-anchor="middle">6</text>
<line x1="322.3" y1="273" x2="322.3" y2="274.6" stroke="#222" stroke-width="0.8"/>
<text transform="translate(322.3,282) scale(1,1.1)" font-size="6.2" text-anchor="middle">14</text>
<line x1="336.6" y1="273" x2="336.6" y2="274.6" stroke="#222" stroke-width="0.8"/>
<text transform="translate(336.6,282) scale(1,1.1)" font-size="6.2" text-anchor="middle">22</text>
<line x1="350.9" y1="273" x2="350.9" y2="274.6" stroke="#222" stroke-width="0.8"/>
<text transform="translate(350.9,282) scale(1,1.1)" font-size="6.2" text-anchor="middle">30</text>
<line x1="365.2" y1="273" x2="365.2" y2="274.6" stroke="#222" stroke-width="0.8"/>
<text transform="translate(365.2,282) scale(1,1.1)" font-size="6.2" text-anchor="middle">38</text>
<line x1="379.5" y1="273" x2="379.5" y2="274.6" stroke="#222" stroke-width="0.8"/>
<text transform="translate(379.5,282) scale(1,1.1)" font-size="6.2" text-anchor="middle">46</text>
<line x1="300.85" y1="273" x2="300.85" y2="274.2" stroke="#222" stroke-width="0.6"/>
<line x1="315.15" y1="273" x2="315.15" y2="274.2" stroke="#222" stroke-width="0.6"/>
<line x1="329.45" y1="273" x2="329.45" y2="274.2" stroke="#222" stroke-width="0.6"/>
<line x1="343.75" y1="273" x2="343.75" y2="274.2" stroke="#222" stroke-width="0.6"/>
<line x1="358.05" y1="273" x2="358.05" y2="274.2" stroke="#222" stroke-width="0.6"/>
<line x1="372.35" y1="273" x2="372.35" y2="274.2" stroke="#222" stroke-width="0.6"/>
<text transform="translate(343.38,289) scale(1,1.1)" font-size="6.9" text-anchor="middle">ZT (h)</text>
<text transform="translate(338.75,227) scale(1,1.1)" font-size="6.3" text-anchor="middle" font-weight="bold" font-style="italic">PER1</text>
<text transform="translate(277.7,245.5) rotate(-90)" font-size="6.6" text-anchor="middle" fill="#222">mRNA level/<tspan font-style="italic">β-Actin</tspan></text>
<path d="M300.85,249.79 C302.04,251.37 305.62,257.18 308,259.29 C310.38,261.4 312.77,264.03 315.15,262.45 C317.53,260.87 319.92,252.08 322.3,249.79 C324.68,247.5 327.07,249.26 329.45,248.74 C331.83,248.21 334.22,245.22 336.6,246.62 C338.98,248.03 341.37,254.71 343.75,257.18 C346.13,259.64 348.52,260.34 350.9,261.39 C353.28,262.45 355.67,264.03 358.05,263.5 C360.43,262.98 362.82,259.29 365.2,258.23 C367.58,257.18 369.97,257 372.35,257.18 C374.73,257.35 378.31,258.93 379.5,259.29" fill="none" stroke="#3f51a3" stroke-width="0.9"/>
<path d="M300.85,262.45 C302.04,258.58 305.62,239.06 308,239.24 C310.38,239.42 312.77,259.11 315.15,263.5 C317.53,267.9 319.92,265.44 322.3,265.62 C324.68,265.79 327.07,265.97 329.45,264.56 C331.83,263.15 334.22,257.88 336.6,257.18 C338.98,256.47 341.37,262.98 343.75,260.34 C346.13,257.7 348.52,241 350.9,241.35 C353.28,241.7 355.67,259.11 358.05,262.45 C360.43,265.79 362.82,261.04 365.2,261.39 C367.58,261.75 369.97,264.74 372.35,264.56 C374.73,264.38 378.31,261.04 379.5,260.34" fill="none" stroke="#111" stroke-width="0.9"/>
<line x1="300.85" y1="245.57" x2="300.85" y2="254.01" stroke="#3f51a3" stroke-width="0.6"/>
<line x1="299.85" y1="245.57" x2="301.85" y2="245.57" stroke="#3f51a3" stroke-width="0.6"/>
<line x1="299.85" y1="254.01" x2="301.85" y2="254.01" stroke="#3f51a3" stroke-width="0.6"/>
<line x1="308" y1="258.23" x2="308" y2="260.34" stroke="#3f51a3" stroke-width="0.6"/>
<line x1="307" y1="258.23" x2="309" y2="258.23" stroke="#3f51a3" stroke-width="0.6"/>
<line x1="307" y1="260.34" x2="309" y2="260.34" stroke="#3f51a3" stroke-width="0.6"/>
<line x1="315.15" y1="261.39" x2="315.15" y2="263.5" stroke="#3f51a3" stroke-width="0.6"/>
<line x1="314.15" y1="261.39" x2="316.15" y2="261.39" stroke="#3f51a3" stroke-width="0.6"/>
<line x1="314.15" y1="263.5" x2="316.15" y2="263.5" stroke="#3f51a3" stroke-width="0.6"/>
<line x1="322.3" y1="246.62" x2="322.3" y2="252.95" stroke="#3f51a3" stroke-width="0.6"/>
<line x1="321.3" y1="246.62" x2="323.3" y2="246.62" stroke="#3f51a3" stroke-width="0.6"/>
<line x1="321.3" y1="252.95" x2="323.3" y2="252.95" stroke="#3f51a3" stroke-width="0.6"/>
<line x1="329.45" y1="247.68" x2="329.45" y2="249.79" stroke="#3f51a3" stroke-width="0.6"/>
<line x1="328.45" y1="247.68" x2="330.45" y2="247.68" stroke="#3f51a3" stroke-width="0.6"/>
<line x1="328.45" y1="249.79" x2="330.45" y2="249.79" stroke="#3f51a3" stroke-width="0.6"/>
<line x1="336.6" y1="245.57" x2="336.6" y2="247.68" stroke="#3f51a3" stroke-width="0.6"/>
<line x1="335.6" y1="245.57" x2="337.6" y2="245.57" stroke="#3f51a3" stroke-width="0.6"/>
<line x1="335.6" y1="247.68" x2="337.6" y2="247.68" stroke="#3f51a3" stroke-width="0.6"/>
<line x1="343.75" y1="254.01" x2="343.75" y2="260.34" stroke="#3f51a3" stroke-width="0.6"/>
<line x1="342.75" y1="254.01" x2="344.75" y2="254.01" stroke="#3f51a3" stroke-width="0.6"/>
<line x1="342.75" y1="260.34" x2="344.75" y2="260.34" stroke="#3f51a3" stroke-width="0.6"/>
<line x1="350.9" y1="260.34" x2="350.9" y2="262.45" stroke="#3f51a3" stroke-width="0.6"/>
<line x1="349.9" y1="260.34" x2="351.9" y2="260.34" stroke="#3f51a3" stroke-width="0.6"/>
<line x1="349.9" y1="262.45" x2="351.9" y2="262.45" stroke="#3f51a3" stroke-width="0.6"/>
<line x1="358.05" y1="262.45" x2="358.05" y2="264.56" stroke="#3f51a3" stroke-width="0.6"/>
<line x1="357.05" y1="262.45" x2="359.05" y2="262.45" stroke="#3f51a3" stroke-width="0.6"/>
<line x1="357.05" y1="264.56" x2="359.05" y2="264.56" stroke="#3f51a3" stroke-width="0.6"/>
<line x1="365.2" y1="256.54" x2="365.2" y2="259.92" stroke="#3f51a3" stroke-width="0.6"/>
<line x1="364.2" y1="256.54" x2="366.2" y2="256.54" stroke="#3f51a3" stroke-width="0.6"/>
<line x1="364.2" y1="259.92" x2="366.2" y2="259.92" stroke="#3f51a3" stroke-width="0.6"/>
<line x1="372.35" y1="254.01" x2="372.35" y2="260.34" stroke="#3f51a3" stroke-width="0.6"/>
<line x1="371.35" y1="254.01" x2="373.35" y2="254.01" stroke="#3f51a3" stroke-width="0.6"/>
<line x1="371.35" y1="260.34" x2="373.35" y2="260.34" stroke="#3f51a3" stroke-width="0.6"/>
<line x1="379.5" y1="258.23" x2="379.5" y2="260.34" stroke="#3f51a3" stroke-width="0.6"/>
<line x1="378.5" y1="258.23" x2="380.5" y2="258.23" stroke="#3f51a3" stroke-width="0.6"/>
<line x1="378.5" y1="260.34" x2="380.5" y2="260.34" stroke="#3f51a3" stroke-width="0.6"/>
<line x1="300.85" y1="260.34" x2="300.85" y2="264.56" stroke="#111" stroke-width="0.6"/>
<line x1="299.85" y1="260.34" x2="301.85" y2="260.34" stroke="#111" stroke-width="0.6"/>
<line x1="299.85" y1="264.56" x2="301.85" y2="264.56" stroke="#111" stroke-width="0.6"/>
<line x1="308" y1="232.91" x2="308" y2="245.57" stroke="#111" stroke-width="0.6"/>
<line x1="307" y1="232.91" x2="309" y2="232.91" stroke="#111" stroke-width="0.6"/>
<line x1="307" y1="245.57" x2="309" y2="245.57" stroke="#111" stroke-width="0.6"/>
<line x1="315.15" y1="262.45" x2="315.15" y2="264.56" stroke="#111" stroke-width="0.6"/>
<line x1="314.15" y1="262.45" x2="316.15" y2="262.45" stroke="#111" stroke-width="0.6"/>
<line x1="314.15" y1="264.56" x2="316.15" y2="264.56" stroke="#111" stroke-width="0.6"/>
<line x1="322.3" y1="264.98" x2="322.3" y2="266.25" stroke="#111" stroke-width="0.6"/>
<line x1="321.3" y1="264.98" x2="323.3" y2="264.98" stroke="#111" stroke-width="0.6"/>
<line x1="321.3" y1="266.25" x2="323.3" y2="266.25" stroke="#111" stroke-width="0.6"/>
<line x1="329.45" y1="262.87" x2="329.45" y2="266.25" stroke="#111" stroke-width="0.6"/>
<line x1="328.45" y1="262.87" x2="330.45" y2="262.87" stroke="#111" stroke-width="0.6"/>
<line x1="328.45" y1="266.25" x2="330.45" y2="266.25" stroke="#111" stroke-width="0.6"/>
<line x1="336.6" y1="256.12" x2="336.6" y2="258.23" stroke="#111" stroke-width="0.6"/>
<line x1="335.6" y1="256.12" x2="337.6" y2="256.12" stroke="#111" stroke-width="0.6"/>
<line x1="335.6" y1="258.23" x2="337.6" y2="258.23" stroke="#111" stroke-width="0.6"/>
<line x1="343.75" y1="259.28" x2="343.75" y2="261.39" stroke="#111" stroke-width="0.6"/>
<line x1="342.75" y1="259.28" x2="344.75" y2="259.28" stroke="#111" stroke-width="0.6"/>
<line x1="342.75" y1="261.39" x2="344.75" y2="261.39" stroke="#111" stroke-width="0.6"/>
<line x1="350.9" y1="240.29" x2="350.9" y2="242.41" stroke="#111" stroke-width="0.6"/>
<line x1="349.9" y1="240.29" x2="351.9" y2="240.29" stroke="#111" stroke-width="0.6"/>
<line x1="349.9" y1="242.41" x2="351.9" y2="242.41" stroke="#111" stroke-width="0.6"/>
<line x1="358.05" y1="261.39" x2="358.05" y2="263.5" stroke="#111" stroke-width="0.6"/>
<line x1="357.05" y1="261.39" x2="359.05" y2="261.39" stroke="#111" stroke-width="0.6"/>
<line x1="357.05" y1="263.5" x2="359.05" y2="263.5" stroke="#111" stroke-width="0.6"/>
<line x1="365.2" y1="260.34" x2="365.2" y2="262.45" stroke="#111" stroke-width="0.6"/>
<line x1="364.2" y1="260.34" x2="366.2" y2="260.34" stroke="#111" stroke-width="0.6"/>
<line x1="364.2" y1="262.45" x2="366.2" y2="262.45" stroke="#111" stroke-width="0.6"/>
<line x1="372.35" y1="263.93" x2="372.35" y2="265.19" stroke="#111" stroke-width="0.6"/>
<line x1="371.35" y1="263.93" x2="373.35" y2="263.93" stroke="#111" stroke-width="0.6"/>
<line x1="371.35" y1="265.19" x2="373.35" y2="265.19" stroke="#111" stroke-width="0.6"/>
<line x1="379.5" y1="259.28" x2="379.5" y2="261.39" stroke="#111" stroke-width="0.6"/>
<line x1="378.5" y1="259.28" x2="380.5" y2="259.28" stroke="#111" stroke-width="0.6"/>
<line x1="378.5" y1="261.39" x2="380.5" y2="261.39" stroke="#111" stroke-width="0.6"/>
<rect x="299.5" y="248.44" width="2.7" height="2.7" fill="#3f51a3"/>
<rect x="306.65" y="257.94" width="2.7" height="2.7" fill="#3f51a3"/>
<rect x="313.8" y="261.1" width="2.7" height="2.7" fill="#3f51a3"/>
<rect x="320.95" y="248.44" width="2.7" height="2.7" fill="#3f51a3"/>
<rect x="328.1" y="247.39" width="2.7" height="2.7" fill="#3f51a3"/>
<rect x="335.25" y="245.28" width="2.7" height="2.7" fill="#3f51a3"/>
<rect x="342.4" y="255.83" width="2.7" height="2.7" fill="#3f51a3"/>
<rect x="349.55" y="260.04" width="2.7" height="2.7" fill="#3f51a3"/>
<rect x="356.7" y="262.15" width="2.7" height="2.7" fill="#3f51a3"/>
<rect x="363.85" y="256.88" width="2.7" height="2.7" fill="#3f51a3"/>
<rect x="371" y="255.83" width="2.7" height="2.7" fill="#3f51a3"/>
<rect x="378.15" y="257.94" width="2.7" height="2.7" fill="#3f51a3"/>
<circle cx="300.85" cy="262.45" r="1.45" fill="#111"/>
<circle cx="308" cy="239.24" r="1.45" fill="#111"/>
<circle cx="315.15" cy="263.5" r="1.45" fill="#111"/>
<circle cx="322.3" cy="265.62" r="1.45" fill="#111"/>
<circle cx="329.45" cy="264.56" r="1.45" fill="#111"/>
<circle cx="336.6" cy="257.18" r="1.45" fill="#111"/>
<circle cx="343.75" cy="260.34" r="1.45" fill="#111"/>
<circle cx="350.9" cy="241.35" r="1.45" fill="#111"/>
<circle cx="358.05" cy="262.45" r="1.45" fill="#111"/>
<circle cx="365.2" cy="261.39" r="1.45" fill="#111"/>
<circle cx="372.35" cy="264.56" r="1.45" fill="#111"/>
<circle cx="379.5" cy="260.34" r="1.45" fill="#111"/>
<line x1="409.5" y1="218.5" x2="409.5" y2="272.5" stroke="#222" stroke-width="0.8"/>
<line x1="407.9" y1="272.5" x2="409.5" y2="272.5" stroke="#222" stroke-width="0.8"/>
<text transform="translate(407.1,274.73) scale(1,1.1)" font-size="6.2" text-anchor="end">0.00</text>
<line x1="407.9" y1="254.84" x2="409.5" y2="254.84" stroke="#222" stroke-width="0.8"/>
<text transform="translate(407.1,257.07) scale(1,1.1)" font-size="6.2" text-anchor="end">0.02</text>
<line x1="407.9" y1="237.18" x2="409.5" y2="237.18" stroke="#222" stroke-width="0.8"/>
<text transform="translate(407.1,239.41) scale(1,1.1)" font-size="6.2" text-anchor="end">0.04</text>
<line x1="407.9" y1="219.52" x2="409.5" y2="219.52" stroke="#222" stroke-width="0.8"/>
<text transform="translate(407.1,221.75) scale(1,1.1)" font-size="6.2" text-anchor="end">0.06</text>
<line x1="409.5" y1="272.5" x2="492" y2="272.5" stroke="#222" stroke-width="0.8"/>
<line x1="418.28" y1="272.5" x2="418.28" y2="274.1" stroke="#222" stroke-width="0.8"/>
<text transform="translate(418.28,281.5) scale(1,1.1)" font-size="6.2" text-anchor="middle">6</text>
<line x1="432.43" y1="272.5" x2="432.43" y2="274.1" stroke="#222" stroke-width="0.8"/>
<text transform="translate(432.43,281.5) scale(1,1.1)" font-size="6.2" text-anchor="middle">14</text>
<line x1="446.58" y1="272.5" x2="446.58" y2="274.1" stroke="#222" stroke-width="0.8"/>
<text transform="translate(446.58,281.5) scale(1,1.1)" font-size="6.2" text-anchor="middle">22</text>
<line x1="460.73" y1="272.5" x2="460.73" y2="274.1" stroke="#222" stroke-width="0.8"/>
<text transform="translate(460.73,281.5) scale(1,1.1)" font-size="6.2" text-anchor="middle">30</text>
<line x1="474.88" y1="272.5" x2="474.88" y2="274.1" stroke="#222" stroke-width="0.8"/>
<text transform="translate(474.88,281.5) scale(1,1.1)" font-size="6.2" text-anchor="middle">38</text>
<line x1="489.04" y1="272.5" x2="489.04" y2="274.1" stroke="#222" stroke-width="0.8"/>
<text transform="translate(489.04,281.5) scale(1,1.1)" font-size="6.2" text-anchor="middle">46</text>
<line x1="411.2" y1="272.5" x2="411.2" y2="273.7" stroke="#222" stroke-width="0.6"/>
<line x1="425.35" y1="272.5" x2="425.35" y2="273.7" stroke="#222" stroke-width="0.6"/>
<line x1="439.5" y1="272.5" x2="439.5" y2="273.7" stroke="#222" stroke-width="0.6"/>
<line x1="453.66" y1="272.5" x2="453.66" y2="273.7" stroke="#222" stroke-width="0.6"/>
<line x1="467.81" y1="272.5" x2="467.81" y2="273.7" stroke="#222" stroke-width="0.6"/>
<line x1="481.96" y1="272.5" x2="481.96" y2="273.7" stroke="#222" stroke-width="0.6"/>
<text transform="translate(452.75,288.5) scale(1,1.1)" font-size="6.9" text-anchor="middle">ZT (h)</text>
<text transform="translate(451,227.2) scale(1,1.1)" font-size="6.3" text-anchor="middle" font-weight="bold" font-style="italic">PER2</text>
<text transform="translate(394.5,245.5) rotate(-90)" font-size="6.6" text-anchor="middle" fill="#222">mRNA level/<tspan font-style="italic">β-Actin</tspan></text>
<path d="M411.2,244.24 C412.38,246.6 415.92,257.64 418.28,258.37 C420.63,259.11 422.99,253.22 425.35,248.66 C427.71,244.1 430.07,231.59 432.43,231 C434.79,230.41 437.15,242.48 439.5,245.13 C441.86,247.78 444.22,244.69 446.58,246.89 C448.94,249.1 451.3,256.46 453.66,258.37 C456.01,260.29 458.37,258.67 460.73,258.37 C463.09,258.08 465.45,256.9 467.81,256.61 C470.17,256.31 472.53,256.61 474.88,256.61 C477.24,256.61 479.6,256.16 481.96,256.61 C484.32,257.05 487.86,258.81 489.04,259.25" fill="none" stroke="#3f51a3" stroke-width="0.9"/>
<path d="M411.2,261.02 C412.38,259.99 415.92,255.58 418.28,254.84 C420.63,254.1 422.99,256.02 425.35,256.61 C427.71,257.19 430.07,258.67 432.43,258.37 C434.79,258.08 437.15,258.08 439.5,254.84 C441.86,251.6 444.22,237.18 446.58,238.95 C448.94,240.71 451.3,262.05 453.66,265.44 C456.01,268.82 458.37,259.99 460.73,259.25 C463.09,258.52 465.45,260.58 467.81,261.02 C470.17,261.46 472.53,263.96 474.88,261.9 C477.24,259.84 479.6,249.84 481.96,248.66 C484.32,247.48 487.86,253.81 489.04,254.84" fill="none" stroke="#111" stroke-width="0.9"/>
<line x1="411.2" y1="242.48" x2="411.2" y2="246.01" stroke="#3f51a3" stroke-width="0.6"/>
<line x1="410.2" y1="242.48" x2="412.2" y2="242.48" stroke="#3f51a3" stroke-width="0.6"/>
<line x1="410.2" y1="246.01" x2="412.2" y2="246.01" stroke="#3f51a3" stroke-width="0.6"/>
<line x1="418.28" y1="257.49" x2="418.28" y2="259.25" stroke="#3f51a3" stroke-width="0.6"/>
<line x1="417.28" y1="257.49" x2="419.28" y2="257.49" stroke="#3f51a3" stroke-width="0.6"/>
<line x1="417.28" y1="259.25" x2="419.28" y2="259.25" stroke="#3f51a3" stroke-width="0.6"/>
<line x1="425.35" y1="246.89" x2="425.35" y2="250.42" stroke="#3f51a3" stroke-width="0.6"/>
<line x1="424.35" y1="246.89" x2="426.35" y2="246.89" stroke="#3f51a3" stroke-width="0.6"/>
<line x1="424.35" y1="250.42" x2="426.35" y2="250.42" stroke="#3f51a3" stroke-width="0.6"/>
<line x1="432.43" y1="230.12" x2="432.43" y2="231.88" stroke="#3f51a3" stroke-width="0.6"/>
<line x1="431.43" y1="230.12" x2="433.43" y2="230.12" stroke="#3f51a3" stroke-width="0.6"/>
<line x1="431.43" y1="231.88" x2="433.43" y2="231.88" stroke="#3f51a3" stroke-width="0.6"/>
<line x1="439.5" y1="238.06" x2="439.5" y2="252.19" stroke="#3f51a3" stroke-width="0.6"/>
<line x1="438.5" y1="238.06" x2="440.5" y2="238.06" stroke="#3f51a3" stroke-width="0.6"/>
<line x1="438.5" y1="252.19" x2="440.5" y2="252.19" stroke="#3f51a3" stroke-width="0.6"/>
<line x1="446.58" y1="244.24" x2="446.58" y2="249.54" stroke="#3f51a3" stroke-width="0.6"/>
<line x1="445.58" y1="244.24" x2="447.58" y2="244.24" stroke="#3f51a3" stroke-width="0.6"/>
<line x1="445.58" y1="249.54" x2="447.58" y2="249.54" stroke="#3f51a3" stroke-width="0.6"/>
<line x1="453.66" y1="256.61" x2="453.66" y2="260.14" stroke="#3f51a3" stroke-width="0.6"/>
<line x1="452.66" y1="256.61" x2="454.66" y2="256.61" stroke="#3f51a3" stroke-width="0.6"/>
<line x1="452.66" y1="260.14" x2="454.66" y2="260.14" stroke="#3f51a3" stroke-width="0.6"/>
<line x1="460.73" y1="257.49" x2="460.73" y2="259.25" stroke="#3f51a3" stroke-width="0.6"/>
<line x1="459.73" y1="257.49" x2="461.73" y2="257.49" stroke="#3f51a3" stroke-width="0.6"/>
<line x1="459.73" y1="259.25" x2="461.73" y2="259.25" stroke="#3f51a3" stroke-width="0.6"/>
<line x1="467.81" y1="253.07" x2="467.81" y2="260.14" stroke="#3f51a3" stroke-width="0.6"/>
<line x1="466.81" y1="253.07" x2="468.81" y2="253.07" stroke="#3f51a3" stroke-width="0.6"/>
<line x1="466.81" y1="260.14" x2="468.81" y2="260.14" stroke="#3f51a3" stroke-width="0.6"/>
<line x1="474.88" y1="253.07" x2="474.88" y2="260.14" stroke="#3f51a3" stroke-width="0.6"/>
<line x1="473.88" y1="253.07" x2="475.88" y2="253.07" stroke="#3f51a3" stroke-width="0.6"/>
<line x1="473.88" y1="260.14" x2="475.88" y2="260.14" stroke="#3f51a3" stroke-width="0.6"/>
<line x1="481.96" y1="254.84" x2="481.96" y2="258.37" stroke="#3f51a3" stroke-width="0.6"/>
<line x1="480.96" y1="254.84" x2="482.96" y2="254.84" stroke="#3f51a3" stroke-width="0.6"/>
<line x1="480.96" y1="258.37" x2="482.96" y2="258.37" stroke="#3f51a3" stroke-width="0.6"/>
<line x1="489.04" y1="258.37" x2="489.04" y2="260.14" stroke="#3f51a3" stroke-width="0.6"/>
<line x1="488.04" y1="258.37" x2="490.04" y2="258.37" stroke="#3f51a3" stroke-width="0.6"/>
<line x1="488.04" y1="260.14" x2="490.04" y2="260.14" stroke="#3f51a3" stroke-width="0.6"/>
<line x1="411.2" y1="260.14" x2="411.2" y2="261.9" stroke="#111" stroke-width="0.6"/>
<line x1="410.2" y1="260.14" x2="412.2" y2="260.14" stroke="#111" stroke-width="0.6"/>
<line x1="410.2" y1="261.9" x2="412.2" y2="261.9" stroke="#111" stroke-width="0.6"/>
<line x1="418.28" y1="253.96" x2="418.28" y2="255.72" stroke="#111" stroke-width="0.6"/>
<line x1="417.28" y1="253.96" x2="419.28" y2="253.96" stroke="#111" stroke-width="0.6"/>
<line x1="417.28" y1="255.72" x2="419.28" y2="255.72" stroke="#111" stroke-width="0.6"/>
<line x1="425.35" y1="254.84" x2="425.35" y2="258.37" stroke="#111" stroke-width="0.6"/>
<line x1="424.35" y1="254.84" x2="426.35" y2="254.84" stroke="#111" stroke-width="0.6"/>
<line x1="424.35" y1="258.37" x2="426.35" y2="258.37" stroke="#111" stroke-width="0.6"/>
<line x1="432.43" y1="257.49" x2="432.43" y2="259.25" stroke="#111" stroke-width="0.6"/>
<line x1="431.43" y1="257.49" x2="433.43" y2="257.49" stroke="#111" stroke-width="0.6"/>
<line x1="431.43" y1="259.25" x2="433.43" y2="259.25" stroke="#111" stroke-width="0.6"/>
<line x1="439.5" y1="253.96" x2="439.5" y2="255.72" stroke="#111" stroke-width="0.6"/>
<line x1="438.5" y1="253.96" x2="440.5" y2="253.96" stroke="#111" stroke-width="0.6"/>
<line x1="438.5" y1="255.72" x2="440.5" y2="255.72" stroke="#111" stroke-width="0.6"/>
<line x1="446.58" y1="236.3" x2="446.58" y2="241.59" stroke="#111" stroke-width="0.6"/>
<line x1="445.58" y1="236.3" x2="447.58" y2="236.3" stroke="#111" stroke-width="0.6"/>
<line x1="445.58" y1="241.59" x2="447.58" y2="241.59" stroke="#111" stroke-width="0.6"/>
<line x1="453.66" y1="264.55" x2="453.66" y2="266.32" stroke="#111" stroke-width="0.6"/>
<line x1="452.66" y1="264.55" x2="454.66" y2="264.55" stroke="#111" stroke-width="0.6"/>
<line x1="452.66" y1="266.32" x2="454.66" y2="266.32" stroke="#111" stroke-width="0.6"/>
<line x1="460.73" y1="258.37" x2="460.73" y2="260.14" stroke="#111" stroke-width="0.6"/>
<line x1="459.73" y1="258.37" x2="461.73" y2="258.37" stroke="#111" stroke-width="0.6"/>
<line x1="459.73" y1="260.14" x2="461.73" y2="260.14" stroke="#111" stroke-width="0.6"/>
<line x1="467.81" y1="260.14" x2="467.81" y2="261.9" stroke="#111" stroke-width="0.6"/>
<line x1="466.81" y1="260.14" x2="468.81" y2="260.14" stroke="#111" stroke-width="0.6"/>
<line x1="466.81" y1="261.9" x2="468.81" y2="261.9" stroke="#111" stroke-width="0.6"/>
<line x1="474.88" y1="261.02" x2="474.88" y2="262.79" stroke="#111" stroke-width="0.6"/>
<line x1="473.88" y1="261.02" x2="475.88" y2="261.02" stroke="#111" stroke-width="0.6"/>
<line x1="473.88" y1="262.79" x2="475.88" y2="262.79" stroke="#111" stroke-width="0.6"/>
<line x1="481.96" y1="246.89" x2="481.96" y2="250.42" stroke="#111" stroke-width="0.6"/>
<line x1="480.96" y1="246.89" x2="482.96" y2="246.89" stroke="#111" stroke-width="0.6"/>
<line x1="480.96" y1="250.42" x2="482.96" y2="250.42" stroke="#111" stroke-width="0.6"/>
<line x1="489.04" y1="253.96" x2="489.04" y2="255.72" stroke="#111" stroke-width="0.6"/>
<line x1="488.04" y1="253.96" x2="490.04" y2="253.96" stroke="#111" stroke-width="0.6"/>
<line x1="488.04" y1="255.72" x2="490.04" y2="255.72" stroke="#111" stroke-width="0.6"/>
<rect x="409.85" y="242.89" width="2.7" height="2.7" fill="#3f51a3"/>
<rect x="416.93" y="257.02" width="2.7" height="2.7" fill="#3f51a3"/>
<rect x="424" y="247.31" width="2.7" height="2.7" fill="#3f51a3"/>
<rect x="431.08" y="229.65" width="2.7" height="2.7" fill="#3f51a3"/>
<rect x="438.15" y="243.78" width="2.7" height="2.7" fill="#3f51a3"/>
<rect x="445.23" y="245.54" width="2.7" height="2.7" fill="#3f51a3"/>
<rect x="452.31" y="257.02" width="2.7" height="2.7" fill="#3f51a3"/>
<rect x="459.38" y="257.02" width="2.7" height="2.7" fill="#3f51a3"/>
<rect x="466.46" y="255.26" width="2.7" height="2.7" fill="#3f51a3"/>
<rect x="473.53" y="255.26" width="2.7" height="2.7" fill="#3f51a3"/>
<rect x="480.61" y="255.26" width="2.7" height="2.7" fill="#3f51a3"/>
<rect x="487.69" y="257.9" width="2.7" height="2.7" fill="#3f51a3"/>
<circle cx="411.2" cy="261.02" r="1.45" fill="#111"/>
<circle cx="418.28" cy="254.84" r="1.45" fill="#111"/>
<circle cx="425.35" cy="256.61" r="1.45" fill="#111"/>
<circle cx="432.43" cy="258.37" r="1.45" fill="#111"/>
<circle cx="439.5" cy="254.84" r="1.45" fill="#111"/>
<circle cx="446.58" cy="238.95" r="1.45" fill="#111"/>
<circle cx="453.66" cy="265.44" r="1.45" fill="#111"/>
<circle cx="460.73" cy="259.25" r="1.45" fill="#111"/>
<circle cx="467.81" cy="261.02" r="1.45" fill="#111"/>
<circle cx="474.88" cy="261.9" r="1.45" fill="#111"/>
<circle cx="481.96" cy="248.66" r="1.45" fill="#111"/>
<circle cx="489.04" cy="254.84" r="1.45" fill="#111"/>
<text transform="translate(1.8,318.8) scale(1,1.1)" font-size="13.3" font-weight="bold" fill="#000">E</text>
<line x1="31.5" y1="340.8" x2="31.5" y2="418.8" stroke="#222" stroke-width="0.8"/>
<line x1="29.9" y1="418.8" x2="31.5" y2="418.8" stroke="#222" stroke-width="0.8"/>
<text transform="translate(29.1,421.03) scale(1,1.1)" font-size="6.2" text-anchor="end">0</text>
<line x1="29.9" y1="399.3" x2="31.5" y2="399.3" stroke="#222" stroke-width="0.8"/>
<text transform="translate(29.1,401.53) scale(1,1.1)" font-size="6.2" text-anchor="end">200</text>
<line x1="29.9" y1="379.8" x2="31.5" y2="379.8" stroke="#222" stroke-width="0.8"/>
<text transform="translate(29.1,382.03) scale(1,1.1)" font-size="6.2" text-anchor="end">400</text>
<line x1="29.9" y1="360.3" x2="31.5" y2="360.3" stroke="#222" stroke-width="0.8"/>
<text transform="translate(29.1,362.53) scale(1,1.1)" font-size="6.2" text-anchor="end">600</text>
<line x1="29.9" y1="340.8" x2="31.5" y2="340.8" stroke="#222" stroke-width="0.8"/>
<text transform="translate(29.1,343.03) scale(1,1.1)" font-size="6.2" text-anchor="end">800</text>
<line x1="31.5" y1="418.8" x2="133" y2="418.8" stroke="#222" stroke-width="0.8"/>
<line x1="47.3" y1="418.8" x2="47.3" y2="420.4" stroke="#222" stroke-width="0.8"/>
<text transform="translate(47.3,428) scale(1,1.1)" font-size="6.4" text-anchor="middle" letter-spacing="-0.25">10</text>
<line x1="55.54" y1="418.8" x2="55.54" y2="420.4" stroke="#222" stroke-width="0.8"/>
<text transform="translate(55.54,428) scale(1,1.1)" font-size="6.4" text-anchor="middle" letter-spacing="-0.25">13</text>
<line x1="63.78" y1="418.8" x2="63.78" y2="420.4" stroke="#222" stroke-width="0.8"/>
<text transform="translate(63.78,428) scale(1,1.1)" font-size="6.4" text-anchor="middle" letter-spacing="-0.25">16</text>
<line x1="72.02" y1="418.8" x2="72.02" y2="420.4" stroke="#222" stroke-width="0.8"/>
<text transform="translate(72.02,428) scale(1,1.1)" font-size="6.4" text-anchor="middle" letter-spacing="-0.25">19</text>
<line x1="80.26" y1="418.8" x2="80.26" y2="420.4" stroke="#222" stroke-width="0.8"/>
<text transform="translate(80.26,428) scale(1,1.1)" font-size="6.4" text-anchor="middle" letter-spacing="-0.25">22</text>
<line x1="88.5" y1="418.8" x2="88.5" y2="420.4" stroke="#222" stroke-width="0.8"/>
<text transform="translate(88.5,428) scale(1,1.1)" font-size="6.4" text-anchor="middle" letter-spacing="-0.25">25</text>
<line x1="96.74" y1="418.8" x2="96.74" y2="420.4" stroke="#222" stroke-width="0.8"/>
<text transform="translate(96.74,428) scale(1,1.1)" font-size="6.4" text-anchor="middle" letter-spacing="-0.25">28</text>
<line x1="104.98" y1="418.8" x2="104.98" y2="420.4" stroke="#222" stroke-width="0.8"/>
<text transform="translate(104.98,428) scale(1,1.1)" font-size="6.4" text-anchor="middle" letter-spacing="-0.25">31</text>
<line x1="113.22" y1="418.8" x2="113.22" y2="420.4" stroke="#222" stroke-width="0.8"/>
<text transform="translate(113.22,428) scale(1,1.1)" font-size="6.4" text-anchor="middle" letter-spacing="-0.25">34</text>
<line x1="121.46" y1="418.8" x2="121.46" y2="420.4" stroke="#222" stroke-width="0.8"/>
<text transform="translate(121.46,428) scale(1,1.1)" font-size="6.4" text-anchor="middle" letter-spacing="-0.25">37</text>
<line x1="129.7" y1="418.8" x2="129.7" y2="420.4" stroke="#222" stroke-width="0.8"/>
<text transform="translate(129.7,428) scale(1,1.1)" font-size="6.4" text-anchor="middle" letter-spacing="-0.25">40</text>
<text transform="translate(37.5,428) scale(1,1.1)" font-size="6.2" text-anchor="end">Days</text>
<text transform="translate(81.5,320) scale(1,1.1)" font-size="6.6" text-anchor="middle">Administration at ZT6</text>
<text transform="translate(14.4,376) rotate(-90)" font-size="6.6" text-anchor="middle" fill="#222">Tumor volume (mm<tspan font-size="4.2" dy="-2.2">3</tspan><tspan dy="2.2">)</tspan></text>
<line x1="53.8" y1="407.98" x2="53.8" y2="409.54" stroke="#6fc26b" stroke-width="0.7"/>
<line x1="52.6" y1="407.98" x2="55" y2="407.98" stroke="#6fc26b" stroke-width="0.7"/>
<line x1="52.6" y1="409.54" x2="55" y2="409.54" stroke="#6fc26b" stroke-width="0.7"/>
<line x1="65" y1="406.22" x2="65" y2="408.17" stroke="#6fc26b" stroke-width="0.7"/>
<line x1="63.8" y1="406.22" x2="66.2" y2="406.22" stroke="#6fc26b" stroke-width="0.7"/>
<line x1="63.8" y1="408.17" x2="66.2" y2="408.17" stroke="#6fc26b" stroke-width="0.7"/>
<line x1="76.5" y1="398.23" x2="76.5" y2="401.15" stroke="#6fc26b" stroke-width="0.7"/>
<line x1="75.3" y1="398.23" x2="77.7" y2="398.23" stroke="#6fc26b" stroke-width="0.7"/>
<line x1="75.3" y1="401.15" x2="77.7" y2="401.15" stroke="#6fc26b" stroke-width="0.7"/>
<line x1="85.2" y1="396.18" x2="85.2" y2="401.06" stroke="#6fc26b" stroke-width="0.7"/>
<line x1="84" y1="396.18" x2="86.4" y2="396.18" stroke="#6fc26b" stroke-width="0.7"/>
<line x1="84" y1="401.06" x2="86.4" y2="401.06" stroke="#6fc26b" stroke-width="0.7"/>
<line x1="96.2" y1="394.23" x2="96.2" y2="402.03" stroke="#6fc26b" stroke-width="0.7"/>
<line x1="95" y1="394.23" x2="97.4" y2="394.23" stroke="#6fc26b" stroke-width="0.7"/>
<line x1="95" y1="402.03" x2="97.4" y2="402.03" stroke="#6fc26b" stroke-width="0.7"/>
<line x1="104.8" y1="394.13" x2="104.8" y2="401.93" stroke="#6fc26b" stroke-width="0.7"/>
<line x1="103.6" y1="394.13" x2="106" y2="394.13" stroke="#6fc26b" stroke-width="0.7"/>
<line x1="103.6" y1="401.93" x2="106" y2="401.93" stroke="#6fc26b" stroke-width="0.7"/>
<line x1="116" y1="392.47" x2="116" y2="399.3" stroke="#6fc26b" stroke-width="0.7"/>
<line x1="114.8" y1="392.47" x2="117.2" y2="392.47" stroke="#6fc26b" stroke-width="0.7"/>
<line x1="114.8" y1="399.3" x2="117.2" y2="399.3" stroke="#6fc26b" stroke-width="0.7"/>
<line x1="124" y1="388.09" x2="124" y2="398.81" stroke="#6fc26b" stroke-width="0.7"/>
<line x1="122.8" y1="388.09" x2="125.2" y2="388.09" stroke="#6fc26b" stroke-width="0.7"/>
<line x1="122.8" y1="398.81" x2="125.2" y2="398.81" stroke="#6fc26b" stroke-width="0.7"/>
<path d="M45.4,412.56 L53.8,408.76 L65,407.2 L76.5,399.69 L85.2,398.62 L96.2,398.13 L104.8,398.03 L116,395.89 L124,393.45" fill="none" stroke="#6fc26b" stroke-width="1.1"/>
<path d="M45.4,414.72 L43.42,411.12 L47.38,411.12 Z" fill="#6fc26b"/>
<path d="M53.8,410.92 L51.82,407.32 L55.78,407.32 Z" fill="#6fc26b"/>
<path d="M65,409.36 L63.02,405.76 L66.98,405.76 Z" fill="#6fc26b"/>
<path d="M76.5,401.85 L74.52,398.25 L78.48,398.25 Z" fill="#6fc26b"/>
<path d="M85.2,400.78 L83.22,397.18 L87.18,397.18 Z" fill="#6fc26b"/>
<path d="M96.2,400.29 L94.22,396.69 L98.18,396.69 Z" fill="#6fc26b"/>
<path d="M104.8,400.19 L102.82,396.59 L106.78,396.59 Z" fill="#6fc26b"/>
<path d="M116,398.05 L114.02,394.45 L117.98,394.45 Z" fill="#6fc26b"/>
<path d="M124,395.61 L122.02,392.01 L125.98,392.01 Z" fill="#6fc26b"/>
<line x1="53.8" y1="403.88" x2="53.8" y2="405.83" stroke="#111" stroke-width="0.7"/>
<line x1="52.6" y1="403.88" x2="55" y2="403.88" stroke="#111" stroke-width="0.7"/>
<line x1="52.6" y1="405.83" x2="55" y2="405.83" stroke="#111" stroke-width="0.7"/>
<line x1="65" y1="398.52" x2="65" y2="402.42" stroke="#111" stroke-width="0.7"/>
<line x1="63.8" y1="398.52" x2="66.2" y2="398.52" stroke="#111" stroke-width="0.7"/>
<line x1="63.8" y1="402.42" x2="66.2" y2="402.42" stroke="#111" stroke-width="0.7"/>
<line x1="76.5" y1="391.99" x2="76.5" y2="395.89" stroke="#111" stroke-width="0.7"/>
<line x1="75.3" y1="391.99" x2="77.7" y2="391.99" stroke="#111" stroke-width="0.7"/>
<line x1="75.3" y1="395.89" x2="77.7" y2="395.89" stroke="#111" stroke-width="0.7"/>
<line x1="85.2" y1="383.41" x2="85.2" y2="389.26" stroke="#111" stroke-width="0.7"/>
<line x1="84" y1="383.41" x2="86.4" y2="383.41" stroke="#111" stroke-width="0.7"/>
<line x1="84" y1="389.26" x2="86.4" y2="389.26" stroke="#111" stroke-width="0.7"/>
<line x1="96.2" y1="379.41" x2="96.2" y2="387.21" stroke="#111" stroke-width="0.7"/>
<line x1="95" y1="379.41" x2="97.4" y2="379.41" stroke="#111" stroke-width="0.7"/>
<line x1="95" y1="387.21" x2="97.4" y2="387.21" stroke="#111" stroke-width="0.7"/>
<line x1="104.8" y1="373.66" x2="104.8" y2="381.46" stroke="#111" stroke-width="0.7"/>
<line x1="103.6" y1="373.66" x2="106" y2="373.66" stroke="#111" stroke-width="0.7"/>
<line x1="103.6" y1="381.46" x2="106" y2="381.46" stroke="#111" stroke-width="0.7"/>
<line x1="116" y1="366.54" x2="116" y2="374.34" stroke="#111" stroke-width="0.7"/>
<line x1="114.8" y1="366.54" x2="117.2" y2="366.54" stroke="#111" stroke-width="0.7"/>
<line x1="114.8" y1="374.34" x2="117.2" y2="374.34" stroke="#111" stroke-width="0.7"/>
<line x1="124" y1="353.18" x2="124" y2="364.88" stroke="#111" stroke-width="0.7"/>
<line x1="122.8" y1="353.18" x2="125.2" y2="353.18" stroke="#111" stroke-width="0.7"/>
<line x1="122.8" y1="364.88" x2="125.2" y2="364.88" stroke="#111" stroke-width="0.7"/>
<path d="M45.4,412.56 L53.8,404.86 L65,400.47 L76.5,393.94 L85.2,386.33 L96.2,383.31 L104.8,377.56 L116,370.44 L124,359.03" fill="none" stroke="#111" stroke-width="1.1"/>
<circle cx="45.4" cy="412.56" r="1.8" fill="#111"/>
<circle cx="53.8" cy="404.86" r="1.8" fill="#111"/>
<circle cx="65" cy="400.47" r="1.8" fill="#111"/>
<circle cx="76.5" cy="393.94" r="1.8" fill="#111"/>
<circle cx="85.2" cy="386.33" r="1.8" fill="#111"/>
<circle cx="96.2" cy="383.31" r="1.8" fill="#111"/>
<circle cx="104.8" cy="377.56" r="1.8" fill="#111"/>
<circle cx="116" cy="370.44" r="1.8" fill="#111"/>
<circle cx="124" cy="359.03" r="1.8" fill="#111"/>
<line x1="53.8" y1="406.22" x2="53.8" y2="408.17" stroke="#d8232a" stroke-width="0.7"/>
<line x1="52.6" y1="406.22" x2="55" y2="406.22" stroke="#d8232a" stroke-width="0.7"/>
<line x1="52.6" y1="408.17" x2="55" y2="408.17" stroke="#d8232a" stroke-width="0.7"/>
<line x1="65" y1="404.37" x2="65" y2="407.29" stroke="#d8232a" stroke-width="0.7"/>
<line x1="63.8" y1="404.37" x2="66.2" y2="404.37" stroke="#d8232a" stroke-width="0.7"/>
<line x1="63.8" y1="407.29" x2="66.2" y2="407.29" stroke="#d8232a" stroke-width="0.7"/>
<line x1="76.5" y1="391.79" x2="76.5" y2="397.64" stroke="#d8232a" stroke-width="0.7"/>
<line x1="75.3" y1="391.79" x2="77.7" y2="391.79" stroke="#d8232a" stroke-width="0.7"/>
<line x1="75.3" y1="397.64" x2="77.7" y2="397.64" stroke="#d8232a" stroke-width="0.7"/>
<line x1="85.2" y1="381.46" x2="85.2" y2="391.21" stroke="#d8232a" stroke-width="0.7"/>
<line x1="84" y1="381.46" x2="86.4" y2="381.46" stroke="#d8232a" stroke-width="0.7"/>
<line x1="84" y1="391.21" x2="86.4" y2="391.21" stroke="#d8232a" stroke-width="0.7"/>
<line x1="96.2" y1="377.46" x2="96.2" y2="389.16" stroke="#d8232a" stroke-width="0.7"/>
<line x1="95" y1="377.46" x2="97.4" y2="377.46" stroke="#d8232a" stroke-width="0.7"/>
<line x1="95" y1="389.16" x2="97.4" y2="389.16" stroke="#d8232a" stroke-width="0.7"/>
<line x1="104.8" y1="370.05" x2="104.8" y2="383.7" stroke="#d8232a" stroke-width="0.7"/>
<line x1="103.6" y1="370.05" x2="106" y2="370.05" stroke="#d8232a" stroke-width="0.7"/>
<line x1="103.6" y1="383.7" x2="106" y2="383.7" stroke="#d8232a" stroke-width="0.7"/>
<line x1="116" y1="360.69" x2="116" y2="378.24" stroke="#d8232a" stroke-width="0.7"/>
<line x1="114.8" y1="360.69" x2="117.2" y2="360.69" stroke="#d8232a" stroke-width="0.7"/>
<line x1="114.8" y1="378.24" x2="117.2" y2="378.24" stroke="#d8232a" stroke-width="0.7"/>
<line x1="124" y1="346.36" x2="124" y2="371.71" stroke="#d8232a" stroke-width="0.7"/>
<line x1="122.8" y1="346.36" x2="125.2" y2="346.36" stroke="#d8232a" stroke-width="0.7"/>
<line x1="122.8" y1="371.71" x2="125.2" y2="371.71" stroke="#d8232a" stroke-width="0.7"/>
<path d="M45.4,412.56 L53.8,407.2 L65,405.83 L76.5,394.72 L85.2,386.33 L96.2,383.31 L104.8,376.88 L116,369.47 L124,359.03" fill="none" stroke="#d8232a" stroke-width="1.1"/>
<rect x="43.6" y="410.76" width="3.6" height="3.6" fill="#d8232a"/>
<rect x="52" y="405.4" width="3.6" height="3.6" fill="#d8232a"/>
<rect x="63.2" y="404.03" width="3.6" height="3.6" fill="#d8232a"/>
<rect x="74.7" y="392.92" width="3.6" height="3.6" fill="#d8232a"/>
<rect x="83.4" y="384.53" width="3.6" height="3.6" fill="#d8232a"/>
<rect x="94.4" y="381.51" width="3.6" height="3.6" fill="#d8232a"/>
<rect x="103" y="375.07" width="3.6" height="3.6" fill="#d8232a"/>
<rect x="114.2" y="367.67" width="3.6" height="3.6" fill="#d8232a"/>
<rect x="122.2" y="357.23" width="3.6" height="3.6" fill="#d8232a"/>
<line x1="53.8" y1="407" x2="53.8" y2="408.56" stroke="#2b5ba6" stroke-width="0.7"/>
<line x1="52.6" y1="407" x2="55" y2="407" stroke="#2b5ba6" stroke-width="0.7"/>
<line x1="52.6" y1="408.56" x2="55" y2="408.56" stroke="#2b5ba6" stroke-width="0.7"/>
<line x1="65" y1="405.74" x2="65" y2="407.69" stroke="#2b5ba6" stroke-width="0.7"/>
<line x1="63.8" y1="405.74" x2="66.2" y2="405.74" stroke="#2b5ba6" stroke-width="0.7"/>
<line x1="63.8" y1="407.69" x2="66.2" y2="407.69" stroke="#2b5ba6" stroke-width="0.7"/>
<line x1="76.5" y1="399.69" x2="76.5" y2="402.62" stroke="#2b5ba6" stroke-width="0.7"/>
<line x1="75.3" y1="399.69" x2="77.7" y2="399.69" stroke="#2b5ba6" stroke-width="0.7"/>
<line x1="75.3" y1="402.62" x2="77.7" y2="402.62" stroke="#2b5ba6" stroke-width="0.7"/>
<line x1="85.2" y1="390.43" x2="85.2" y2="395.3" stroke="#2b5ba6" stroke-width="0.7"/>
<line x1="84" y1="390.43" x2="86.4" y2="390.43" stroke="#2b5ba6" stroke-width="0.7"/>
<line x1="84" y1="395.3" x2="86.4" y2="395.3" stroke="#2b5ba6" stroke-width="0.7"/>
<line x1="96.2" y1="387.6" x2="96.2" y2="393.45" stroke="#2b5ba6" stroke-width="0.7"/>
<line x1="95" y1="387.6" x2="97.4" y2="387.6" stroke="#2b5ba6" stroke-width="0.7"/>
<line x1="95" y1="393.45" x2="97.4" y2="393.45" stroke="#2b5ba6" stroke-width="0.7"/>
<line x1="104.8" y1="385.16" x2="104.8" y2="391.01" stroke="#2b5ba6" stroke-width="0.7"/>
<line x1="103.6" y1="385.16" x2="106" y2="385.16" stroke="#2b5ba6" stroke-width="0.7"/>
<line x1="103.6" y1="391.01" x2="106" y2="391.01" stroke="#2b5ba6" stroke-width="0.7"/>
<line x1="116" y1="381.85" x2="116" y2="389.65" stroke="#2b5ba6" stroke-width="0.7"/>
<line x1="114.8" y1="381.85" x2="117.2" y2="381.85" stroke="#2b5ba6" stroke-width="0.7"/>
<line x1="114.8" y1="389.65" x2="117.2" y2="389.65" stroke="#2b5ba6" stroke-width="0.7"/>
<line x1="124" y1="375.12" x2="124" y2="382.92" stroke="#2b5ba6" stroke-width="0.7"/>
<line x1="122.8" y1="375.12" x2="125.2" y2="375.12" stroke="#2b5ba6" stroke-width="0.7"/>
<line x1="122.8" y1="382.92" x2="125.2" y2="382.92" stroke="#2b5ba6" stroke-width="0.7"/>
<path d="M45.4,412.56 L53.8,407.78 L65,406.71 L76.5,401.15 L85.2,392.87 L96.2,390.53 L104.8,388.09 L116,385.75 L124,379.02" fill="none" stroke="#2b5ba6" stroke-width="1.1"/>
<path d="M45.4,410.4 L43.42,414 L47.38,414 Z" fill="#2b5ba6"/>
<path d="M53.8,405.62 L51.82,409.22 L55.78,409.22 Z" fill="#2b5ba6"/>
<path d="M65,404.55 L63.02,408.15 L66.98,408.15 Z" fill="#2b5ba6"/>
<path d="M76.5,398.99 L74.52,402.59 L78.48,402.59 Z" fill="#2b5ba6"/>
<path d="M85.2,390.7 L83.22,394.31 L87.18,394.31 Z" fill="#2b5ba6"/>
<path d="M96.2,388.37 L94.22,391.97 L98.18,391.97 Z" fill="#2b5ba6"/>
<path d="M104.8,385.93 L102.82,389.53 L106.78,389.53 Z" fill="#2b5ba6"/>
<path d="M116,383.59 L114.02,387.19 L117.98,387.19 Z" fill="#2b5ba6"/>
<path d="M124,376.86 L122.02,380.46 L125.98,380.46 Z" fill="#2b5ba6"/>
<line x1="36" y1="331.2" x2="43.5" y2="331.2" stroke="#111" stroke-width="0.8"/>
<circle cx="39.7" cy="331.2" r="1.5" fill="#111"/>
<text transform="translate(46.2,333.5) scale(1,1.1)" font-size="6.5">Control</text>
<line x1="36" y1="339.9" x2="43.5" y2="339.9" stroke="#d8232a" stroke-width="0.8"/>
<rect x="38.2" y="338.4" width="3" height="3" fill="#d8232a"/>
<text transform="translate(46.2,342.2) scale(1,1.1)" font-size="6.5">TRA</text>
<line x1="36" y1="348.6" x2="43.5" y2="348.6" stroke="#2b5ba6" stroke-width="0.8"/>
<path d="M39.7,346.8 L38.05,349.8 L41.35,349.8 Z" fill="#2b5ba6"/>
<text transform="translate(46.2,350.9) scale(1,1.1)" font-size="6.5">MET</text>
<line x1="36" y1="357.3" x2="43.5" y2="357.3" stroke="#6fc26b" stroke-width="0.8"/>
<path d="M39.7,359.1 L38.05,356.1 L41.35,356.1 Z" fill="#6fc26b"/>
<text transform="translate(46.2,359.6) scale(1,1.1)" font-size="6.5">TRA+MET</text>
<line x1="129.2" y1="359.2" x2="132.1" y2="359.2" stroke="#444" stroke-width="0.7"/>
<line x1="132.1" y1="359.2" x2="132.1" y2="393.2" stroke="#444" stroke-width="0.7"/>
<line x1="129.2" y1="393.2" x2="132.1" y2="393.2" stroke="#444" stroke-width="0.7"/>
<line x1="129.5" y1="379" x2="132.1" y2="379" stroke="#444" stroke-width="0.7"/>
<text transform="translate(134.5,371) scale(1,1.1)" font-size="4.5" text-anchor="middle">*</text>
<text transform="translate(134.5,388.4) scale(1,1.1)" font-size="4.5" text-anchor="middle">*</text>
<line x1="136" y1="359.2" x2="139.2" y2="359.2" stroke="#444" stroke-width="0.7"/>
<line x1="139.2" y1="359.2" x2="139.2" y2="393.2" stroke="#444" stroke-width="0.7"/>
<line x1="136" y1="393.2" x2="139.2" y2="393.2" stroke="#444" stroke-width="0.7"/>
<text transform="translate(140.3,376.5) rotate(90)" font-size="5.5" text-anchor="middle" letter-spacing="0.3">***</text>
<line x1="161.25" y1="342" x2="161.25" y2="418.75" stroke="#222" stroke-width="0.8"/>
<line x1="159.65" y1="418.75" x2="161.25" y2="418.75" stroke="#222" stroke-width="0.8"/>
<text transform="translate(158.85,420.98) scale(1,1.1)" font-size="6.2" text-anchor="end">0</text>
<line x1="159.65" y1="399.56" x2="161.25" y2="399.56" stroke="#222" stroke-width="0.8"/>
<text transform="translate(158.85,401.79) scale(1,1.1)" font-size="6.2" text-anchor="end">200</text>
<line x1="159.65" y1="380.38" x2="161.25" y2="380.38" stroke="#222" stroke-width="0.8"/>
<text transform="translate(158.85,382.61) scale(1,1.1)" font-size="6.2" text-anchor="end">400</text>
<line x1="159.65" y1="361.19" x2="161.25" y2="361.19" stroke="#222" stroke-width="0.8"/>
<text transform="translate(158.85,363.42) scale(1,1.1)" font-size="6.2" text-anchor="end">600</text>
<line x1="159.65" y1="342" x2="161.25" y2="342" stroke="#222" stroke-width="0.8"/>
<text transform="translate(158.85,344.23) scale(1,1.1)" font-size="6.2" text-anchor="end">800</text>
<line x1="161.25" y1="418.75" x2="261" y2="418.75" stroke="#222" stroke-width="0.8"/>
<line x1="176.25" y1="418.75" x2="176.25" y2="420.35" stroke="#222" stroke-width="0.8"/>
<text transform="translate(176.25,427.95) scale(1,1.1)" font-size="6.4" text-anchor="middle" letter-spacing="-0.25">10</text>
<line x1="184.62" y1="418.75" x2="184.62" y2="420.35" stroke="#222" stroke-width="0.8"/>
<text transform="translate(184.62,427.95) scale(1,1.1)" font-size="6.4" text-anchor="middle" letter-spacing="-0.25">13</text>
<line x1="193" y1="418.75" x2="193" y2="420.35" stroke="#222" stroke-width="0.8"/>
<text transform="translate(193,427.95) scale(1,1.1)" font-size="6.4" text-anchor="middle" letter-spacing="-0.25">16</text>
<line x1="201.38" y1="418.75" x2="201.38" y2="420.35" stroke="#222" stroke-width="0.8"/>
<text transform="translate(201.38,427.95) scale(1,1.1)" font-size="6.4" text-anchor="middle" letter-spacing="-0.25">19</text>
<line x1="209.75" y1="418.75" x2="209.75" y2="420.35" stroke="#222" stroke-width="0.8"/>
<text transform="translate(209.75,427.95) scale(1,1.1)" font-size="6.4" text-anchor="middle" letter-spacing="-0.25">22</text>
<line x1="218.12" y1="418.75" x2="218.12" y2="420.35" stroke="#222" stroke-width="0.8"/>
<text transform="translate(218.12,427.95) scale(1,1.1)" font-size="6.4" text-anchor="middle" letter-spacing="-0.25">25</text>
<line x1="226.5" y1="418.75" x2="226.5" y2="420.35" stroke="#222" stroke-width="0.8"/>
<text transform="translate(226.5,427.95) scale(1,1.1)" font-size="6.4" text-anchor="middle" letter-spacing="-0.25">28</text>
<line x1="234.88" y1="418.75" x2="234.88" y2="420.35" stroke="#222" stroke-width="0.8"/>
<text transform="translate(234.88,427.95) scale(1,1.1)" font-size="6.4" text-anchor="middle" letter-spacing="-0.25">31</text>
<line x1="243.25" y1="418.75" x2="243.25" y2="420.35" stroke="#222" stroke-width="0.8"/>
<text transform="translate(243.25,427.95) scale(1,1.1)" font-size="6.4" text-anchor="middle" letter-spacing="-0.25">34</text>
<line x1="251.62" y1="418.75" x2="251.62" y2="420.35" stroke="#222" stroke-width="0.8"/>
<text transform="translate(251.62,427.95) scale(1,1.1)" font-size="6.4" text-anchor="middle" letter-spacing="-0.25">37</text>
<line x1="260" y1="418.75" x2="260" y2="420.35" stroke="#222" stroke-width="0.8"/>
<text transform="translate(260,427.95) scale(1,1.1)" font-size="6.4" text-anchor="middle" letter-spacing="-0.25">40</text>
<text transform="translate(168.5,427.95) scale(1,1.1)" font-size="6.2" text-anchor="end">Days</text>
<text transform="translate(208.3,320) scale(1,1.1)" font-size="6.6" text-anchor="middle">Administration at ZT18</text>
<line x1="184.2" y1="407.33" x2="184.2" y2="409.25" stroke="#6fc26b" stroke-width="0.7"/>
<line x1="183" y1="407.33" x2="185.4" y2="407.33" stroke="#6fc26b" stroke-width="0.7"/>
<line x1="183" y1="409.25" x2="185.4" y2="409.25" stroke="#6fc26b" stroke-width="0.7"/>
<line x1="194.8" y1="405.32" x2="194.8" y2="407.24" stroke="#6fc26b" stroke-width="0.7"/>
<line x1="193.6" y1="405.32" x2="196" y2="405.32" stroke="#6fc26b" stroke-width="0.7"/>
<line x1="193.6" y1="407.24" x2="196" y2="407.24" stroke="#6fc26b" stroke-width="0.7"/>
<line x1="205.8" y1="398.7" x2="205.8" y2="402.54" stroke="#6fc26b" stroke-width="0.7"/>
<line x1="204.6" y1="398.7" x2="207" y2="398.7" stroke="#6fc26b" stroke-width="0.7"/>
<line x1="204.6" y1="402.54" x2="207" y2="402.54" stroke="#6fc26b" stroke-width="0.7"/>
<line x1="214.6" y1="394.29" x2="214.6" y2="399.08" stroke="#6fc26b" stroke-width="0.7"/>
<line x1="213.4" y1="394.29" x2="215.8" y2="394.29" stroke="#6fc26b" stroke-width="0.7"/>
<line x1="213.4" y1="399.08" x2="215.8" y2="399.08" stroke="#6fc26b" stroke-width="0.7"/>
<line x1="225.6" y1="392.46" x2="225.6" y2="398.22" stroke="#6fc26b" stroke-width="0.7"/>
<line x1="224.4" y1="392.46" x2="226.8" y2="392.46" stroke="#6fc26b" stroke-width="0.7"/>
<line x1="224.4" y1="398.22" x2="226.8" y2="398.22" stroke="#6fc26b" stroke-width="0.7"/>
<line x1="233.8" y1="389.39" x2="233.8" y2="395.15" stroke="#6fc26b" stroke-width="0.7"/>
<line x1="232.6" y1="389.39" x2="235" y2="389.39" stroke="#6fc26b" stroke-width="0.7"/>
<line x1="232.6" y1="395.15" x2="235" y2="395.15" stroke="#6fc26b" stroke-width="0.7"/>
<line x1="244.8" y1="377.02" x2="244.8" y2="383.73" stroke="#6fc26b" stroke-width="0.7"/>
<line x1="243.6" y1="377.02" x2="246" y2="377.02" stroke="#6fc26b" stroke-width="0.7"/>
<line x1="243.6" y1="383.73" x2="246" y2="383.73" stroke="#6fc26b" stroke-width="0.7"/>
<line x1="253.5" y1="375.58" x2="253.5" y2="383.25" stroke="#6fc26b" stroke-width="0.7"/>
<line x1="252.3" y1="375.58" x2="254.7" y2="375.58" stroke="#6fc26b" stroke-width="0.7"/>
<line x1="252.3" y1="383.25" x2="254.7" y2="383.25" stroke="#6fc26b" stroke-width="0.7"/>
<path d="M175.6,412.13 L184.2,408.29 L194.8,406.28 L205.8,400.62 L214.6,396.68 L225.6,395.34 L233.8,392.27 L244.8,380.38 L253.5,379.42" fill="none" stroke="#6fc26b" stroke-width="1.1"/>
<path d="M175.6,414.29 L173.62,410.69 L177.58,410.69 Z" fill="#6fc26b"/>
<path d="M184.2,410.45 L182.22,406.85 L186.18,406.85 Z" fill="#6fc26b"/>
<path d="M194.8,408.44 L192.82,404.84 L196.78,404.84 Z" fill="#6fc26b"/>
<path d="M205.8,402.78 L203.82,399.18 L207.78,399.18 Z" fill="#6fc26b"/>
<path d="M214.6,398.84 L212.62,395.24 L216.58,395.24 Z" fill="#6fc26b"/>
<path d="M225.6,397.5 L223.62,393.9 L227.58,393.9 Z" fill="#6fc26b"/>
<path d="M233.8,394.43 L231.82,390.83 L235.78,390.83 Z" fill="#6fc26b"/>
<path d="M244.8,382.54 L242.82,378.94 L246.78,378.94 Z" fill="#6fc26b"/>
<path d="M253.5,381.58 L251.52,377.98 L255.48,377.98 Z" fill="#6fc26b"/>
<line x1="184.2" y1="407.33" x2="184.2" y2="409.25" stroke="#111" stroke-width="0.7"/>
<line x1="183" y1="407.33" x2="185.4" y2="407.33" stroke="#111" stroke-width="0.7"/>
<line x1="183" y1="409.25" x2="185.4" y2="409.25" stroke="#111" stroke-width="0.7"/>
<line x1="194.8" y1="405.32" x2="194.8" y2="407.24" stroke="#111" stroke-width="0.7"/>
<line x1="193.6" y1="405.32" x2="196" y2="405.32" stroke="#111" stroke-width="0.7"/>
<line x1="193.6" y1="407.24" x2="196" y2="407.24" stroke="#111" stroke-width="0.7"/>
<line x1="205.8" y1="394.86" x2="205.8" y2="400.62" stroke="#111" stroke-width="0.7"/>
<line x1="204.6" y1="394.86" x2="207" y2="394.86" stroke="#111" stroke-width="0.7"/>
<line x1="204.6" y1="400.62" x2="207" y2="400.62" stroke="#111" stroke-width="0.7"/>
<line x1="214.6" y1="386.71" x2="214.6" y2="392.46" stroke="#111" stroke-width="0.7"/>
<line x1="213.4" y1="386.71" x2="215.8" y2="386.71" stroke="#111" stroke-width="0.7"/>
<line x1="213.4" y1="392.46" x2="215.8" y2="392.46" stroke="#111" stroke-width="0.7"/>
<line x1="225.6" y1="379.99" x2="225.6" y2="387.67" stroke="#111" stroke-width="0.7"/>
<line x1="224.4" y1="379.99" x2="226.8" y2="379.99" stroke="#111" stroke-width="0.7"/>
<line x1="224.4" y1="387.67" x2="226.8" y2="387.67" stroke="#111" stroke-width="0.7"/>
<line x1="233.8" y1="374.04" x2="233.8" y2="381.72" stroke="#111" stroke-width="0.7"/>
<line x1="232.6" y1="374.04" x2="235" y2="374.04" stroke="#111" stroke-width="0.7"/>
<line x1="232.6" y1="381.72" x2="235" y2="381.72" stroke="#111" stroke-width="0.7"/>
<line x1="244.8" y1="368.86" x2="244.8" y2="376.54" stroke="#111" stroke-width="0.7"/>
<line x1="243.6" y1="368.86" x2="246" y2="368.86" stroke="#111" stroke-width="0.7"/>
<line x1="243.6" y1="376.54" x2="246" y2="376.54" stroke="#111" stroke-width="0.7"/>
<line x1="253.5" y1="358.69" x2="253.5" y2="368.29" stroke="#111" stroke-width="0.7"/>
<line x1="252.3" y1="358.69" x2="254.7" y2="358.69" stroke="#111" stroke-width="0.7"/>
<line x1="252.3" y1="368.29" x2="254.7" y2="368.29" stroke="#111" stroke-width="0.7"/>
<path d="M175.6,412.13 L184.2,408.29 L194.8,406.28 L205.8,397.74 L214.6,389.58 L225.6,383.83 L233.8,377.88 L244.8,372.7 L253.5,363.49" fill="none" stroke="#111" stroke-width="1.1"/>
<circle cx="175.6" cy="412.13" r="1.8" fill="#111"/>
<circle cx="184.2" cy="408.29" r="1.8" fill="#111"/>
<circle cx="194.8" cy="406.28" r="1.8" fill="#111"/>
<circle cx="205.8" cy="397.74" r="1.8" fill="#111"/>
<circle cx="214.6" cy="389.58" r="1.8" fill="#111"/>
<circle cx="225.6" cy="383.83" r="1.8" fill="#111"/>
<circle cx="233.8" cy="377.88" r="1.8" fill="#111"/>
<circle cx="244.8" cy="372.7" r="1.8" fill="#111"/>
<circle cx="253.5" cy="363.49" r="1.8" fill="#111"/>
<line x1="184.2" y1="405.41" x2="184.2" y2="409.25" stroke="#d8232a" stroke-width="0.7"/>
<line x1="183" y1="405.41" x2="185.4" y2="405.41" stroke="#d8232a" stroke-width="0.7"/>
<line x1="183" y1="409.25" x2="185.4" y2="409.25" stroke="#d8232a" stroke-width="0.7"/>
<line x1="194.8" y1="397.64" x2="194.8" y2="405.32" stroke="#d8232a" stroke-width="0.7"/>
<line x1="193.6" y1="397.64" x2="196" y2="397.64" stroke="#d8232a" stroke-width="0.7"/>
<line x1="193.6" y1="405.32" x2="196" y2="405.32" stroke="#d8232a" stroke-width="0.7"/>
<line x1="205.8" y1="393.42" x2="205.8" y2="401.1" stroke="#d8232a" stroke-width="0.7"/>
<line x1="204.6" y1="393.42" x2="207" y2="393.42" stroke="#d8232a" stroke-width="0.7"/>
<line x1="204.6" y1="401.1" x2="207" y2="401.1" stroke="#d8232a" stroke-width="0.7"/>
<line x1="214.6" y1="385.75" x2="214.6" y2="393.42" stroke="#d8232a" stroke-width="0.7"/>
<line x1="213.4" y1="385.75" x2="215.8" y2="385.75" stroke="#d8232a" stroke-width="0.7"/>
<line x1="213.4" y1="393.42" x2="215.8" y2="393.42" stroke="#d8232a" stroke-width="0.7"/>
<line x1="225.6" y1="380.76" x2="225.6" y2="388.43" stroke="#d8232a" stroke-width="0.7"/>
<line x1="224.4" y1="380.76" x2="226.8" y2="380.76" stroke="#d8232a" stroke-width="0.7"/>
<line x1="224.4" y1="388.43" x2="226.8" y2="388.43" stroke="#d8232a" stroke-width="0.7"/>
<line x1="233.8" y1="374.04" x2="233.8" y2="381.72" stroke="#d8232a" stroke-width="0.7"/>
<line x1="232.6" y1="374.04" x2="235" y2="374.04" stroke="#d8232a" stroke-width="0.7"/>
<line x1="232.6" y1="381.72" x2="235" y2="381.72" stroke="#d8232a" stroke-width="0.7"/>
<line x1="244.8" y1="370.3" x2="244.8" y2="377.98" stroke="#d8232a" stroke-width="0.7"/>
<line x1="243.6" y1="370.3" x2="246" y2="370.3" stroke="#d8232a" stroke-width="0.7"/>
<line x1="243.6" y1="377.98" x2="246" y2="377.98" stroke="#d8232a" stroke-width="0.7"/>
<line x1="253.5" y1="364.64" x2="253.5" y2="372.32" stroke="#d8232a" stroke-width="0.7"/>
<line x1="252.3" y1="364.64" x2="254.7" y2="364.64" stroke="#d8232a" stroke-width="0.7"/>
<line x1="252.3" y1="372.32" x2="254.7" y2="372.32" stroke="#d8232a" stroke-width="0.7"/>
<path d="M175.6,412.13 L184.2,407.33 L194.8,401.48 L205.8,397.26 L214.6,389.58 L225.6,384.6 L233.8,377.88 L244.8,374.14 L253.5,368.48" fill="none" stroke="#d8232a" stroke-width="1.1"/>
<rect x="173.8" y="410.33" width="3.6" height="3.6" fill="#d8232a"/>
<rect x="182.4" y="405.53" width="3.6" height="3.6" fill="#d8232a"/>
<rect x="193" y="399.68" width="3.6" height="3.6" fill="#d8232a"/>
<rect x="204" y="395.46" width="3.6" height="3.6" fill="#d8232a"/>
<rect x="212.8" y="387.78" width="3.6" height="3.6" fill="#d8232a"/>
<rect x="223.8" y="382.8" width="3.6" height="3.6" fill="#d8232a"/>
<rect x="232" y="376.08" width="3.6" height="3.6" fill="#d8232a"/>
<rect x="243" y="372.34" width="3.6" height="3.6" fill="#d8232a"/>
<rect x="251.7" y="366.68" width="3.6" height="3.6" fill="#d8232a"/>
<line x1="184.2" y1="406.76" x2="184.2" y2="408.68" stroke="#2b5ba6" stroke-width="0.7"/>
<line x1="183" y1="406.76" x2="185.4" y2="406.76" stroke="#2b5ba6" stroke-width="0.7"/>
<line x1="183" y1="408.68" x2="185.4" y2="408.68" stroke="#2b5ba6" stroke-width="0.7"/>
<line x1="194.8" y1="405.32" x2="194.8" y2="407.24" stroke="#2b5ba6" stroke-width="0.7"/>
<line x1="193.6" y1="405.32" x2="196" y2="405.32" stroke="#2b5ba6" stroke-width="0.7"/>
<line x1="193.6" y1="407.24" x2="196" y2="407.24" stroke="#2b5ba6" stroke-width="0.7"/>
<line x1="205.8" y1="399.27" x2="205.8" y2="403.11" stroke="#2b5ba6" stroke-width="0.7"/>
<line x1="204.6" y1="399.27" x2="207" y2="399.27" stroke="#2b5ba6" stroke-width="0.7"/>
<line x1="204.6" y1="403.11" x2="207" y2="403.11" stroke="#2b5ba6" stroke-width="0.7"/>
<line x1="214.6" y1="393.81" x2="214.6" y2="398.6" stroke="#2b5ba6" stroke-width="0.7"/>
<line x1="213.4" y1="393.81" x2="215.8" y2="393.81" stroke="#2b5ba6" stroke-width="0.7"/>
<line x1="213.4" y1="398.6" x2="215.8" y2="398.6" stroke="#2b5ba6" stroke-width="0.7"/>
<line x1="225.6" y1="390.64" x2="225.6" y2="396.4" stroke="#2b5ba6" stroke-width="0.7"/>
<line x1="224.4" y1="390.64" x2="226.8" y2="390.64" stroke="#2b5ba6" stroke-width="0.7"/>
<line x1="224.4" y1="396.4" x2="226.8" y2="396.4" stroke="#2b5ba6" stroke-width="0.7"/>
<line x1="233.8" y1="386.71" x2="233.8" y2="392.46" stroke="#2b5ba6" stroke-width="0.7"/>
<line x1="232.6" y1="386.71" x2="235" y2="386.71" stroke="#2b5ba6" stroke-width="0.7"/>
<line x1="232.6" y1="392.46" x2="235" y2="392.46" stroke="#2b5ba6" stroke-width="0.7"/>
<line x1="244.8" y1="376.63" x2="244.8" y2="383.35" stroke="#2b5ba6" stroke-width="0.7"/>
<line x1="243.6" y1="376.63" x2="246" y2="376.63" stroke="#2b5ba6" stroke-width="0.7"/>
<line x1="243.6" y1="383.35" x2="246" y2="383.35" stroke="#2b5ba6" stroke-width="0.7"/>
<line x1="253.5" y1="372.7" x2="253.5" y2="380.38" stroke="#2b5ba6" stroke-width="0.7"/>
<line x1="252.3" y1="372.7" x2="254.7" y2="372.7" stroke="#2b5ba6" stroke-width="0.7"/>
<line x1="252.3" y1="380.38" x2="254.7" y2="380.38" stroke="#2b5ba6" stroke-width="0.7"/>
<path d="M175.6,412.13 L184.2,407.72 L194.8,406.28 L205.8,401.19 L214.6,396.2 L225.6,393.52 L233.8,389.58 L244.8,379.99 L253.5,376.54" fill="none" stroke="#2b5ba6" stroke-width="1.1"/>
<path d="M175.6,409.97 L173.62,413.57 L177.58,413.57 Z" fill="#2b5ba6"/>
<path d="M184.2,405.56 L182.22,409.16 L186.18,409.16 Z" fill="#2b5ba6"/>
<path d="M194.8,404.12 L192.82,407.72 L196.78,407.72 Z" fill="#2b5ba6"/>
<path d="M205.8,399.03 L203.82,402.63 L207.78,402.63 Z" fill="#2b5ba6"/>
<path d="M214.6,394.04 L212.62,397.64 L216.58,397.64 Z" fill="#2b5ba6"/>
<path d="M225.6,391.36 L223.62,394.96 L227.58,394.96 Z" fill="#2b5ba6"/>
<path d="M233.8,387.42 L231.82,391.02 L235.78,391.02 Z" fill="#2b5ba6"/>
<path d="M244.8,377.83 L242.82,381.43 L246.78,381.43 Z" fill="#2b5ba6"/>
<path d="M253.5,374.38 L251.52,377.98 L255.48,377.98 Z" fill="#2b5ba6"/>
<line x1="255.8" y1="363.3" x2="258.2" y2="363.3" stroke="#444" stroke-width="0.7"/>
<line x1="258.2" y1="363.3" x2="258.2" y2="376.2" stroke="#444" stroke-width="0.7"/>
<line x1="255.8" y1="376.2" x2="258.2" y2="376.2" stroke="#444" stroke-width="0.7"/>
<text transform="translate(260.1,372.3) scale(1,1.1)" font-size="4.5" text-anchor="middle">*</text>
<line x1="262.5" y1="363.3" x2="266" y2="363.3" stroke="#444" stroke-width="0.7"/>
<line x1="266" y1="363.3" x2="266" y2="380.1" stroke="#444" stroke-width="0.7"/>
<line x1="259.7" y1="380.1" x2="266" y2="380.1" stroke="#444" stroke-width="0.7"/>
<text transform="translate(267.6,374.6) scale(1,1.1)" font-size="4.5" text-anchor="middle">*</text>
<text transform="translate(261.2,380) rotate(90)" font-size="4.3" text-anchor="middle">ns</text>
<text transform="translate(265.5,319.5) scale(1,1.1)" font-size="13.3" font-weight="bold" fill="#000">F</text>
<line x1="295" y1="340.5" x2="295" y2="418.75" stroke="#222" stroke-width="0.8"/>
<line x1="293.4" y1="418.75" x2="295" y2="418.75" stroke="#222" stroke-width="0.8"/>
<text transform="translate(292.6,420.98) scale(1,1.1)" font-size="6.2" text-anchor="end">12</text>
<line x1="293.4" y1="403.1" x2="295" y2="403.1" stroke="#222" stroke-width="0.8"/>
<text transform="translate(292.6,405.33) scale(1,1.1)" font-size="6.2" text-anchor="end">14</text>
<line x1="293.4" y1="387.45" x2="295" y2="387.45" stroke="#222" stroke-width="0.8"/>
<text transform="translate(292.6,389.68) scale(1,1.1)" font-size="6.2" text-anchor="end">16</text>
<line x1="293.4" y1="371.8" x2="295" y2="371.8" stroke="#222" stroke-width="0.8"/>
<text transform="translate(292.6,374.03) scale(1,1.1)" font-size="6.2" text-anchor="end">18</text>
<line x1="293.4" y1="356.15" x2="295" y2="356.15" stroke="#222" stroke-width="0.8"/>
<text transform="translate(292.6,358.38) scale(1,1.1)" font-size="6.2" text-anchor="end">20</text>
<line x1="293.4" y1="340.5" x2="295" y2="340.5" stroke="#222" stroke-width="0.8"/>
<text transform="translate(292.6,342.73) scale(1,1.1)" font-size="6.2" text-anchor="end">22</text>
<line x1="295" y1="418.75" x2="396" y2="418.75" stroke="#222" stroke-width="0.8"/>
<line x1="310" y1="418.75" x2="310" y2="420.35" stroke="#222" stroke-width="0.8"/>
<text transform="translate(310,427.95) scale(1,1.1)" font-size="6.4" text-anchor="middle" letter-spacing="-0.25">10</text>
<line x1="318.3" y1="418.75" x2="318.3" y2="420.35" stroke="#222" stroke-width="0.8"/>
<text transform="translate(318.3,427.95) scale(1,1.1)" font-size="6.4" text-anchor="middle" letter-spacing="-0.25">13</text>
<line x1="326.6" y1="418.75" x2="326.6" y2="420.35" stroke="#222" stroke-width="0.8"/>
<text transform="translate(326.6,427.95) scale(1,1.1)" font-size="6.4" text-anchor="middle" letter-spacing="-0.25">16</text>
<line x1="334.9" y1="418.75" x2="334.9" y2="420.35" stroke="#222" stroke-width="0.8"/>
<text transform="translate(334.9,427.95) scale(1,1.1)" font-size="6.4" text-anchor="middle" letter-spacing="-0.25">19</text>
<line x1="343.2" y1="418.75" x2="343.2" y2="420.35" stroke="#222" stroke-width="0.8"/>
<text transform="translate(343.2,427.95) scale(1,1.1)" font-size="6.4" text-anchor="middle" letter-spacing="-0.25">22</text>
<line x1="351.5" y1="418.75" x2="351.5" y2="420.35" stroke="#222" stroke-width="0.8"/>
<text transform="translate(351.5,427.95) scale(1,1.1)" font-size="6.4" text-anchor="middle" letter-spacing="-0.25">25</text>
<line x1="359.8" y1="418.75" x2="359.8" y2="420.35" stroke="#222" stroke-width="0.8"/>
<text transform="translate(359.8,427.95) scale(1,1.1)" font-size="6.4" text-anchor="middle" letter-spacing="-0.25">28</text>
<line x1="368.1" y1="418.75" x2="368.1" y2="420.35" stroke="#222" stroke-width="0.8"/>
<text transform="translate(368.1,427.95) scale(1,1.1)" font-size="6.4" text-anchor="middle" letter-spacing="-0.25">31</text>
<line x1="376.4" y1="418.75" x2="376.4" y2="420.35" stroke="#222" stroke-width="0.8"/>
<text transform="translate(376.4,427.95) scale(1,1.1)" font-size="6.4" text-anchor="middle" letter-spacing="-0.25">34</text>
<line x1="384.7" y1="418.75" x2="384.7" y2="420.35" stroke="#222" stroke-width="0.8"/>
<text transform="translate(384.7,427.95) scale(1,1.1)" font-size="6.4" text-anchor="middle" letter-spacing="-0.25">37</text>
<line x1="393" y1="418.75" x2="393" y2="420.35" stroke="#222" stroke-width="0.8"/>
<text transform="translate(393,427.95) scale(1,1.1)" font-size="6.4" text-anchor="middle" letter-spacing="-0.25">40</text>
<text transform="translate(301.3,427.95) scale(1,1.1)" font-size="6.2" text-anchor="end">Days</text>
<text transform="translate(340.5,320) scale(1,1.1)" font-size="6.6" text-anchor="middle">Administration at ZT6</text>
<text transform="translate(284.4,373.5) rotate(-90)" font-size="6.6" text-anchor="middle" fill="#222">Mouse weight (g)</text>
<line x1="309.5" y1="392.14" x2="309.5" y2="398.4" stroke="#111" stroke-width="0.7"/>
<line x1="308.3" y1="392.14" x2="310.7" y2="392.14" stroke="#111" stroke-width="0.7"/>
<line x1="308.3" y1="398.4" x2="310.7" y2="398.4" stroke="#111" stroke-width="0.7"/>
<line x1="318.75" y1="373.36" x2="318.75" y2="381.19" stroke="#111" stroke-width="0.7"/>
<line x1="317.55" y1="373.36" x2="319.95" y2="373.36" stroke="#111" stroke-width="0.7"/>
<line x1="317.55" y1="381.19" x2="319.95" y2="381.19" stroke="#111" stroke-width="0.7"/>
<line x1="328.75" y1="370.24" x2="328.75" y2="376.5" stroke="#111" stroke-width="0.7"/>
<line x1="327.55" y1="370.24" x2="329.95" y2="370.24" stroke="#111" stroke-width="0.7"/>
<line x1="327.55" y1="376.5" x2="329.95" y2="376.5" stroke="#111" stroke-width="0.7"/>
<line x1="340" y1="371.02" x2="340" y2="375.71" stroke="#111" stroke-width="0.7"/>
<line x1="338.8" y1="371.02" x2="341.2" y2="371.02" stroke="#111" stroke-width="0.7"/>
<line x1="338.8" y1="375.71" x2="341.2" y2="375.71" stroke="#111" stroke-width="0.7"/>
<line x1="350" y1="364.76" x2="350" y2="371.02" stroke="#111" stroke-width="0.7"/>
<line x1="348.8" y1="364.76" x2="351.2" y2="364.76" stroke="#111" stroke-width="0.7"/>
<line x1="348.8" y1="371.02" x2="351.2" y2="371.02" stroke="#111" stroke-width="0.7"/>
<line x1="360" y1="370.24" x2="360" y2="376.5" stroke="#111" stroke-width="0.7"/>
<line x1="358.8" y1="370.24" x2="361.2" y2="370.24" stroke="#111" stroke-width="0.7"/>
<line x1="358.8" y1="376.5" x2="361.2" y2="376.5" stroke="#111" stroke-width="0.7"/>
<line x1="369.5" y1="367.11" x2="369.5" y2="373.37" stroke="#111" stroke-width="0.7"/>
<line x1="368.3" y1="367.11" x2="370.7" y2="367.11" stroke="#111" stroke-width="0.7"/>
<line x1="368.3" y1="373.37" x2="370.7" y2="373.37" stroke="#111" stroke-width="0.7"/>
<line x1="378.75" y1="360.06" x2="378.75" y2="364.76" stroke="#111" stroke-width="0.7"/>
<line x1="377.55" y1="360.06" x2="379.95" y2="360.06" stroke="#111" stroke-width="0.7"/>
<line x1="377.55" y1="364.76" x2="379.95" y2="364.76" stroke="#111" stroke-width="0.7"/>
<line x1="388" y1="360.06" x2="388" y2="364.76" stroke="#111" stroke-width="0.7"/>
<line x1="386.8" y1="360.06" x2="389.2" y2="360.06" stroke="#111" stroke-width="0.7"/>
<line x1="386.8" y1="364.76" x2="389.2" y2="364.76" stroke="#111" stroke-width="0.7"/>
<path d="M309.5,395.27 L318.75,377.28 L328.75,373.37 L340,373.37 L350,367.89 L360,373.37 L369.5,370.24 L378.75,362.41 L388,362.41" fill="none" stroke="#111" stroke-width="1.1"/>
<circle cx="309.5" cy="395.27" r="1.8" fill="#111"/>
<circle cx="318.75" cy="377.28" r="1.8" fill="#111"/>
<circle cx="328.75" cy="373.37" r="1.8" fill="#111"/>
<circle cx="340" cy="373.37" r="1.8" fill="#111"/>
<circle cx="350" cy="367.89" r="1.8" fill="#111"/>
<circle cx="360" cy="373.37" r="1.8" fill="#111"/>
<circle cx="369.5" cy="370.24" r="1.8" fill="#111"/>
<circle cx="378.75" cy="362.41" r="1.8" fill="#111"/>
<circle cx="388" cy="362.41" r="1.8" fill="#111"/>
<line x1="309.5" y1="391.36" x2="309.5" y2="399.19" stroke="#2b5ba6" stroke-width="0.7"/>
<line x1="308.3" y1="391.36" x2="310.7" y2="391.36" stroke="#2b5ba6" stroke-width="0.7"/>
<line x1="308.3" y1="399.19" x2="310.7" y2="399.19" stroke="#2b5ba6" stroke-width="0.7"/>
<line x1="318.75" y1="371.02" x2="318.75" y2="383.54" stroke="#2b5ba6" stroke-width="0.7"/>
<line x1="317.55" y1="371.02" x2="319.95" y2="371.02" stroke="#2b5ba6" stroke-width="0.7"/>
<line x1="317.55" y1="383.54" x2="319.95" y2="383.54" stroke="#2b5ba6" stroke-width="0.7"/>
<line x1="328.75" y1="369.45" x2="328.75" y2="377.28" stroke="#2b5ba6" stroke-width="0.7"/>
<line x1="327.55" y1="369.45" x2="329.95" y2="369.45" stroke="#2b5ba6" stroke-width="0.7"/>
<line x1="327.55" y1="377.28" x2="329.95" y2="377.28" stroke="#2b5ba6" stroke-width="0.7"/>
<line x1="340" y1="370.24" x2="340" y2="376.5" stroke="#2b5ba6" stroke-width="0.7"/>
<line x1="338.8" y1="370.24" x2="341.2" y2="370.24" stroke="#2b5ba6" stroke-width="0.7"/>
<line x1="338.8" y1="376.5" x2="341.2" y2="376.5" stroke="#2b5ba6" stroke-width="0.7"/>
<line x1="350" y1="363.97" x2="350" y2="371.8" stroke="#2b5ba6" stroke-width="0.7"/>
<line x1="348.8" y1="363.97" x2="351.2" y2="363.97" stroke="#2b5ba6" stroke-width="0.7"/>
<line x1="348.8" y1="371.8" x2="351.2" y2="371.8" stroke="#2b5ba6" stroke-width="0.7"/>
<line x1="360" y1="371.02" x2="360" y2="378.84" stroke="#2b5ba6" stroke-width="0.7"/>
<line x1="358.8" y1="371.02" x2="361.2" y2="371.02" stroke="#2b5ba6" stroke-width="0.7"/>
<line x1="358.8" y1="378.84" x2="361.2" y2="378.84" stroke="#2b5ba6" stroke-width="0.7"/>
<line x1="369.5" y1="363.19" x2="369.5" y2="371.02" stroke="#2b5ba6" stroke-width="0.7"/>
<line x1="368.3" y1="363.19" x2="370.7" y2="363.19" stroke="#2b5ba6" stroke-width="0.7"/>
<line x1="368.3" y1="371.02" x2="370.7" y2="371.02" stroke="#2b5ba6" stroke-width="0.7"/>
<line x1="378.75" y1="360.06" x2="378.75" y2="364.76" stroke="#2b5ba6" stroke-width="0.7"/>
<line x1="377.55" y1="360.06" x2="379.95" y2="360.06" stroke="#2b5ba6" stroke-width="0.7"/>
<line x1="377.55" y1="364.76" x2="379.95" y2="364.76" stroke="#2b5ba6" stroke-width="0.7"/>
<line x1="388" y1="360.06" x2="388" y2="364.76" stroke="#2b5ba6" stroke-width="0.7"/>
<line x1="386.8" y1="360.06" x2="389.2" y2="360.06" stroke="#2b5ba6" stroke-width="0.7"/>
<line x1="386.8" y1="364.76" x2="389.2" y2="364.76" stroke="#2b5ba6" stroke-width="0.7"/>
<path d="M309.5,395.27 L318.75,377.28 L328.75,373.37 L340,373.37 L350,367.89 L360,374.93 L369.5,367.11 L378.75,362.41 L388,362.41" fill="none" stroke="#2b5ba6" stroke-width="1.1"/>
<path d="M309.5,393.11 L307.52,396.71 L311.48,396.71 Z" fill="#2b5ba6"/>
<path d="M318.75,375.12 L316.77,378.72 L320.73,378.72 Z" fill="#2b5ba6"/>
<path d="M328.75,371.2 L326.77,374.81 L330.73,374.81 Z" fill="#2b5ba6"/>
<path d="M340,371.2 L338.02,374.81 L341.98,374.81 Z" fill="#2b5ba6"/>
<path d="M350,365.73 L348.02,369.33 L351.98,369.33 Z" fill="#2b5ba6"/>
<path d="M360,372.77 L358.02,376.37 L361.98,376.37 Z" fill="#2b5ba6"/>
<path d="M369.5,364.94 L367.52,368.55 L371.48,368.55 Z" fill="#2b5ba6"/>
<path d="M378.75,360.25 L376.77,363.85 L380.73,363.85 Z" fill="#2b5ba6"/>
<path d="M388,360.25 L386.02,363.85 L389.98,363.85 Z" fill="#2b5ba6"/>
<line x1="309.5" y1="391.36" x2="309.5" y2="399.19" stroke="#d8232a" stroke-width="0.7"/>
<line x1="308.3" y1="391.36" x2="310.7" y2="391.36" stroke="#d8232a" stroke-width="0.7"/>
<line x1="308.3" y1="399.19" x2="310.7" y2="399.19" stroke="#d8232a" stroke-width="0.7"/>
<line x1="318.75" y1="373.37" x2="318.75" y2="385.88" stroke="#d8232a" stroke-width="0.7"/>
<line x1="317.55" y1="373.37" x2="319.95" y2="373.37" stroke="#d8232a" stroke-width="0.7"/>
<line x1="317.55" y1="385.88" x2="319.95" y2="385.88" stroke="#d8232a" stroke-width="0.7"/>
<line x1="328.75" y1="374.15" x2="328.75" y2="381.97" stroke="#d8232a" stroke-width="0.7"/>
<line x1="327.55" y1="374.15" x2="329.95" y2="374.15" stroke="#d8232a" stroke-width="0.7"/>
<line x1="327.55" y1="381.97" x2="329.95" y2="381.97" stroke="#d8232a" stroke-width="0.7"/>
<line x1="340" y1="370.24" x2="340" y2="376.5" stroke="#d8232a" stroke-width="0.7"/>
<line x1="338.8" y1="370.24" x2="341.2" y2="370.24" stroke="#d8232a" stroke-width="0.7"/>
<line x1="338.8" y1="376.5" x2="341.2" y2="376.5" stroke="#d8232a" stroke-width="0.7"/>
<line x1="350" y1="364.76" x2="350" y2="374.15" stroke="#d8232a" stroke-width="0.7"/>
<line x1="348.8" y1="364.76" x2="351.2" y2="364.76" stroke="#d8232a" stroke-width="0.7"/>
<line x1="348.8" y1="374.15" x2="351.2" y2="374.15" stroke="#d8232a" stroke-width="0.7"/>
<line x1="360" y1="369.45" x2="360" y2="377.28" stroke="#d8232a" stroke-width="0.7"/>
<line x1="358.8" y1="369.45" x2="361.2" y2="369.45" stroke="#d8232a" stroke-width="0.7"/>
<line x1="358.8" y1="377.28" x2="361.2" y2="377.28" stroke="#d8232a" stroke-width="0.7"/>
<line x1="369.5" y1="367.89" x2="369.5" y2="375.71" stroke="#d8232a" stroke-width="0.7"/>
<line x1="368.3" y1="367.89" x2="370.7" y2="367.89" stroke="#d8232a" stroke-width="0.7"/>
<line x1="368.3" y1="375.71" x2="370.7" y2="375.71" stroke="#d8232a" stroke-width="0.7"/>
<line x1="378.75" y1="353.8" x2="378.75" y2="361.63" stroke="#d8232a" stroke-width="0.7"/>
<line x1="377.55" y1="353.8" x2="379.95" y2="353.8" stroke="#d8232a" stroke-width="0.7"/>
<line x1="377.55" y1="361.63" x2="379.95" y2="361.63" stroke="#d8232a" stroke-width="0.7"/>
<line x1="388" y1="353.8" x2="388" y2="361.63" stroke="#d8232a" stroke-width="0.7"/>
<line x1="386.8" y1="353.8" x2="389.2" y2="353.8" stroke="#d8232a" stroke-width="0.7"/>
<line x1="386.8" y1="361.63" x2="389.2" y2="361.63" stroke="#d8232a" stroke-width="0.7"/>
<path d="M309.5,395.27 L318.75,379.62 L328.75,378.06 L340,373.37 L350,369.45 L360,373.37 L369.5,371.8 L378.75,357.71 L388,357.71" fill="none" stroke="#d8232a" stroke-width="1.1"/>
<rect x="307.7" y="393.47" width="3.6" height="3.6" fill="#d8232a"/>
<rect x="316.95" y="377.82" width="3.6" height="3.6" fill="#d8232a"/>
<rect x="326.95" y="376.26" width="3.6" height="3.6" fill="#d8232a"/>
<rect x="338.2" y="371.56" width="3.6" height="3.6" fill="#d8232a"/>
<rect x="348.2" y="367.65" width="3.6" height="3.6" fill="#d8232a"/>
<rect x="358.2" y="371.56" width="3.6" height="3.6" fill="#d8232a"/>
<rect x="367.7" y="370" width="3.6" height="3.6" fill="#d8232a"/>
<rect x="376.95" y="355.91" width="3.6" height="3.6" fill="#d8232a"/>
<rect x="386.2" y="355.91" width="3.6" height="3.6" fill="#d8232a"/>
<line x1="309.5" y1="387.45" x2="309.5" y2="403.1" stroke="#6fc26b" stroke-width="0.7"/>
<line x1="308.3" y1="387.45" x2="310.7" y2="387.45" stroke="#6fc26b" stroke-width="0.7"/>
<line x1="308.3" y1="403.1" x2="310.7" y2="403.1" stroke="#6fc26b" stroke-width="0.7"/>
<line x1="318.75" y1="370.24" x2="318.75" y2="389.01" stroke="#6fc26b" stroke-width="0.7"/>
<line x1="317.55" y1="370.24" x2="319.95" y2="370.24" stroke="#6fc26b" stroke-width="0.7"/>
<line x1="317.55" y1="389.01" x2="319.95" y2="389.01" stroke="#6fc26b" stroke-width="0.7"/>
<line x1="328.75" y1="365.54" x2="328.75" y2="378.06" stroke="#6fc26b" stroke-width="0.7"/>
<line x1="327.55" y1="365.54" x2="329.95" y2="365.54" stroke="#6fc26b" stroke-width="0.7"/>
<line x1="327.55" y1="378.06" x2="329.95" y2="378.06" stroke="#6fc26b" stroke-width="0.7"/>
<line x1="340" y1="365.54" x2="340" y2="378.06" stroke="#6fc26b" stroke-width="0.7"/>
<line x1="338.8" y1="365.54" x2="341.2" y2="365.54" stroke="#6fc26b" stroke-width="0.7"/>
<line x1="338.8" y1="378.06" x2="341.2" y2="378.06" stroke="#6fc26b" stroke-width="0.7"/>
<line x1="350" y1="359.28" x2="350" y2="373.37" stroke="#6fc26b" stroke-width="0.7"/>
<line x1="348.8" y1="359.28" x2="351.2" y2="359.28" stroke="#6fc26b" stroke-width="0.7"/>
<line x1="348.8" y1="373.37" x2="351.2" y2="373.37" stroke="#6fc26b" stroke-width="0.7"/>
<line x1="360" y1="364.76" x2="360" y2="372.58" stroke="#6fc26b" stroke-width="0.7"/>
<line x1="358.8" y1="364.76" x2="361.2" y2="364.76" stroke="#6fc26b" stroke-width="0.7"/>
<line x1="358.8" y1="372.58" x2="361.2" y2="372.58" stroke="#6fc26b" stroke-width="0.7"/>
<line x1="369.5" y1="358.5" x2="369.5" y2="366.32" stroke="#6fc26b" stroke-width="0.7"/>
<line x1="368.3" y1="358.5" x2="370.7" y2="358.5" stroke="#6fc26b" stroke-width="0.7"/>
<line x1="368.3" y1="366.32" x2="370.7" y2="366.32" stroke="#6fc26b" stroke-width="0.7"/>
<line x1="378.75" y1="353.8" x2="378.75" y2="361.63" stroke="#6fc26b" stroke-width="0.7"/>
<line x1="377.55" y1="353.8" x2="379.95" y2="353.8" stroke="#6fc26b" stroke-width="0.7"/>
<line x1="377.55" y1="361.63" x2="379.95" y2="361.63" stroke="#6fc26b" stroke-width="0.7"/>
<line x1="388" y1="353.8" x2="388" y2="361.63" stroke="#6fc26b" stroke-width="0.7"/>
<line x1="386.8" y1="353.8" x2="389.2" y2="353.8" stroke="#6fc26b" stroke-width="0.7"/>
<line x1="386.8" y1="361.63" x2="389.2" y2="361.63" stroke="#6fc26b" stroke-width="0.7"/>
<path d="M309.5,395.27 L318.75,379.62 L328.75,371.8 L340,371.8 L350,366.32 L360,368.67 L369.5,362.41 L378.75,357.71 L388,357.71" fill="none" stroke="#6fc26b" stroke-width="1.1"/>
<path d="M309.5,397.44 L307.52,393.83 L311.48,393.83 Z" fill="#6fc26b"/>
<path d="M318.75,381.79 L316.77,378.19 L320.73,378.19 Z" fill="#6fc26b"/>
<path d="M328.75,373.96 L326.77,370.36 L330.73,370.36 Z" fill="#6fc26b"/>
<path d="M340,373.96 L338.02,370.36 L341.98,370.36 Z" fill="#6fc26b"/>
<path d="M350,368.48 L348.02,364.88 L351.98,364.88 Z" fill="#6fc26b"/>
<path d="M360,370.83 L358.02,367.23 L361.98,367.23 Z" fill="#6fc26b"/>
<path d="M369.5,364.57 L367.52,360.97 L371.48,360.97 Z" fill="#6fc26b"/>
<path d="M378.75,359.88 L376.77,356.27 L380.73,356.27 Z" fill="#6fc26b"/>
<path d="M388,359.88 L386.02,356.27 L389.98,356.27 Z" fill="#6fc26b"/>
<rect x="377.25" y="356.21" width="3" height="3" fill="#e0a040"/>
<rect x="386.5" y="356.21" width="3" height="3" fill="#e0a040"/>
<line x1="411.5" y1="340.4" x2="411.5" y2="418.8" stroke="#222" stroke-width="0.8"/>
<line x1="409.9" y1="418.8" x2="411.5" y2="418.8" stroke="#222" stroke-width="0.8"/>
<text transform="translate(409.1,421.03) scale(1,1.1)" font-size="6.2" text-anchor="end">12</text>
<line x1="409.9" y1="403.12" x2="411.5" y2="403.12" stroke="#222" stroke-width="0.8"/>
<text transform="translate(409.1,405.35) scale(1,1.1)" font-size="6.2" text-anchor="end">14</text>
<line x1="409.9" y1="387.44" x2="411.5" y2="387.44" stroke="#222" stroke-width="0.8"/>
<text transform="translate(409.1,389.67) scale(1,1.1)" font-size="6.2" text-anchor="end">16</text>
<line x1="409.9" y1="371.76" x2="411.5" y2="371.76" stroke="#222" stroke-width="0.8"/>
<text transform="translate(409.1,373.99) scale(1,1.1)" font-size="6.2" text-anchor="end">18</text>
<line x1="409.9" y1="356.08" x2="411.5" y2="356.08" stroke="#222" stroke-width="0.8"/>
<text transform="translate(409.1,358.31) scale(1,1.1)" font-size="6.2" text-anchor="end">20</text>
<line x1="409.9" y1="340.4" x2="411.5" y2="340.4" stroke="#222" stroke-width="0.8"/>
<text transform="translate(409.1,342.63) scale(1,1.1)" font-size="6.2" text-anchor="end">22</text>
<line x1="411.5" y1="418.8" x2="512" y2="418.8" stroke="#222" stroke-width="0.8"/>
<line x1="425.8" y1="418.8" x2="425.8" y2="420.4" stroke="#222" stroke-width="0.8"/>
<text transform="translate(425.8,428) scale(1,1.1)" font-size="6.4" text-anchor="middle" letter-spacing="-0.25">10</text>
<line x1="434.25" y1="418.8" x2="434.25" y2="420.4" stroke="#222" stroke-width="0.8"/>
<text transform="translate(434.25,428) scale(1,1.1)" font-size="6.4" text-anchor="middle" letter-spacing="-0.25">13</text>
<line x1="442.7" y1="418.8" x2="442.7" y2="420.4" stroke="#222" stroke-width="0.8"/>
<text transform="translate(442.7,428) scale(1,1.1)" font-size="6.4" text-anchor="middle" letter-spacing="-0.25">16</text>
<line x1="451.15" y1="418.8" x2="451.15" y2="420.4" stroke="#222" stroke-width="0.8"/>
<text transform="translate(451.15,428) scale(1,1.1)" font-size="6.4" text-anchor="middle" letter-spacing="-0.25">19</text>
<line x1="459.6" y1="418.8" x2="459.6" y2="420.4" stroke="#222" stroke-width="0.8"/>
<text transform="translate(459.6,428) scale(1,1.1)" font-size="6.4" text-anchor="middle" letter-spacing="-0.25">22</text>
<line x1="468.05" y1="418.8" x2="468.05" y2="420.4" stroke="#222" stroke-width="0.8"/>
<text transform="translate(468.05,428) scale(1,1.1)" font-size="6.4" text-anchor="middle" letter-spacing="-0.25">25</text>
<line x1="476.5" y1="418.8" x2="476.5" y2="420.4" stroke="#222" stroke-width="0.8"/>
<text transform="translate(476.5,428) scale(1,1.1)" font-size="6.4" text-anchor="middle" letter-spacing="-0.25">28</text>
<line x1="484.95" y1="418.8" x2="484.95" y2="420.4" stroke="#222" stroke-width="0.8"/>
<text transform="translate(484.95,428) scale(1,1.1)" font-size="6.4" text-anchor="middle" letter-spacing="-0.25">31</text>
<line x1="493.4" y1="418.8" x2="493.4" y2="420.4" stroke="#222" stroke-width="0.8"/>
<text transform="translate(493.4,428) scale(1,1.1)" font-size="6.4" text-anchor="middle" letter-spacing="-0.25">34</text>
<line x1="501.85" y1="418.8" x2="501.85" y2="420.4" stroke="#222" stroke-width="0.8"/>
<text transform="translate(501.85,428) scale(1,1.1)" font-size="6.4" text-anchor="middle" letter-spacing="-0.25">37</text>
<line x1="510.3" y1="418.8" x2="510.3" y2="420.4" stroke="#222" stroke-width="0.8"/>
<text transform="translate(510.3,428) scale(1,1.1)" font-size="6.4" text-anchor="middle" letter-spacing="-0.25">40</text>
<text transform="translate(420.3,428) scale(1,1.1)" font-size="6.2" text-anchor="end">Days</text>
<text transform="translate(458,320) scale(1,1.1)" font-size="6.6" text-anchor="middle">Administration at ZT18</text>
<line x1="425.4" y1="394.5" x2="425.4" y2="400.77" stroke="#111" stroke-width="0.7"/>
<line x1="424.2" y1="394.5" x2="426.6" y2="394.5" stroke="#111" stroke-width="0.7"/>
<line x1="424.2" y1="400.77" x2="426.6" y2="400.77" stroke="#111" stroke-width="0.7"/>
<line x1="434.2" y1="378.82" x2="434.2" y2="385.09" stroke="#111" stroke-width="0.7"/>
<line x1="433" y1="378.82" x2="435.4" y2="378.82" stroke="#111" stroke-width="0.7"/>
<line x1="433" y1="385.09" x2="435.4" y2="385.09" stroke="#111" stroke-width="0.7"/>
<line x1="445" y1="374.9" x2="445" y2="381.17" stroke="#111" stroke-width="0.7"/>
<line x1="443.8" y1="374.9" x2="446.2" y2="374.9" stroke="#111" stroke-width="0.7"/>
<line x1="443.8" y1="381.17" x2="446.2" y2="381.17" stroke="#111" stroke-width="0.7"/>
<line x1="455.4" y1="369.41" x2="455.4" y2="377.25" stroke="#111" stroke-width="0.7"/>
<line x1="454.2" y1="369.41" x2="456.6" y2="369.41" stroke="#111" stroke-width="0.7"/>
<line x1="454.2" y1="377.25" x2="456.6" y2="377.25" stroke="#111" stroke-width="0.7"/>
<line x1="465.1" y1="365.49" x2="465.1" y2="373.33" stroke="#111" stroke-width="0.7"/>
<line x1="463.9" y1="365.49" x2="466.3" y2="365.49" stroke="#111" stroke-width="0.7"/>
<line x1="463.9" y1="373.33" x2="466.3" y2="373.33" stroke="#111" stroke-width="0.7"/>
<line x1="475" y1="363.14" x2="475" y2="370.98" stroke="#111" stroke-width="0.7"/>
<line x1="473.8" y1="363.14" x2="476.2" y2="363.14" stroke="#111" stroke-width="0.7"/>
<line x1="473.8" y1="370.98" x2="476.2" y2="370.98" stroke="#111" stroke-width="0.7"/>
<line x1="484.2" y1="362.35" x2="484.2" y2="370.19" stroke="#111" stroke-width="0.7"/>
<line x1="483" y1="362.35" x2="485.4" y2="362.35" stroke="#111" stroke-width="0.7"/>
<line x1="483" y1="370.19" x2="485.4" y2="370.19" stroke="#111" stroke-width="0.7"/>
<line x1="493.5" y1="363.92" x2="493.5" y2="371.76" stroke="#111" stroke-width="0.7"/>
<line x1="492.3" y1="363.92" x2="494.7" y2="363.92" stroke="#111" stroke-width="0.7"/>
<line x1="492.3" y1="371.76" x2="494.7" y2="371.76" stroke="#111" stroke-width="0.7"/>
<line x1="503.4" y1="365.49" x2="503.4" y2="374.9" stroke="#111" stroke-width="0.7"/>
<line x1="502.2" y1="365.49" x2="504.6" y2="365.49" stroke="#111" stroke-width="0.7"/>
<line x1="502.2" y1="374.9" x2="504.6" y2="374.9" stroke="#111" stroke-width="0.7"/>
<path d="M425.4,397.63 L434.2,381.95 L445,378.03 L455.4,373.33 L465.1,369.41 L475,367.06 L484.2,366.27 L493.5,367.84 L503.4,370.19" fill="none" stroke="#111" stroke-width="1.1"/>
<circle cx="425.4" cy="397.63" r="1.8" fill="#111"/>
<circle cx="434.2" cy="381.95" r="1.8" fill="#111"/>
<circle cx="445" cy="378.03" r="1.8" fill="#111"/>
<circle cx="455.4" cy="373.33" r="1.8" fill="#111"/>
<circle cx="465.1" cy="369.41" r="1.8" fill="#111"/>
<circle cx="475" cy="367.06" r="1.8" fill="#111"/>
<circle cx="484.2" cy="366.27" r="1.8" fill="#111"/>
<circle cx="493.5" cy="367.84" r="1.8" fill="#111"/>
<circle cx="503.4" cy="370.19" r="1.8" fill="#111"/>
<line x1="425.4" y1="393.71" x2="425.4" y2="401.55" stroke="#2b5ba6" stroke-width="0.7"/>
<line x1="424.2" y1="393.71" x2="426.6" y2="393.71" stroke="#2b5ba6" stroke-width="0.7"/>
<line x1="424.2" y1="401.55" x2="426.6" y2="401.55" stroke="#2b5ba6" stroke-width="0.7"/>
<line x1="434.2" y1="378.03" x2="434.2" y2="385.87" stroke="#2b5ba6" stroke-width="0.7"/>
<line x1="433" y1="378.03" x2="435.4" y2="378.03" stroke="#2b5ba6" stroke-width="0.7"/>
<line x1="433" y1="385.87" x2="435.4" y2="385.87" stroke="#2b5ba6" stroke-width="0.7"/>
<line x1="445" y1="374.11" x2="445" y2="381.95" stroke="#2b5ba6" stroke-width="0.7"/>
<line x1="443.8" y1="374.11" x2="446.2" y2="374.11" stroke="#2b5ba6" stroke-width="0.7"/>
<line x1="443.8" y1="381.95" x2="446.2" y2="381.95" stroke="#2b5ba6" stroke-width="0.7"/>
<line x1="455.4" y1="368.62" x2="455.4" y2="378.03" stroke="#2b5ba6" stroke-width="0.7"/>
<line x1="454.2" y1="368.62" x2="456.6" y2="368.62" stroke="#2b5ba6" stroke-width="0.7"/>
<line x1="454.2" y1="378.03" x2="456.6" y2="378.03" stroke="#2b5ba6" stroke-width="0.7"/>
<line x1="465.1" y1="364.7" x2="465.1" y2="374.11" stroke="#2b5ba6" stroke-width="0.7"/>
<line x1="463.9" y1="364.7" x2="466.3" y2="364.7" stroke="#2b5ba6" stroke-width="0.7"/>
<line x1="463.9" y1="374.11" x2="466.3" y2="374.11" stroke="#2b5ba6" stroke-width="0.7"/>
<line x1="475" y1="360.78" x2="475" y2="379.6" stroke="#2b5ba6" stroke-width="0.7"/>
<line x1="473.8" y1="360.78" x2="476.2" y2="360.78" stroke="#2b5ba6" stroke-width="0.7"/>
<line x1="473.8" y1="379.6" x2="476.2" y2="379.6" stroke="#2b5ba6" stroke-width="0.7"/>
<line x1="484.2" y1="360" x2="484.2" y2="372.54" stroke="#2b5ba6" stroke-width="0.7"/>
<line x1="483" y1="360" x2="485.4" y2="360" stroke="#2b5ba6" stroke-width="0.7"/>
<line x1="483" y1="372.54" x2="485.4" y2="372.54" stroke="#2b5ba6" stroke-width="0.7"/>
<line x1="493.5" y1="362.35" x2="493.5" y2="373.33" stroke="#2b5ba6" stroke-width="0.7"/>
<line x1="492.3" y1="362.35" x2="494.7" y2="362.35" stroke="#2b5ba6" stroke-width="0.7"/>
<line x1="492.3" y1="373.33" x2="494.7" y2="373.33" stroke="#2b5ba6" stroke-width="0.7"/>
<line x1="503.4" y1="357.65" x2="503.4" y2="373.33" stroke="#2b5ba6" stroke-width="0.7"/>
<line x1="502.2" y1="357.65" x2="504.6" y2="357.65" stroke="#2b5ba6" stroke-width="0.7"/>
<line x1="502.2" y1="373.33" x2="504.6" y2="373.33" stroke="#2b5ba6" stroke-width="0.7"/>
<path d="M425.4,397.63 L434.2,381.95 L445,378.03 L455.4,373.33 L465.1,369.41 L475,370.19 L484.2,366.27 L493.5,367.84 L503.4,365.49" fill="none" stroke="#2b5ba6" stroke-width="1.1"/>
<path d="M425.4,395.47 L423.42,399.07 L427.38,399.07 Z" fill="#2b5ba6"/>
<path d="M434.2,379.79 L432.22,383.39 L436.18,383.39 Z" fill="#2b5ba6"/>
<path d="M445,375.87 L443.02,379.47 L446.98,379.47 Z" fill="#2b5ba6"/>
<path d="M455.4,371.17 L453.42,374.77 L457.38,374.77 Z" fill="#2b5ba6"/>
<path d="M465.1,367.25 L463.12,370.85 L467.08,370.85 Z" fill="#2b5ba6"/>
<path d="M475,368.03 L473.02,371.63 L476.98,371.63 Z" fill="#2b5ba6"/>
<path d="M484.2,364.11 L482.22,367.71 L486.18,367.71 Z" fill="#2b5ba6"/>
<path d="M493.5,365.68 L491.52,369.28 L495.48,369.28 Z" fill="#2b5ba6"/>
<path d="M503.4,363.33 L501.42,366.93 L505.38,366.93 Z" fill="#2b5ba6"/>
<line x1="425.4" y1="393.71" x2="425.4" y2="401.55" stroke="#d8232a" stroke-width="0.7"/>
<line x1="424.2" y1="393.71" x2="426.6" y2="393.71" stroke="#d8232a" stroke-width="0.7"/>
<line x1="424.2" y1="401.55" x2="426.6" y2="401.55" stroke="#d8232a" stroke-width="0.7"/>
<line x1="434.2" y1="378.82" x2="434.2" y2="386.66" stroke="#d8232a" stroke-width="0.7"/>
<line x1="433" y1="378.82" x2="435.4" y2="378.82" stroke="#d8232a" stroke-width="0.7"/>
<line x1="433" y1="386.66" x2="435.4" y2="386.66" stroke="#d8232a" stroke-width="0.7"/>
<line x1="445" y1="374.11" x2="445" y2="381.95" stroke="#d8232a" stroke-width="0.7"/>
<line x1="443.8" y1="374.11" x2="446.2" y2="374.11" stroke="#d8232a" stroke-width="0.7"/>
<line x1="443.8" y1="381.95" x2="446.2" y2="381.95" stroke="#d8232a" stroke-width="0.7"/>
<line x1="455.4" y1="368.62" x2="455.4" y2="378.03" stroke="#d8232a" stroke-width="0.7"/>
<line x1="454.2" y1="368.62" x2="456.6" y2="368.62" stroke="#d8232a" stroke-width="0.7"/>
<line x1="454.2" y1="378.03" x2="456.6" y2="378.03" stroke="#d8232a" stroke-width="0.7"/>
<line x1="465.1" y1="364.7" x2="465.1" y2="374.11" stroke="#d8232a" stroke-width="0.7"/>
<line x1="463.9" y1="364.7" x2="466.3" y2="364.7" stroke="#d8232a" stroke-width="0.7"/>
<line x1="463.9" y1="374.11" x2="466.3" y2="374.11" stroke="#d8232a" stroke-width="0.7"/>
<line x1="475" y1="362.35" x2="475" y2="371.76" stroke="#d8232a" stroke-width="0.7"/>
<line x1="473.8" y1="362.35" x2="476.2" y2="362.35" stroke="#d8232a" stroke-width="0.7"/>
<line x1="473.8" y1="371.76" x2="476.2" y2="371.76" stroke="#d8232a" stroke-width="0.7"/>
<line x1="484.2" y1="361.57" x2="484.2" y2="370.98" stroke="#d8232a" stroke-width="0.7"/>
<line x1="483" y1="361.57" x2="485.4" y2="361.57" stroke="#d8232a" stroke-width="0.7"/>
<line x1="483" y1="370.98" x2="485.4" y2="370.98" stroke="#d8232a" stroke-width="0.7"/>
<line x1="493.5" y1="363.14" x2="493.5" y2="372.54" stroke="#d8232a" stroke-width="0.7"/>
<line x1="492.3" y1="363.14" x2="494.7" y2="363.14" stroke="#d8232a" stroke-width="0.7"/>
<line x1="492.3" y1="372.54" x2="494.7" y2="372.54" stroke="#d8232a" stroke-width="0.7"/>
<line x1="503.4" y1="363.14" x2="503.4" y2="381.95" stroke="#d8232a" stroke-width="0.7"/>
<line x1="502.2" y1="363.14" x2="504.6" y2="363.14" stroke="#d8232a" stroke-width="0.7"/>
<line x1="502.2" y1="381.95" x2="504.6" y2="381.95" stroke="#d8232a" stroke-width="0.7"/>
<path d="M425.4,397.63 L434.2,382.74 L445,378.03 L455.4,373.33 L465.1,369.41 L475,367.06 L484.2,366.27 L493.5,367.84 L503.4,372.54" fill="none" stroke="#d8232a" stroke-width="1.1"/>
<rect x="423.6" y="395.83" width="3.6" height="3.6" fill="#d8232a"/>
<rect x="432.4" y="380.94" width="3.6" height="3.6" fill="#d8232a"/>
<rect x="443.2" y="376.23" width="3.6" height="3.6" fill="#d8232a"/>
<rect x="453.6" y="371.53" width="3.6" height="3.6" fill="#d8232a"/>
<rect x="463.3" y="367.61" width="3.6" height="3.6" fill="#d8232a"/>
<rect x="473.2" y="365.26" width="3.6" height="3.6" fill="#d8232a"/>
<rect x="482.4" y="364.47" width="3.6" height="3.6" fill="#d8232a"/>
<rect x="491.7" y="366.04" width="3.6" height="3.6" fill="#d8232a"/>
<rect x="501.6" y="370.74" width="3.6" height="3.6" fill="#d8232a"/>
<line x1="425.4" y1="393.71" x2="425.4" y2="401.55" stroke="#6fc26b" stroke-width="0.7"/>
<line x1="424.2" y1="393.71" x2="426.6" y2="393.71" stroke="#6fc26b" stroke-width="0.7"/>
<line x1="424.2" y1="401.55" x2="426.6" y2="401.55" stroke="#6fc26b" stroke-width="0.7"/>
<line x1="434.2" y1="378.82" x2="434.2" y2="386.66" stroke="#6fc26b" stroke-width="0.7"/>
<line x1="433" y1="378.82" x2="435.4" y2="378.82" stroke="#6fc26b" stroke-width="0.7"/>
<line x1="433" y1="386.66" x2="435.4" y2="386.66" stroke="#6fc26b" stroke-width="0.7"/>
<line x1="445" y1="374.11" x2="445" y2="381.95" stroke="#6fc26b" stroke-width="0.7"/>
<line x1="443.8" y1="374.11" x2="446.2" y2="374.11" stroke="#6fc26b" stroke-width="0.7"/>
<line x1="443.8" y1="381.95" x2="446.2" y2="381.95" stroke="#6fc26b" stroke-width="0.7"/>
<line x1="455.4" y1="369.41" x2="455.4" y2="378.82" stroke="#6fc26b" stroke-width="0.7"/>
<line x1="454.2" y1="369.41" x2="456.6" y2="369.41" stroke="#6fc26b" stroke-width="0.7"/>
<line x1="454.2" y1="378.82" x2="456.6" y2="378.82" stroke="#6fc26b" stroke-width="0.7"/>
<line x1="465.1" y1="364.7" x2="465.1" y2="374.11" stroke="#6fc26b" stroke-width="0.7"/>
<line x1="463.9" y1="364.7" x2="466.3" y2="364.7" stroke="#6fc26b" stroke-width="0.7"/>
<line x1="463.9" y1="374.11" x2="466.3" y2="374.11" stroke="#6fc26b" stroke-width="0.7"/>
<line x1="475" y1="361.57" x2="475" y2="370.98" stroke="#6fc26b" stroke-width="0.7"/>
<line x1="473.8" y1="361.57" x2="476.2" y2="361.57" stroke="#6fc26b" stroke-width="0.7"/>
<line x1="473.8" y1="370.98" x2="476.2" y2="370.98" stroke="#6fc26b" stroke-width="0.7"/>
<line x1="484.2" y1="359.22" x2="484.2" y2="371.76" stroke="#6fc26b" stroke-width="0.7"/>
<line x1="483" y1="359.22" x2="485.4" y2="359.22" stroke="#6fc26b" stroke-width="0.7"/>
<line x1="483" y1="371.76" x2="485.4" y2="371.76" stroke="#6fc26b" stroke-width="0.7"/>
<line x1="493.5" y1="362.35" x2="493.5" y2="371.76" stroke="#6fc26b" stroke-width="0.7"/>
<line x1="492.3" y1="362.35" x2="494.7" y2="362.35" stroke="#6fc26b" stroke-width="0.7"/>
<line x1="492.3" y1="371.76" x2="494.7" y2="371.76" stroke="#6fc26b" stroke-width="0.7"/>
<line x1="503.4" y1="363.14" x2="503.4" y2="375.68" stroke="#6fc26b" stroke-width="0.7"/>
<line x1="502.2" y1="363.14" x2="504.6" y2="363.14" stroke="#6fc26b" stroke-width="0.7"/>
<line x1="502.2" y1="375.68" x2="504.6" y2="375.68" stroke="#6fc26b" stroke-width="0.7"/>
<path d="M425.4,397.63 L434.2,382.74 L445,378.03 L455.4,374.11 L465.1,369.41 L475,366.27 L484.2,365.49 L493.5,367.06 L503.4,369.41" fill="none" stroke="#6fc26b" stroke-width="1.1"/>
<path d="M425.4,399.79 L423.42,396.19 L427.38,396.19 Z" fill="#6fc26b"/>
<path d="M434.2,384.9 L432.22,381.3 L436.18,381.3 Z" fill="#6fc26b"/>
<path d="M445,380.19 L443.02,376.59 L446.98,376.59 Z" fill="#6fc26b"/>
<path d="M455.4,376.27 L453.42,372.67 L457.38,372.67 Z" fill="#6fc26b"/>
<path d="M465.1,371.57 L463.12,367.97 L467.08,367.97 Z" fill="#6fc26b"/>
<path d="M475,368.43 L473.02,364.83 L476.98,364.83 Z" fill="#6fc26b"/>
<path d="M484.2,367.65 L482.22,364.05 L486.18,364.05 Z" fill="#6fc26b"/>
<path d="M493.5,369.22 L491.52,365.62 L495.48,365.62 Z" fill="#6fc26b"/>
<path d="M503.4,371.57 L501.42,367.97 L505.38,367.97 Z" fill="#6fc26b"/>
<text transform="translate(2.3,450.2) scale(1,1.1)" font-size="13.3" font-weight="bold" fill="#000">G</text>
<text transform="translate(149.7,444.2) scale(1,1.1)" font-size="6" text-anchor="middle">ZT6</text>
<text transform="translate(401.6,444.2) scale(1,1.1)" font-size="6" text-anchor="middle">ZT18</text>
<line x1="33" y1="449.7" x2="267.7" y2="449.7" stroke="#666" stroke-width="1"/>
<line x1="278.8" y1="449.7" x2="515.8" y2="449.7" stroke="#666" stroke-width="1"/>
<text transform="translate(63.2,460.8) scale(1,1.1)" font-size="6.2" text-anchor="middle">Control</text>
<text transform="translate(122,460.8) scale(1,1.1)" font-size="6.2" text-anchor="middle">TRA</text>
<text transform="translate(183.8,460.8) scale(1,1.1)" font-size="6.2" text-anchor="middle">MET</text>
<text transform="translate(242.7,460.8) scale(1,1.1)" font-size="6.2" text-anchor="middle">TRA+MET</text>
<text transform="translate(308.75,460.8) scale(1,1.1)" font-size="6.2" text-anchor="middle">Control</text>
<text transform="translate(369.3,460.8) scale(1,1.1)" font-size="6.2" text-anchor="middle">TRA</text>
<text transform="translate(428.8,460.8) scale(1,1.1)" font-size="6.2" text-anchor="middle">MET</text>
<text transform="translate(491,460.8) scale(1,1.1)" font-size="6.2" text-anchor="middle">TRA+MET</text>
<text transform="translate(28.8,487.1) scale(1,1.1)" font-size="6.2" text-anchor="end">Ki67</text>
<text transform="translate(28.3,523.9) scale(1,1.1)" font-size="6.2" text-anchor="end">Cleaved-</text>
<text transform="translate(29.2,531.5) scale(1,1.1)" font-size="6.2" text-anchor="end">caspase3</text>
<text transform="translate(28.3,577) scale(1,1.1)" font-size="6.2" text-anchor="end">HK2</text>
<text transform="translate(28.3,620.3) scale(1,1.1)" font-size="6.2" text-anchor="end">PER1</text>
<g clip-path="url(#ic1)">
<rect x="31.7" y="463.4" width="57.3" height="41" fill="#ccc8c6"/>
<rect x="31.7" y="463.4" width="57.3" height="41" filter="url(#fp1)" opacity="0.42"/>
<rect x="31.7" y="463.4" width="57.3" height="41" filter="url(#fc1)" opacity="0.83"/>
<rect x="31.7" y="463.4" width="57.3" height="41" filter="url(#fl1)" opacity="0.77"/>
<rect x="31.7" y="463.4" width="57.3" height="41" filter="url(#fg1)" opacity="0.56"/>
</g>
<line x1="80.5" y1="502" x2="85" y2="502" stroke="#111" stroke-width="0.9"/>
<g clip-path="url(#ic2)">
<rect x="91.9" y="463.4" width="57.3" height="41" fill="#d2cabc"/>
<rect x="91.9" y="463.4" width="57.3" height="41" filter="url(#fp2)" opacity="0.47"/>
<rect x="91.9" y="463.4" width="57.3" height="41" filter="url(#fc2)" opacity="0.83"/>
<rect x="91.9" y="463.4" width="57.3" height="41" filter="url(#fl2)" opacity="0.77"/>
<rect x="91.9" y="463.4" width="57.3" height="41" filter="url(#fg2)" opacity="0.62"/>
</g>
<line x1="140.7" y1="502" x2="145.2" y2="502" stroke="#111" stroke-width="0.9"/>
<g clip-path="url(#ic3)">
<rect x="152.1" y="463.4" width="57.5" height="41" fill="#cec8c2"/>
<rect x="152.1" y="463.4" width="57.5" height="41" filter="url(#fp3)" opacity="0.42"/>
<rect x="152.1" y="463.4" width="57.5" height="41" filter="url(#fc3)" opacity="0.83"/>
<rect x="152.1" y="463.4" width="57.5" height="41" filter="url(#fl3)" opacity="0.77"/>
<rect x="152.1" y="463.4" width="57.5" height="41" filter="url(#fg3)" opacity="0.56"/>
</g>
<line x1="201.1" y1="502" x2="205.6" y2="502" stroke="#111" stroke-width="0.9"/>
<g clip-path="url(#ic4)">
<rect x="213.1" y="463.4" width="57.1" height="41" fill="#cfc2b5"/>
<path d="M207.39,477.75 L218.81,483.9 L224.52,496.2 L229.09,508.5 L207.39,508.5 Z" fill="#a07860" opacity="0.6" filter="url(#b1_5)"/>
<path d="M250.21,459.3 L275.91,459.3 L275.91,481.85 L261.63,471.6 Z" fill="#a88a78" opacity="0.45" filter="url(#b1_5)"/>
<path d="M207.39,459.3 L250.21,459.3 L261.63,471.6 L275.91,481.85 L275.91,508.5 L229.09,508.5 L224.52,496.2 L218.81,483.9 L207.39,477.75 Z" fill="#cccbd4" opacity="0.6" filter="url(#b1_5)"/>
<rect x="213.1" y="463.4" width="57.1" height="41" filter="url(#fp4)" opacity="0.38"/>
<rect x="213.1" y="463.4" width="57.1" height="41" filter="url(#fc4)" opacity="0.75"/>
<rect x="213.1" y="463.4" width="57.1" height="41" filter="url(#fl4)" opacity="0.7"/>
<rect x="213.1" y="463.4" width="57.1" height="41" filter="url(#fg4)" opacity="0.5"/>
</g>
<line x1="261.7" y1="502" x2="266.2" y2="502" stroke="#111" stroke-width="0.9"/>
<g clip-path="url(#ic5)">
<rect x="278.8" y="463.4" width="57.9" height="41" fill="#cbc6c2"/>
<rect x="278.8" y="463.4" width="57.9" height="41" filter="url(#fp5)" opacity="0.42"/>
<rect x="278.8" y="463.4" width="57.9" height="41" filter="url(#fc5)" opacity="0.83"/>
<rect x="278.8" y="463.4" width="57.9" height="41" filter="url(#fl5)" opacity="0.77"/>
<rect x="278.8" y="463.4" width="57.9" height="41" filter="url(#fg5)" opacity="0.56"/>
</g>
<line x1="328.2" y1="502" x2="332.7" y2="502" stroke="#111" stroke-width="0.9"/>
<g clip-path="url(#ic6)">
<rect x="339.2" y="463.4" width="57.7" height="41" fill="#cbb29d"/>
<path d="M378.44,461.35 L385.36,473.65 L399.78,485.95" fill="none" stroke="#d4d8e4" stroke-width="4.5" opacity="0.85" filter="url(#b1)"/>
<rect x="339.2" y="463.4" width="57.7" height="41" filter="url(#fp6)" opacity="0.51"/>
<rect x="339.2" y="463.4" width="57.7" height="41" filter="url(#fc6)" opacity="0.83"/>
<rect x="339.2" y="463.4" width="57.7" height="41" filter="url(#fl6)" opacity="0.77"/>
<rect x="339.2" y="463.4" width="57.7" height="41" filter="url(#fg6)" opacity="0.68"/>
</g>
<line x1="388.4" y1="502" x2="392.9" y2="502" stroke="#111" stroke-width="0.9"/>
<g clip-path="url(#ic7)">
<rect x="399.6" y="463.4" width="57.9" height="41" fill="#c8bdb5"/>
<rect x="399.6" y="463.4" width="57.9" height="41" filter="url(#fp7)" opacity="0.47"/>
<rect x="399.6" y="463.4" width="57.9" height="41" filter="url(#fc7)" opacity="0.83"/>
<rect x="399.6" y="463.4" width="57.9" height="41" filter="url(#fl7)" opacity="0.77"/>
<rect x="399.6" y="463.4" width="57.9" height="41" filter="url(#fg7)" opacity="0.62"/>
</g>
<line x1="449" y1="502" x2="453.5" y2="502" stroke="#111" stroke-width="0.9"/>
<g clip-path="url(#ic8)">
<rect x="460.8" y="463.4" width="57.2" height="41" fill="#cdc6bb"/>
<path d="M472.24,506.45 L486.54,488 L503.7,475.7 L520.86,471.6" fill="none" stroke="#e6e0dc" stroke-width="3.5" opacity="0.6" filter="url(#b1)"/>
<rect x="460.8" y="463.4" width="57.2" height="41" filter="url(#fp8)" opacity="0.42"/>
<rect x="460.8" y="463.4" width="57.2" height="41" filter="url(#fc8)" opacity="0.83"/>
<rect x="460.8" y="463.4" width="57.2" height="41" filter="url(#fl8)" opacity="0.77"/>
<rect x="460.8" y="463.4" width="57.2" height="41" filter="url(#fg8)" opacity="0.56"/>
</g>
<line x1="509.5" y1="502" x2="514" y2="502" stroke="#111" stroke-width="0.9"/>
<g clip-path="url(#ic9)">
<rect x="31.7" y="507" width="57.3" height="41" fill="#cbcbd2"/>
<rect x="31.7" y="507" width="57.3" height="41" filter="url(#fp9)" opacity="0.33"/>
<rect x="31.7" y="507" width="57.3" height="41" filter="url(#fc9)" opacity="0.68"/>
<rect x="31.7" y="507" width="57.3" height="41" filter="url(#fl9)" opacity="0.63"/>
<rect x="31.7" y="507" width="57.3" height="41" filter="url(#fg9)" opacity="0.44"/>
</g>
<line x1="80.5" y1="545.6" x2="85" y2="545.6" stroke="#111" stroke-width="0.9"/>
<g clip-path="url(#ic10)">
<rect x="91.9" y="507" width="57.3" height="41" fill="#cfccc7"/>
<rect x="91.9" y="507" width="57.3" height="41" filter="url(#fp10)" opacity="0.33"/>
<rect x="91.9" y="507" width="57.3" height="41" filter="url(#fc10)" opacity="0.68"/>
<rect x="91.9" y="507" width="57.3" height="41" filter="url(#fl10)" opacity="0.63"/>
<rect x="91.9" y="507" width="57.3" height="41" filter="url(#fg10)" opacity="0.44"/>
</g>
<line x1="140.7" y1="545.6" x2="145.2" y2="545.6" stroke="#111" stroke-width="0.9"/>
<g clip-path="url(#ic11)">
<rect x="152.1" y="507" width="57.5" height="41" fill="#cfcbc5"/>
<path d="M196.95,521.35 L198.1,535.7 L202.7,550.05" fill="none" stroke="#a8784c" stroke-width="4" opacity="0.7" filter="url(#b1_5)"/>
<rect x="152.1" y="507" width="57.5" height="41" filter="url(#fp11)" opacity="0.38"/>
<rect x="152.1" y="507" width="57.5" height="41" filter="url(#fc11)" opacity="0.68"/>
<rect x="152.1" y="507" width="57.5" height="41" filter="url(#fl11)" opacity="0.63"/>
<rect x="152.1" y="507" width="57.5" height="41" filter="url(#fg11)" opacity="0.5"/>
</g>
<line x1="201.1" y1="545.6" x2="205.6" y2="545.6" stroke="#111" stroke-width="0.9"/>
<g clip-path="url(#ic12)">
<rect x="213.1" y="507" width="57.1" height="41" fill="#d4c0a9"/>
<path d="M233.08,504.95 L227.38,523.4 L219.95,539.8 L215.95,550.05" fill="none" stroke="#ece4dc" stroke-width="4" opacity="0.8" filter="url(#b1)"/>
<path d="M207.39,502.9 L230.23,502.9 L224.52,523.4 L215.95,543.9 L207.39,552.1 Z" fill="#d8ccc0" opacity="0.5" filter="url(#b1_5)"/>
<path d="M244.5,513.15 L275.91,507 L275.91,552.1 L238.79,552.1 Z" fill="#b08a68" opacity="0.4" filter="url(#b1_5)"/>
<rect x="213.1" y="507" width="57.1" height="41" filter="url(#fp12)" opacity="0.51"/>
<rect x="213.1" y="507" width="57.1" height="41" filter="url(#fc12)" opacity="0.83"/>
<rect x="213.1" y="507" width="57.1" height="41" filter="url(#fl12)" opacity="0.77"/>
<rect x="213.1" y="507" width="57.1" height="41" filter="url(#fg12)" opacity="0.68"/>
</g>
<line x1="261.7" y1="545.6" x2="266.2" y2="545.6" stroke="#111" stroke-width="0.9"/>
<g clip-path="url(#ic13)">
<rect x="278.8" y="507" width="57.9" height="41" fill="#c8c6cf"/>
<rect x="278.8" y="507" width="57.9" height="41" filter="url(#fp13)" opacity="0.33"/>
<rect x="278.8" y="507" width="57.9" height="41" filter="url(#fc13)" opacity="0.68"/>
<rect x="278.8" y="507" width="57.9" height="41" filter="url(#fl13)" opacity="0.63"/>
<rect x="278.8" y="507" width="57.9" height="41" filter="url(#fg13)" opacity="0.44"/>
</g>
<line x1="328.2" y1="545.6" x2="332.7" y2="545.6" stroke="#111" stroke-width="0.9"/>
<g clip-path="url(#ic14)">
<rect x="339.2" y="507" width="57.7" height="41" fill="#cdc8c5"/>
<path d="M378.44,504.95 L385.36,517.25 L399.78,529.55" fill="none" stroke="#d4d8e4" stroke-width="4.5" opacity="0.5" filter="url(#b1)"/>
<rect x="339.2" y="507" width="57.7" height="41" filter="url(#fp14)" opacity="0.33"/>
<rect x="339.2" y="507" width="57.7" height="41" filter="url(#fc14)" opacity="0.68"/>
<rect x="339.2" y="507" width="57.7" height="41" filter="url(#fl14)" opacity="0.63"/>
<rect x="339.2" y="507" width="57.7" height="41" filter="url(#fg14)" opacity="0.44"/>
</g>
<line x1="388.4" y1="545.6" x2="392.9" y2="545.6" stroke="#111" stroke-width="0.9"/>
<g clip-path="url(#ic15)">
<rect x="399.6" y="507" width="57.9" height="41" fill="#cbc4c1"/>
<rect x="399.6" y="507" width="57.9" height="41" filter="url(#fp15)" opacity="0.38"/>
<rect x="399.6" y="507" width="57.9" height="41" filter="url(#fc15)" opacity="0.68"/>
<rect x="399.6" y="507" width="57.9" height="41" filter="url(#fl15)" opacity="0.63"/>
<rect x="399.6" y="507" width="57.9" height="41" filter="url(#fg15)" opacity="0.5"/>
</g>
<line x1="449" y1="545.6" x2="453.5" y2="545.6" stroke="#111" stroke-width="0.9"/>
<g clip-path="url(#ic16)">
<rect x="460.8" y="507" width="57.2" height="41" fill="#d1c8bf"/>
<rect x="460.8" y="507" width="57.2" height="41" filter="url(#fp16)" opacity="0.38"/>
<rect x="460.8" y="507" width="57.2" height="41" filter="url(#fc16)" opacity="0.68"/>
<rect x="460.8" y="507" width="57.2" height="41" filter="url(#fl16)" opacity="0.63"/>
<rect x="460.8" y="507" width="57.2" height="41" filter="url(#fg16)" opacity="0.5"/>
</g>
<line x1="509.5" y1="545.6" x2="514" y2="545.6" stroke="#111" stroke-width="0.9"/>
<g clip-path="url(#ic17)">
<rect x="31.7" y="550.9" width="57.3" height="41.1" fill="#b1815f"/>
<rect x="31.7" y="550.9" width="57.3" height="41.1" filter="url(#fp17)" opacity="0.54"/>
<rect x="31.7" y="550.9" width="57.3" height="41.1" filter="url(#fc17)" opacity="0.83"/>
<rect x="31.7" y="550.9" width="57.3" height="41.1" filter="url(#fl17)" opacity="0.77"/>
<rect x="31.7" y="550.9" width="57.3" height="41.1" filter="url(#fg17)" opacity="0.72"/>
</g>
<line x1="80.5" y1="589.6" x2="85" y2="589.6" stroke="#111" stroke-width="0.9"/>
<g clip-path="url(#ic18)">
<rect x="91.9" y="550.9" width="57.3" height="41.1" fill="#c4a797"/>
<rect x="91.9" y="550.9" width="57.3" height="41.1" filter="url(#fp18)" opacity="0.45"/>
<rect x="91.9" y="550.9" width="57.3" height="41.1" filter="url(#fc18)" opacity="0.75"/>
<rect x="91.9" y="550.9" width="57.3" height="41.1" filter="url(#fl18)" opacity="0.7"/>
<rect x="91.9" y="550.9" width="57.3" height="41.1" filter="url(#fg18)" opacity="0.6"/>
</g>
<line x1="140.7" y1="589.6" x2="145.2" y2="589.6" stroke="#111" stroke-width="0.9"/>
<g clip-path="url(#ic19)">
<rect x="152.1" y="550.9" width="57.5" height="41.1" fill="#b99074"/>
<rect x="152.1" y="550.9" width="57.5" height="41.1" filter="url(#fp19)" opacity="0.5"/>
<rect x="152.1" y="550.9" width="57.5" height="41.1" filter="url(#fc19)" opacity="0.75"/>
<rect x="152.1" y="550.9" width="57.5" height="41.1" filter="url(#fl19)" opacity="0.7"/>
<rect x="152.1" y="550.9" width="57.5" height="41.1" filter="url(#fg19)" opacity="0.66"/>
</g>
<line x1="201.1" y1="589.6" x2="205.6" y2="589.6" stroke="#111" stroke-width="0.9"/>
<g clip-path="url(#ic20)">
<rect x="213.1" y="550.9" width="57.1" height="41.1" fill="#d9ccc5"/>
<path d="M207.39,546.79 L253.07,546.79 L247.36,565.28 L235.94,579.67 L224.52,596.11 L207.39,596.11 Z" fill="#e0d8dc" opacity="0.55" filter="url(#b1_5)"/>
<path d="M253.07,546.79 L275.91,546.79 L275.91,596.11 L230.23,596.11 L241.65,579.67 L250.21,565.28 Z" fill="#9a6a48" opacity="0.55" filter="url(#b1_5)"/>
<path d="M207.39,581.73 L218.81,585.84 L221.66,596.11 L207.39,596.11 Z" fill="#9a6a48" opacity="0.6" filter="url(#b1_5)"/>
<rect x="213.1" y="550.9" width="57.1" height="41.1" filter="url(#fp20)" opacity="0.36"/>
<rect x="213.1" y="550.9" width="57.1" height="41.1" filter="url(#fc20)" opacity="0.6"/>
<rect x="213.1" y="550.9" width="57.1" height="41.1" filter="url(#fl20)" opacity="0.56"/>
<rect x="213.1" y="550.9" width="57.1" height="41.1" filter="url(#fg20)" opacity="0.48"/>
</g>
<line x1="261.7" y1="589.6" x2="266.2" y2="589.6" stroke="#111" stroke-width="0.9"/>
<g clip-path="url(#ic21)">
<rect x="278.8" y="550.9" width="57.9" height="41.1" fill="#a57a65"/>
<path d="M273.01,571.45 L342.49,569.39 L342.49,596.11 L273.01,596.11 Z" fill="#6e4430" opacity="0.35" filter="url(#b2)"/>
<rect x="278.8" y="550.9" width="57.9" height="41.1" filter="url(#fp21)" opacity="0.59"/>
<rect x="278.8" y="550.9" width="57.9" height="41.1" filter="url(#fc21)" opacity="0.9"/>
<rect x="278.8" y="550.9" width="57.9" height="41.1" filter="url(#fl21)" opacity="0.84"/>
<rect x="278.8" y="550.9" width="57.9" height="41.1" filter="url(#fg21)" opacity="0.78"/>
</g>
<line x1="328.2" y1="589.6" x2="332.7" y2="589.6" stroke="#111" stroke-width="0.9"/>
<g clip-path="url(#ic22)">
<rect x="339.2" y="550.9" width="57.7" height="41.1" fill="#ba957b"/>
<path d="M378.44,548.85 L385.36,561.17 L399.78,573.5" fill="none" stroke="#d4d8e4" stroke-width="4.5" opacity="0.85" filter="url(#b1)"/>
<rect x="339.2" y="550.9" width="57.7" height="41.1" filter="url(#fp22)" opacity="0.45"/>
<rect x="339.2" y="550.9" width="57.7" height="41.1" filter="url(#fc22)" opacity="0.68"/>
<rect x="339.2" y="550.9" width="57.7" height="41.1" filter="url(#fl22)" opacity="0.63"/>
<rect x="339.2" y="550.9" width="57.7" height="41.1" filter="url(#fg22)" opacity="0.6"/>
</g>
<line x1="388.4" y1="589.6" x2="392.9" y2="589.6" stroke="#111" stroke-width="0.9"/>
<g clip-path="url(#ic23)">
<rect x="399.6" y="550.9" width="57.9" height="41.1" fill="#a3909a"/>
<path d="M396.71,569.39 L419.87,573.5 L434.34,583.78 L445.92,594.05" fill="none" stroke="#e0dce4" stroke-width="4" opacity="0.7" filter="url(#b1)"/>
<rect x="399.6" y="550.9" width="57.9" height="41.1" filter="url(#fp23)" opacity="0.5"/>
<rect x="399.6" y="550.9" width="57.9" height="41.1" filter="url(#fc23)" opacity="0.83"/>
<rect x="399.6" y="550.9" width="57.9" height="41.1" filter="url(#fl23)" opacity="0.77"/>
<rect x="399.6" y="550.9" width="57.9" height="41.1" filter="url(#fg23)" opacity="0.66"/>
</g>
<line x1="449" y1="589.6" x2="453.5" y2="589.6" stroke="#111" stroke-width="0.9"/>
<g clip-path="url(#ic24)">
<rect x="460.8" y="550.9" width="57.2" height="41.1" fill="#ba977b"/>
<path d="M472.24,594.05 L486.54,575.56 L503.7,563.23 L520.86,559.12" fill="none" stroke="#e6e0dc" stroke-width="3.5" opacity="0.6" filter="url(#b1)"/>
<rect x="460.8" y="550.9" width="57.2" height="41.1" filter="url(#fp24)" opacity="0.45"/>
<rect x="460.8" y="550.9" width="57.2" height="41.1" filter="url(#fc24)" opacity="0.75"/>
<rect x="460.8" y="550.9" width="57.2" height="41.1" filter="url(#fl24)" opacity="0.7"/>
<rect x="460.8" y="550.9" width="57.2" height="41.1" filter="url(#fg24)" opacity="0.6"/>
</g>
<line x1="509.5" y1="589.6" x2="514" y2="589.6" stroke="#111" stroke-width="0.9"/>
<g clip-path="url(#ic25)">
<rect x="31.7" y="594.8" width="57.3" height="41.2" fill="#b37e5c"/>
<rect x="31.7" y="594.8" width="57.3" height="41.2" filter="url(#fp25)" opacity="0.54"/>
<rect x="31.7" y="594.8" width="57.3" height="41.2" filter="url(#fc25)" opacity="0.83"/>
<rect x="31.7" y="594.8" width="57.3" height="41.2" filter="url(#fl25)" opacity="0.77"/>
<rect x="31.7" y="594.8" width="57.3" height="41.2" filter="url(#fg25)" opacity="0.72"/>
</g>
<line x1="80.5" y1="633.6" x2="85" y2="633.6" stroke="#111" stroke-width="0.9"/>
<g clip-path="url(#ic26)">
<rect x="91.9" y="594.8" width="57.3" height="41.2" fill="#ba8e6e"/>
<rect x="91.9" y="594.8" width="57.3" height="41.2" filter="url(#fp26)" opacity="0.5"/>
<rect x="91.9" y="594.8" width="57.3" height="41.2" filter="url(#fc26)" opacity="0.75"/>
<rect x="91.9" y="594.8" width="57.3" height="41.2" filter="url(#fl26)" opacity="0.7"/>
<rect x="91.9" y="594.8" width="57.3" height="41.2" filter="url(#fg26)" opacity="0.66"/>
</g>
<line x1="140.7" y1="633.6" x2="145.2" y2="633.6" stroke="#111" stroke-width="0.9"/>
<g clip-path="url(#ic27)">
<rect x="152.1" y="594.8" width="57.5" height="41.2" fill="#b7a6a3"/>
<rect x="152.1" y="594.8" width="57.5" height="41.2" filter="url(#fp27)" opacity="0.45"/>
<rect x="152.1" y="594.8" width="57.5" height="41.2" filter="url(#fc27)" opacity="0.75"/>
<rect x="152.1" y="594.8" width="57.5" height="41.2" filter="url(#fl27)" opacity="0.7"/>
<rect x="152.1" y="594.8" width="57.5" height="41.2" filter="url(#fg27)" opacity="0.6"/>
</g>
<line x1="201.1" y1="633.6" x2="205.6" y2="633.6" stroke="#111" stroke-width="0.9"/>
<g clip-path="url(#ic28)">
<rect x="213.1" y="594.8" width="57.1" height="41.2" fill="#d2b9ab"/>
<path d="M207.39,590.68 L250.21,590.68 L244.5,611.28 L233.08,625.7 L221.66,640.12 L207.39,640.12 Z" fill="#ddd2d0" opacity="0.5" filter="url(#b1_5)"/>
<path d="M253.07,590.68 L275.91,590.68 L275.91,640.12 L230.23,640.12 L241.65,623.64 L248.5,609.22 Z" fill="#a06e48" opacity="0.45" filter="url(#b1_5)"/>
<path d="M207.39,623.64 L219.95,627.76 L223.38,640.12 L207.39,640.12 Z" fill="#9a6a40" opacity="0.7" filter="url(#b1_5)"/>
<rect x="213.1" y="594.8" width="57.1" height="41.2" filter="url(#fp28)" opacity="0.41"/>
<rect x="213.1" y="594.8" width="57.1" height="41.2" filter="url(#fc28)" opacity="0.68"/>
<rect x="213.1" y="594.8" width="57.1" height="41.2" filter="url(#fl28)" opacity="0.63"/>
<rect x="213.1" y="594.8" width="57.1" height="41.2" filter="url(#fg28)" opacity="0.54"/>
</g>
<line x1="261.7" y1="633.6" x2="266.2" y2="633.6" stroke="#111" stroke-width="0.9"/>
<g clip-path="url(#ic29)">
<rect x="278.8" y="594.8" width="57.9" height="41.2" fill="#bea495"/>
<rect x="278.8" y="594.8" width="57.9" height="41.2" filter="url(#fp29)" opacity="0.45"/>
<rect x="278.8" y="594.8" width="57.9" height="41.2" filter="url(#fc29)" opacity="0.75"/>
<rect x="278.8" y="594.8" width="57.9" height="41.2" filter="url(#fl29)" opacity="0.7"/>
<rect x="278.8" y="594.8" width="57.9" height="41.2" filter="url(#fg29)" opacity="0.6"/>
</g>
<line x1="328.2" y1="633.6" x2="332.7" y2="633.6" stroke="#111" stroke-width="0.9"/>
<g clip-path="url(#ic30)">
<rect x="339.2" y="594.8" width="57.7" height="41.2" fill="#bd9772"/>
<path d="M378.44,592.74 L385.36,605.1 L399.78,617.46" fill="none" stroke="#d4d8e4" stroke-width="4.5" opacity="0.85" filter="url(#b1)"/>
<rect x="339.2" y="594.8" width="57.7" height="41.2" filter="url(#fp30)" opacity="0.45"/>
<rect x="339.2" y="594.8" width="57.7" height="41.2" filter="url(#fc30)" opacity="0.68"/>
<rect x="339.2" y="594.8" width="57.7" height="41.2" filter="url(#fl30)" opacity="0.63"/>
<rect x="339.2" y="594.8" width="57.7" height="41.2" filter="url(#fg30)" opacity="0.6"/>
</g>
<line x1="388.4" y1="633.6" x2="392.9" y2="633.6" stroke="#111" stroke-width="0.9"/>
<g clip-path="url(#ic31)">
<rect x="399.6" y="594.8" width="57.9" height="41.2" fill="#a490a3"/>
<path d="M396.71,613.34 L419.87,617.46 L434.34,627.76 L445.92,638.06" fill="none" stroke="#e0dce4" stroke-width="4" opacity="0.7" filter="url(#b1)"/>
<rect x="399.6" y="594.8" width="57.9" height="41.2" filter="url(#fp31)" opacity="0.5"/>
<rect x="399.6" y="594.8" width="57.9" height="41.2" filter="url(#fc31)" opacity="0.75"/>
<rect x="399.6" y="594.8" width="57.9" height="41.2" filter="url(#fl31)" opacity="0.7"/>
<rect x="399.6" y="594.8" width="57.9" height="41.2" filter="url(#fg31)" opacity="0.66"/>
</g>
<line x1="449" y1="633.6" x2="453.5" y2="633.6" stroke="#111" stroke-width="0.9"/>
<g clip-path="url(#ic32)">
<rect x="460.8" y="594.8" width="57.2" height="41.2" fill="#b69374"/>
<path d="M472.24,638.06 L486.54,619.52 L503.7,607.16 L520.86,603.04" fill="none" stroke="#e6e0dc" stroke-width="3.5" opacity="0.6" filter="url(#b1)"/>
<rect x="460.8" y="594.8" width="57.2" height="41.2" filter="url(#fp32)" opacity="0.45"/>
<rect x="460.8" y="594.8" width="57.2" height="41.2" filter="url(#fc32)" opacity="0.75"/>
<rect x="460.8" y="594.8" width="57.2" height="41.2" filter="url(#fl32)" opacity="0.7"/>
<rect x="460.8" y="594.8" width="57.2" height="41.2" filter="url(#fg32)" opacity="0.6"/>
</g>
<line x1="509.5" y1="633.6" x2="514" y2="633.6" stroke="#111" stroke-width="0.9"/>
</svg>
</body></html>
